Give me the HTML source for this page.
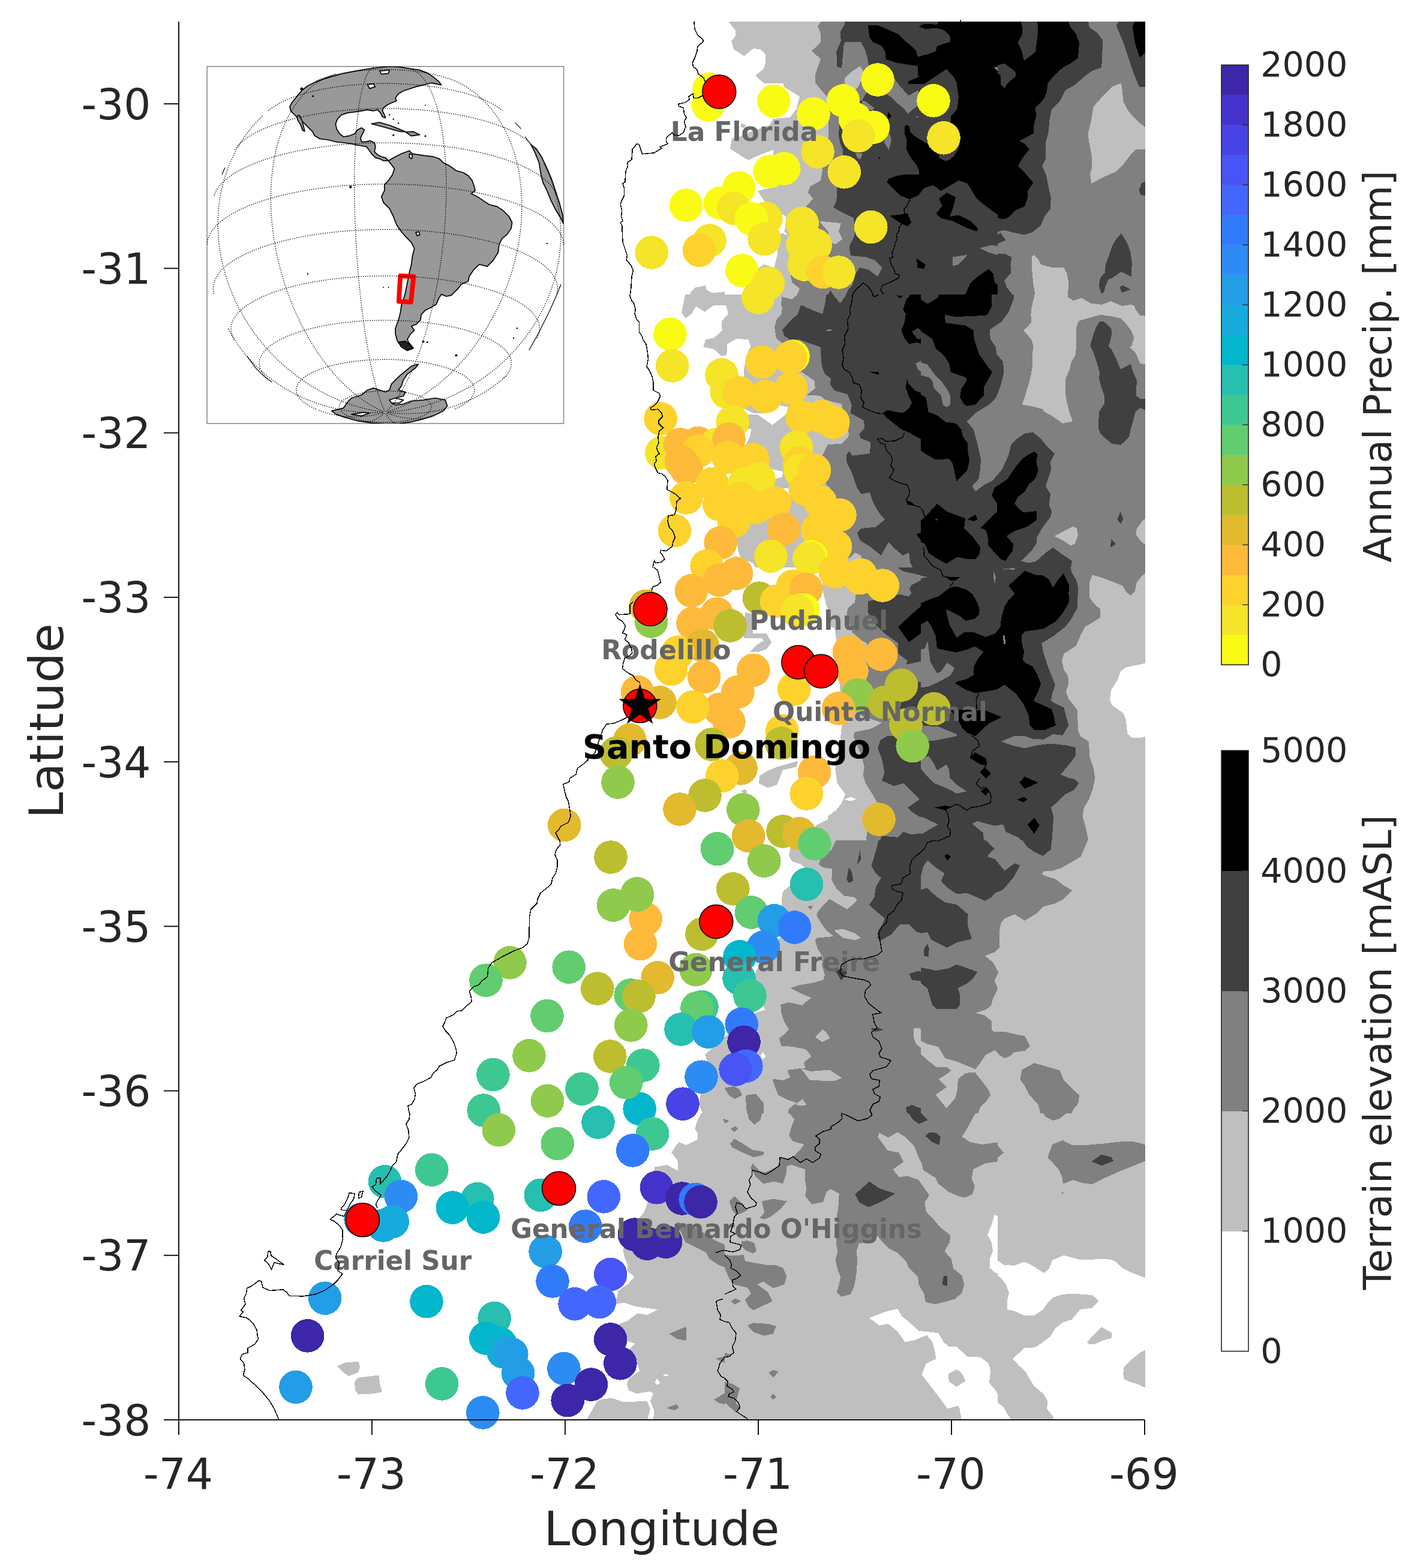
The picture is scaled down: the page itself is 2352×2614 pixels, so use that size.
<!DOCTYPE html>
<html lang="en"><head><meta charset="utf-8"><title>Precipitation stations map</title>
<style>
html,body{margin:0;padding:0;background:#fff;}
body{width:2352px;height:2614px;overflow:hidden;}
svg{display:block;}
text{font-family:"DejaVu Sans","Liberation Sans",sans-serif;fill:#262626;}
.tk{font-size:71px;}
.cb{font-size:57px;}
.lab{font-size:64px;}
.st{font-size:41px;font-weight:bold;fill:#666;}
</style></head><body>
<svg xmlns="http://www.w3.org/2000/svg" width="2352" height="2614" viewBox="0 0 2352 2614">
<rect width="2352" height="2614" fill="#fff"/>
<clipPath id="plot"><rect x="298" y="36" width="1611" height="2331"/></clipPath><g clip-path="url(#plot)" shape-rendering="crispEdges"><clipPath id="cB1"><rect x="753" y="36" width="455" height="455"/></clipPath><g clip-path="url(#cB1)"><polygon points="1150.5,488.5 1158.0,479.8 1175.5,476.0 1178.0,483.5 1188.0,488.5 1210.5,486.0 1210.5,493.5 1150.5,493.5" fill="#bfbfbf"/></g><clipPath id="cC1"><rect x="1208" y="36" width="455" height="455"/></clipPath><g clip-path="url(#cC1)"><rect x="1208" y="36" width="455" height="455" fill="#404040"/><polygon points="1532.8,288.5 1508.0,291.0 1493.0,293.5 1480.5,298.5 1478.0,303.5 1488.0,313.5 1500.5,326.0 1515.5,332.2 1530.5,326.0 1540.5,313.5 1555.5,308.5 1568.0,318.5 1598.0,301.0 1613.0,306.0 1620.5,318.5 1628.0,331.0 1643.0,343.5 1665.5,359.8 1665.5,286.0" fill="#000000"/><polygon points="1565.5,331.0 1578.0,321.0 1593.0,328.5 1588.0,348.5 1583.0,361.0 1598.0,358.5 1618.0,368.5 1630.5,381.0 1628.0,386.0 1608.0,378.5 1588.0,368.5 1568.0,363.5 1560.5,356.0 1570.5,343.5" fill="#000000"/><polygon points="1483.0,359.8 1513.0,356.0 1519.2,371.0 1513.0,377.2 1503.0,373.5" fill="#000000"/><polygon points="1528.0,431.0 1543.0,441.0 1540.5,448.5 1529.2,446.0" fill="#000000"/><polygon points="1608.0,493.5 1618.0,471.0 1633.0,458.5 1648.0,448.5 1655.5,456.0 1658.0,471.0 1663.0,476.0 1665.5,493.5" fill="#000000"/><polygon points="1633.0,413.5 1653.0,408.5 1665.5,411.0 1665.5,426.0 1648.0,421.0" fill="#808080"/><polygon points="1588.0,428.5 1613.0,424.8 1598.0,441.0 1588.0,443.5" fill="#808080"/><polygon points="1411.8,33.5 1400.5,53.5 1401.8,68.5 1394.2,86.0 1395.5,111.0 1403.0,113.5 1405.5,86.0 1406.8,73.5 1410.5,68.5 1434.2,69.8 1445.5,96.0 1448.0,108.5 1458.0,136.0 1443.0,156.5 1437.5,167.8 1408.0,170.5 1400.5,186.0 1398.0,226.0 1400.5,238.5 1405.5,251.0 1403.0,286.0 1395.5,313.5 1394.2,336.0 1389.2,346.0 1400.5,352.2 1423.0,363.5 1425.5,386.0 1423.0,396.0 1415.5,411.0 1418.0,426.0 1443.0,428.5 1458.0,433.5 1470.5,446.0 1463.0,461.0 1448.0,449.8 1433.0,446.0 1425.5,458.5 1420.5,476.0 1414.0,482.5 1409.0,493.5 1205.5,493.5 1205.5,33.5" fill="#808080"/><polygon points="1384.5,484.0 1379.0,493.5 1389.8,493.5" fill="#404040"/><polygon points="1428.0,252.2 1436.8,256.0 1434.2,264.8 1429.2,261.0" fill="#808080"/><polygon points="1370.5,33.5 1363.0,43.5 1368.0,56.0 1368.0,71.0 1353.0,84.8 1368.0,98.5 1359.2,123.5 1359.2,138.5 1378.0,161.0 1383.0,176.0 1380.5,196.0 1380.5,231.0 1373.0,253.5 1370.5,286.0 1368.0,301.0 1350.5,311.0 1346.8,321.0 1355.5,331.0 1344.2,343.5 1338.0,361.0 1333.0,411.0 1320.5,448.5 1318.0,461.0 1320.5,471.0 1333.0,481.0 1328.0,493.5 1205.5,493.5 1205.5,33.5" fill="#bfbfbf"/><polygon points="1365.5,368.5 1401.8,372.2 1398.0,386.0 1404.2,398.5 1393.0,407.2 1383.0,403.5 1380.5,386.0" fill="#bfbfbf"/><polygon points="1205.5,33.5 1214.2,36.0 1225.5,49.8 1225.5,61.0 1219.2,68.5 1223.0,82.2 1240.5,93.5 1255.5,81.0 1268.0,82.2 1275.5,89.8 1275.5,107.2 1273.0,114.8 1259.2,126.0 1273.0,138.5 1305.5,138.5 1306.8,144.8 1333.0,161.0 1328.0,181.0 1317.0,195.8 1288.5,198.0 1283.0,208.5 1250.2,220.2 1233.0,227.8 1220.5,230.2 1217.0,247.5 1235.5,260.0 1247.8,267.2 1265.0,258.8 1288.5,250.0 1288.5,256.2 1290.5,261.0 1283.0,313.5 1263.0,318.5 1273.0,333.5 1290.5,348.5 1310.5,361.0 1308.0,386.0 1313.0,392.2 1303.0,388.5 1295.5,396.0 1295.5,426.0 1290.5,446.0 1273.0,441.0 1263.0,448.5 1253.0,461.0 1245.5,481.0 1238.0,493.5 1205.5,493.5" fill="#ffffff"/><polygon points="1235.5,206.0 1243.0,208.5 1240.5,213.5 1234.2,211.0" fill="#bfbfbf"/></g><clipPath id="cC1a"><rect x="1408" y="36" width="255" height="255"/></clipPath><g clip-path="url(#cC1a)"><rect x="1408" y="36" width="255" height="255" fill="#404040"/><polygon points="1566.3,34.6 1562.1,40.9 1541.1,39.5 1531.3,44.4 1542.5,48.6 1560.7,46.5 1573.3,50.0 1583.1,59.1 1584.5,69.6 1562.1,76.6 1559.3,85.7 1548.1,89.9 1529.9,94.8 1527.1,85.0 1518.7,76.6 1506.1,66.1 1497.7,57.0 1473.9,46.5 1464.0,42.3 1446.5,41.6 1447.2,45.8 1449.3,61.2 1454.2,69.6 1469.7,76.6 1475.3,85.0 1476.7,99.1 1494.9,104.7 1529.9,110.3 1530.6,128.5 1514.5,135.5 1513.8,140.4 1539.7,140.4 1553.7,131.3 1577.5,115.2 1588.7,127.1 1594.4,136.9 1597.9,162.1 1595.8,180.3 1590.1,188.7 1584.5,194.3 1585.2,204.1 1600.0,232.2 1597.2,249.0 1590.1,260.2 1581.7,267.2 1576.1,268.6 1564.9,263.0 1565.6,258.8 1546.7,240.6 1524.3,226.6 1517.3,219.6 1515.9,211.1 1511.7,208.3 1508.2,210.4 1507.5,222.4 1511.7,235.0 1510.3,247.6 1514.5,256.0 1520.1,265.8 1527.1,274.2 1531.3,282.6 1532.7,292.4 1664.4,292.4 1664.4,34.6" fill="#000000"/><polygon points="1480.9,186.6 1485.8,193.6 1481.6,199.2 1479.2,192.9" fill="#000000"/><polygon points="1464.7,261.9 1469.7,263.0 1465.4,264.7" fill="#000000"/><polygon points="1657.4,112.4 1664.4,111.0 1664.4,120.1" fill="#808080"/><polygon points="1406.6,69.6 1434.6,69.6 1441.6,82.2 1445.8,96.2 1447.9,107.5 1462.6,132.7 1443.0,156.5 1437.4,167.7 1406.6,170.5" fill="#808080"/><polygon points="1433.9,110.3 1438.1,117.3 1436.0,132.7 1429.0,146.7 1426.2,149.5 1406.6,141.1 1406.6,131.3 1420.6,118.7" fill="#bfbfbf"/><polygon points="1486.5,127.1 1492.1,132.7 1500.5,143.9 1514.5,159.3 1531.3,150.2 1531.3,176.1 1520.1,183.1 1513.8,190.1 1506.1,180.3 1493.5,170.5 1483.7,160.7 1475.3,155.1" fill="#808080"/><polygon points="1437.4,167.7 1443.0,169.1 1457.7,180.3 1452.8,184.5 1436.0,174.7" fill="#808080"/><polygon points="1475.3,222.4 1483.7,223.8 1485.8,235.0 1481.6,249.7 1473.9,237.8" fill="#808080"/><polygon points="1426.2,254.6 1438.1,256.0 1433.9,265.8 1429.0,263.0" fill="#808080"/><polygon points="1525.7,194.0 1532.0,194.3 1529.2,196.0" fill="#808080"/></g><clipPath id="cD1"><rect x="1663" y="36" width="246" height="455"/></clipPath><g clip-path="url(#cD1)"><rect x="1663" y="36" width="246" height="455" fill="#808080"/><polygon points="1813.7,33.8 1815.9,46.1 1829.4,55.1 1838.4,67.5 1836.2,112.5 1820.4,118.1 1806.9,128.2 1791.2,141.7 1775.5,150.7 1766.5,168.7 1753.0,182.2 1749.6,197.9 1747.3,222.7 1742.8,238.4 1742.8,265.4 1737.2,276.7 1744.0,292.4 1748.5,314.9 1751.8,330.6 1750.7,348.6 1741.7,359.9 1735.0,375.6 1721.5,386.9 1708.0,391.4 1690.0,388.0 1674.2,383.5 1660.8,386.9 1660.8,33.8" fill="#404040"/><polygon points="1780.0,33.8 1784.5,45.0 1793.5,56.2 1799.1,72.0 1796.8,96.7 1784.5,105.7 1773.2,111.3 1762.0,121.5 1753.0,130.5 1746.2,139.5 1745.1,153.0 1740.6,164.2 1726.0,179.9 1727.1,193.4 1722.6,211.4 1722.6,222.7 1699.0,235.1 1708.0,239.6 1715.9,248.6 1704.6,263.2 1696.7,276.7 1708.0,287.9 1722.6,304.8 1713.6,317.2 1712.5,330.6 1708.0,344.1 1692.2,350.9 1681.0,362.1 1674.2,365.5 1660.8,363.3 1660.8,33.8" fill="#000000"/><polygon points="1701.2,33.8 1704.6,47.2 1703.5,58.5 1696.3,70.9 1703.5,85.5 1706.9,101.2 1726.0,86.6 1729.4,60.7 1730.5,45.0 1728.2,33.8" fill="#404040"/><polygon points="1660.8,109.1 1674.2,105.7 1692.2,119.2 1693.4,127.1 1679.9,138.3 1674.2,147.3 1667.5,139.5 1667.5,126.0 1660.8,120.3" fill="#404040"/><polygon points="1860.9,42.7 1865.4,33.8 1912.7,33.8 1912.7,145.1 1899.2,145.1 1890.2,123.7 1878.9,90.0 1872.2,69.7 1865.4,54.0" fill="#404040"/><polygon points="1887.9,45.0 1892.4,33.8 1912.7,33.8 1912.7,83.2 1900.3,96.7 1892.4,74.2" fill="#000000"/><polygon points="1868.8,139.0 1854.2,144.0 1840.7,157.5 1822.7,177.7 1818.2,204.7 1813.7,222.7 1814.8,233.9 1820.4,263.2 1820.4,278.9 1817.1,290.2 1819.3,305.9 1840.7,294.7 1860.9,285.7 1872.2,274.4 1885.7,256.4 1894.7,248.6 1912.7,248.6 1912.7,214.8 1899.2,204.7 1885.7,191.2 1878.9,182.2 1872.2,168.7 1871.1,153.0" fill="#bfbfbf"/><polygon points="1912.7,301.4 1903.7,304.8 1898.7,316.0 1901.4,325.0 1912.7,327.3" fill="#404040"/><polygon points="1660.8,393.6 1667.5,388.0 1676.5,400.4 1660.8,407.1" fill="#404040"/><polygon points="1660.8,422.9 1674.2,422.9 1686.6,428.5 1684.4,440.9 1685.5,454.4 1674.2,467.8 1678.7,480.2 1685.5,488.1 1687.7,494.8 1660.8,494.8" fill="#404040"/><polygon points="1720.4,427.4 1723.7,425.1 1730.5,431.9 1735.0,440.9 1755.2,446.5 1773.2,445.8 1778.8,456.6 1781.1,470.1 1780.0,494.8 1726.0,494.8 1722.6,474.6 1720.4,452.1" fill="#bfbfbf"/><polygon points="1868.8,389.1 1878.9,404.9 1884.5,420.6 1886.8,438.6 1885.7,461.1 1868.8,453.2 1854.2,463.4 1847.4,465.6 1842.9,476.8 1840.7,485.8 1836.2,490.3 1831.7,476.8 1833.9,463.4 1841.8,454.4 1842.9,440.9 1849.7,422.9 1854.2,409.4 1860.9,398.1" fill="#404040"/><polygon points="1866.6,478.0 1871.1,475.7 1884.5,482.5 1869.9,488.1" fill="#404040"/></g><clipPath id="cM2"><rect x="1080" y="491" width="455" height="455"/></clipPath><g clip-path="url(#cM2)"><rect x="1080" y="491" width="455" height="455" fill="#404040"/><polygon points="1511.2,498.5 1520.0,488.5 1537.5,488.5 1537.5,573.5 1527.5,571.0 1515.0,573.5 1507.5,563.5 1502.5,551.0 1507.5,538.5 1510.0,523.5 1505.0,516.0" fill="#000000"/><polygon points="1520.0,553.5 1528.8,547.2 1537.5,551.0 1537.5,563.5 1530.0,566.0" fill="#404040"/><polygon points="1495.0,492.2 1505.0,493.5 1500.0,497.2" fill="#000000"/><polygon points="1447.5,619.8 1465.0,619.8 1465.0,624.8" fill="#000000"/><polygon points="1511.2,631.0 1515.0,641.0 1525.0,651.0 1537.5,656.0 1537.5,733.5 1515.0,721.0 1502.5,716.0 1490.0,706.0 1477.5,696.0 1471.2,688.5 1480.0,683.5 1490.0,686.0 1505.0,688.5 1515.0,681.0 1520.0,671.0 1515.0,661.0 1510.0,646.0" fill="#000000"/><polygon points="1526.2,606.0 1537.5,599.8 1537.5,621.0 1530.0,616.0" fill="#808080"/><polygon points="1510.0,833.5 1520.0,837.2 1525.0,843.5 1512.5,841.0" fill="#000000"/><polygon points="1527.5,891.0 1537.5,886.0 1537.5,903.5" fill="#000000"/><polygon points="1377.5,488.5 1375.0,508.5 1371.2,523.5 1357.5,518.5 1335.0,508.5 1330.0,523.5 1318.8,533.5 1303.8,549.8 1307.5,559.8 1316.2,566.0 1332.5,566.0 1348.8,572.2 1367.5,578.5 1370.0,611.0 1375.0,623.5 1385.0,631.0 1383.8,641.0 1391.2,651.0 1412.5,657.2 1416.2,666.0 1420.0,676.0 1417.5,688.5 1440.0,701.0 1441.2,713.5 1432.5,723.5 1435.0,731.0 1451.2,737.2 1450.0,756.0 1421.2,759.8 1415.0,752.2 1411.2,758.5 1411.2,769.8 1421.2,791.0 1428.8,813.5 1435.0,823.5 1450.0,821.0 1455.0,836.0 1460.0,846.0 1468.8,859.8 1475.0,866.0 1460.0,878.5 1435.0,881.0 1428.8,888.5 1433.8,901.0 1450.0,911.0 1468.8,926.0 1481.2,903.5 1490.0,913.5 1505.0,926.0 1515.0,921.0 1517.5,938.5 1522.5,948.5 1077.5,948.5 1077.5,488.5" fill="#808080"/><polygon points="1376.2,549.8 1386.2,549.0 1385.0,552.2 1377.5,551.8" fill="#808080"/><polygon points="1386.2,488.5 1400.8,505.5 1412.5,488.5" fill="#808080"/><polygon points="1328.8,488.5 1328.2,492.2 1320.0,499.0 1303.5,494.8 1302.0,507.2 1303.8,513.5 1302.5,523.5 1293.8,533.5 1291.2,546.0 1293.8,563.5 1305.0,573.5 1330.0,616.0 1345.0,626.0 1357.5,634.8 1358.8,647.2 1345.0,658.5 1367.5,659.8 1375.0,666.0 1392.5,671.0 1402.5,673.5 1405.0,683.5 1415.0,723.5 1413.8,728.5 1402.5,739.8 1380.0,741.0 1367.5,766.0 1377.5,808.5 1383.8,813.5 1392.5,841.0 1405.0,891.0 1415.0,931.0 1425.0,921.0 1435.0,926.0 1440.0,938.5 1430.0,948.5 1077.5,948.5 1077.5,488.5" fill="#bfbfbf"/><polygon points="1142.5,488.5 1136.2,521.0 1142.5,531.0 1152.5,523.5 1160.0,511.0 1175.0,519.8 1190.0,508.5 1210.0,508.5 1213.8,523.5 1202.5,536.0 1203.8,551.0 1190.0,563.5 1176.2,566.0 1172.5,578.5 1190.0,582.2 1202.5,593.5 1211.2,592.2 1212.5,573.5 1227.5,564.8 1247.5,566.0 1251.2,577.2 1245.0,591.0 1240.0,616.0 1240.0,681.0 1255.0,688.5 1277.5,688.5 1300.0,676.0 1313.8,678.5 1310.0,691.0 1300.0,698.5 1287.5,708.5 1277.5,701.0 1262.5,691.0 1245.0,691.0 1242.5,716.0 1252.5,714.8 1250.0,728.5 1230.0,766.0 1292.5,783.5 1305.0,786.0 1303.8,794.8 1292.5,798.5 1280.0,816.0 1315.0,813.5 1317.5,823.5 1305.0,841.0 1255.0,861.0 1230.0,871.0 1227.5,891.0 1230.0,916.0 1235.0,931.0 1255.0,938.5 1260.0,948.5 1077.5,948.5 1077.5,488.5" fill="#ffffff"/></g><clipPath id="cR2"><rect x="1535" y="491" width="374" height="455"/></clipPath><g clip-path="url(#cR2)"><rect x="1535" y="491" width="374" height="455" fill="#808080"/><polygon points="1690.2,488.8 1690.2,497.7 1681.2,520.2 1670.0,536.0 1649.7,549.5 1650.8,565.2 1659.8,578.7 1661.0,590.0 1672.2,603.5 1673.3,621.5 1667.7,643.9 1659.8,664.2 1647.5,675.4 1627.2,687.8 1611.5,702.4 1622.7,715.9 1628.3,736.2 1635.1,765.4 1634.0,781.1 1631.7,798.0 1620.5,810.4 1626.1,819.4 1640.7,808.1 1654.2,801.4 1670.0,783.4 1681.2,758.7 1685.7,740.7 1694.7,731.7 1708.2,722.7 1721.7,720.4 1735.2,731.7 1745.3,744.0 1757.7,756.4 1750.9,769.9 1752.0,783.4 1743.1,810.4 1750.9,823.9 1748.7,841.9 1753.2,853.1 1750.9,862.1 1737.4,880.1 1728.4,895.9 1728.4,904.9 1719.4,918.4 1705.9,931.8 1701.4,935.2 1714.9,938.6 1726.2,936.3 1744.2,920.6 1755.4,912.7 1768.9,922.8 1786.9,935.2 1784.7,949.8 1532.8,949.8 1532.8,488.8" fill="#404040"/><polygon points="1532.8,603.5 1546.2,608.0 1557.5,623.7 1568.7,634.9 1580.0,650.7 1584.5,661.9 1583.4,675.4 1577.7,678.8 1572.1,675.4 1568.7,659.7 1556.4,646.2 1554.1,634.9 1548.5,629.3 1532.8,624.8" fill="#808080"/><polygon points="1564.2,488.8 1653.1,488.8 1653.1,511.2 1647.5,522.5 1643.0,525.9 1592.4,528.1 1574.4,524.7 1576.6,538.2 1609.2,542.7 1622.7,550.6 1623.8,565.2 1631.7,590.0 1647.5,612.5 1654.2,620.3 1639.6,646.2 1639.6,659.7 1626.1,674.3 1611.5,677.2 1605.9,673.2 1600.2,661.9 1602.5,648.4 1611.5,634.9 1610.3,629.3 1584.5,620.3 1582.2,605.7 1573.2,592.2 1559.7,581.0 1554.1,565.2 1532.8,550.6 1532.8,497.7 1546.2,506.7 1564.2,495.5" fill="#000000"/><polygon points="1532.8,656.3 1544.0,663.1 1547.4,686.7 1562.0,692.3 1576.6,703.6 1593.5,705.8 1602.5,715.9 1604.7,727.2 1612.6,738.4 1613.7,756.4 1616.0,767.7 1612.6,783.4 1594.6,802.5 1587.9,772.2 1582.2,765.4 1575.5,765.4 1559.7,766.5 1546.2,758.7 1532.8,749.7" fill="#000000"/><polygon points="1723.9,753.0 1729.6,757.5 1727.3,769.9 1730.7,783.4 1726.2,796.9 1714.9,808.1 1708.2,819.4 1696.9,828.4 1691.3,839.6 1696.9,846.4 1705.9,854.2 1728.4,852.0 1728.4,866.6 1712.7,877.9 1692.4,884.6 1677.8,893.6 1689.1,907.1 1687.9,918.4 1675.6,935.2 1667.7,931.8 1655.3,918.4 1647.5,909.4 1646.3,893.6 1643.0,883.5 1634.0,880.1 1647.5,866.6 1662.1,853.1 1662.1,839.6 1653.1,826.1 1657.6,812.6 1665.5,808.1 1678.9,799.1 1692.4,778.9 1705.9,763.2 1714.9,757.5" fill="#000000"/><polygon points="1562.0,839.6 1578.9,853.1 1594.6,858.7 1609.2,864.4 1607.0,880.1 1620.5,893.6 1627.2,902.6 1634.0,911.6 1632.8,924.0 1626.1,931.8 1611.5,931.8 1595.7,928.5 1577.7,939.7 1568.7,935.2 1548.5,922.8 1541.7,907.1 1532.8,902.6 1532.8,868.9 1544.0,859.9" fill="#000000"/><polygon points="1612.6,866.2 1626.1,857.6 1629.5,865.5 1623.8,868.9" fill="#000000"/><polygon points="1558.6,865.5 1563.1,864.4 1562.0,868.9" fill="#404040"/><polygon points="1725.1,488.8 1719.4,513.5 1718.3,524.7 1719.4,537.1 1712.7,545.0 1705.9,550.6 1719.4,566.3 1722.8,577.6 1720.6,590.0 1720.6,612.5 1718.3,626.0 1714.9,639.4 1708.2,661.9 1703.7,674.3 1721.7,677.7 1738.6,682.2 1739.7,685.6 1755.4,694.6 1771.2,705.8 1788.0,702.4 1782.4,686.7 1777.9,668.7 1775.7,652.9 1775.7,632.7 1782.4,617.0 1785.8,603.5 1792.5,592.2 1793.7,581.0 1793.7,547.2 1798.2,534.9 1834.1,524.7 1849.9,527.0 1867.9,530.4 1876.9,539.4 1885.9,551.7 1890.4,563.0 1885.9,577.6 1882.5,578.7 1892.6,587.7 1900.5,605.7 1911.7,608.0 1911.7,527.0 1900.5,525.9 1892.6,515.7 1890.4,509.0 1884.8,507.9 1870.1,510.1 1852.1,502.2 1836.4,507.9 1818.4,505.6 1802.7,496.6 1789.2,501.1 1780.2,495.5 1780.2,488.8" fill="#bfbfbf"/><polygon points="1757.7,893.6 1788.0,877.9 1794.8,880.1 1797.0,892.5 1791.4,907.1 1784.7,909.4 1771.2,900.4" fill="#bfbfbf"/><polygon points="1911.7,862.1 1903.9,868.9 1894.9,881.2 1893.7,891.4 1901.6,902.6 1911.7,909.4" fill="#bfbfbf"/><polygon points="1833.0,536.0 1839.8,536.0 1852.1,547.2 1853.3,556.2 1851.0,567.5 1847.6,577.6 1852.1,581.0 1858.9,594.5 1867.9,615.8 1884.8,606.8 1889.3,621.5 1894.9,633.8 1893.7,659.7 1901.6,665.3 1911.7,664.2 1911.7,684.4 1900.5,679.9 1892.6,686.7 1889.3,700.2 1884.8,715.9 1882.5,727.2 1876.9,733.9 1867.9,741.8 1853.3,739.5 1842.0,730.5 1834.1,722.7 1830.8,713.7 1831.9,686.7 1840.9,673.2 1840.9,659.7 1835.3,643.9 1831.9,630.5 1833.0,621.5 1827.4,601.2 1822.9,587.7 1817.3,576.5 1822.9,556.2 1827.4,545.0" fill="#404040"/><polygon points="1867.9,853.1 1872.4,865.5 1867.9,873.4 1862.3,865.5" fill="#404040"/><polygon points="1852.1,898.1 1860.0,907.1 1851.0,912.7" fill="#404040"/></g><clipPath id="cM3"><rect x="1080" y="946" width="455" height="455"/></clipPath><g clip-path="url(#cM3)"><polygon points="1371.2,943.5 1371.2,983.5 1377.5,1008.5 1385.0,1033.5 1390.0,1058.5 1392.5,1096.0 1400.0,1146.0 1405.0,1208.5 1402.5,1221.0 1405.0,1246.0 1402.5,1271.0 1395.0,1296.0 1393.8,1316.0 1400.0,1336.0 1402.5,1356.0 1380.0,1366.0 1360.0,1376.0 1355.0,1386.0 1367.5,1396.0 1375.0,1403.5 1537.5,1403.5 1537.5,943.5" fill="#bfbfbf"/><polygon points="1430.0,943.5 1427.5,996.0 1425.0,1021.0 1422.5,1046.0 1435.0,1058.5 1447.5,1108.5 1450.0,1133.5 1442.5,1196.0 1425.0,1221.0 1435.0,1216.0 1450.0,1221.0 1440.0,1246.0 1435.0,1258.5 1442.5,1271.0 1440.0,1296.0 1445.0,1316.0 1462.5,1331.0 1455.0,1346.0 1430.0,1371.0 1417.5,1386.0 1405.0,1403.5 1537.5,1403.5 1537.5,943.5" fill="#808080"/><polygon points="1522.5,943.5 1516.2,973.5 1520.0,988.5 1505.0,996.0 1450.0,1006.0 1447.5,1021.0 1470.0,1051.0 1495.0,1063.5 1510.0,1096.0 1525.0,1116.0 1505.0,1196.0 1465.0,1241.0 1480.0,1226.0 1492.5,1233.5 1470.0,1258.5 1467.5,1271.0 1475.0,1283.5 1472.5,1301.0 1480.0,1308.5 1505.0,1318.5 1515.0,1321.0 1520.0,1333.5 1537.5,1336.0 1537.5,943.5" fill="#404040"/><polygon points="1537.5,1336.0 1520.0,1346.0 1512.5,1356.0 1525.0,1371.0 1520.0,1383.5 1530.0,1403.5 1537.5,1403.5" fill="#404040"/><polygon points="1497.5,1043.5 1537.5,1007.2 1537.5,1048.5 1515.0,1071.0 1505.0,1058.5" fill="#000000"/><polygon points="1242.5,1021.0 1255.0,1023.5 1255.0,1056.0 1277.5,1056.0 1286.2,1071.0 1277.5,1082.2 1265.0,1086.5 1250.0,1086.5 1260.0,1076.0 1272.5,1068.5 1270.0,1063.5 1240.0,1063.5 1237.5,1056.0" fill="#bfbfbf"/><polygon points="1266.2,1293.5 1277.5,1286.0 1295.0,1278.5 1330.0,1268.5 1327.5,1278.5 1305.0,1283.5 1300.0,1296.0 1295.0,1308.5 1280.0,1313.5 1265.0,1306.0" fill="#bfbfbf"/><polygon points="1235.0,1318.5 1242.5,1316.0 1246.2,1321.0 1240.0,1322.2" fill="#bfbfbf"/><polygon points="1407.5,1332.2 1417.5,1328.5 1427.5,1332.2 1417.5,1335.2" fill="#ffffff"/></g><clipPath id="cM3r"><rect x="1380" y="946" width="155" height="455"/></clipPath><g clip-path="url(#cM3r)"><rect x="1380" y="946" width="155" height="455" fill="#404040"/><polygon points="1497.0,1045.0 1523.9,1020.2 1541.9,1004.5 1559.9,997.7 1582.4,979.7 1604.9,966.2 1636.4,966.2 1636.4,1072.0 1604.9,1072.0 1582.4,1063.0 1559.9,1051.7 1545.3,1036.0 1537.4,1054.0 1515.0,1070.8" fill="#000000"/><polygon points="1377.8,943.8 1492.5,943.8 1506.0,952.7 1537.4,959.5 1547.6,962.9 1535.2,967.4 1519.5,975.2 1516.1,982.0 1519.5,988.7 1515.0,994.4 1499.2,991.0 1447.5,1002.2 1446.4,1020.2 1458.7,1040.5 1474.5,1056.2 1497.0,1072.0 1497.0,1089.9 1512.7,1101.2 1510.5,1107.9 1541.9,1101.2 1545.3,1068.6 1547.6,1089.9 1552.1,1110.2 1561.1,1122.6 1576.8,1104.6 1590.3,1113.6 1582.4,1127.1 1564.4,1133.8 1530.7,1137.2 1515.0,1148.4 1497.0,1170.9 1488.0,1193.4 1537.4,1206.9 1550.9,1213.7 1593.7,1224.9 1559.9,1229.4 1550.9,1233.9 1537.4,1245.1 1506.0,1227.2 1479.0,1227.2 1467.7,1233.9 1463.2,1247.4 1470.0,1265.4 1474.5,1287.9 1470.0,1301.4 1490.2,1310.4 1506.0,1305.9 1519.5,1319.4 1532.9,1332.9 1512.7,1346.4 1519.5,1353.1 1537.4,1364.4 1559.9,1375.6 1550.9,1386.8 1519.5,1391.3 1506.0,1386.8 1497.0,1395.8 1470.0,1393.6 1465.5,1404.8 1377.8,1404.8" fill="#808080"/><polygon points="1377.8,943.8 1427.2,943.8 1427.2,986.5 1425.0,1004.5 1413.7,1013.5 1411.5,1022.5 1420.5,1054.0 1436.2,1067.5 1445.2,1072.0 1443.0,1112.4 1425.0,1148.4 1436.2,1193.4 1470.0,1204.7 1454.2,1213.7 1447.5,1215.9 1425.0,1220.4 1422.7,1227.2 1436.2,1260.9 1440.7,1278.9 1438.5,1292.4 1443.0,1305.9 1454.2,1323.9 1463.2,1339.6 1456.5,1350.9 1447.5,1373.4 1443.0,1404.8 1377.8,1404.8" fill="#bfbfbf"/><polygon points="1377.8,1042.7 1391.2,1047.2 1393.5,1063.0 1398.0,1125.9 1404.7,1193.4 1402.5,1215.9 1400.2,1238.4 1393.5,1260.9 1392.4,1283.4 1395.7,1305.9 1409.2,1323.9 1402.5,1339.6 1393.5,1350.9 1377.8,1362.1" fill="#ffffff"/><polygon points="1408.1,1332.4 1418.2,1328.4 1427.2,1332.4 1417.1,1335.6" fill="#ffffff"/></g><clipPath id="cR3"><rect x="1535" y="946" width="374" height="455"/></clipPath><g clip-path="url(#cR3)"><rect x="1535" y="946" width="374" height="455" fill="#404040"/><polygon points="1783.5,943.8 1786.9,955.0 1793.7,966.2 1797.0,977.5 1795.9,1013.5 1784.7,1033.7 1775.7,1045.0 1755.4,1060.7 1736.3,1072.0 1739.7,1089.9 1746.4,1110.2 1754.3,1130.4 1758.8,1141.7 1753.2,1159.7 1752.0,1168.7 1773.4,1179.9 1776.8,1193.4 1781.3,1209.2 1771.2,1226.0 1755.4,1223.8 1739.7,1232.8 1721.7,1231.7 1708.2,1227.2 1690.2,1227.2 1668.8,1236.1 1687.9,1242.9 1708.2,1247.4 1726.2,1242.9 1750.9,1239.5 1780.2,1242.9 1792.5,1246.3 1792.5,1260.9 1780.2,1276.6 1767.8,1291.3 1781.3,1296.9 1791.4,1299.1 1798.2,1305.9 1790.3,1317.1 1775.7,1323.9 1764.4,1335.1 1752.0,1346.4 1756.5,1362.1 1755.4,1373.4 1753.2,1404.8 1917.4,1404.8 1917.4,943.8" fill="#808080"/><polygon points="1917.4,950.5 1903.9,959.5 1894.9,970.7 1891.5,986.5 1884.8,993.2 1876.9,986.5 1871.3,976.4 1856.6,970.7 1836.4,962.9 1820.7,958.4 1816.2,970.7 1816.2,995.5 1821.8,1004.5 1834.1,1015.7 1834.1,1029.2 1820.7,1038.2 1808.3,1045.0 1801.5,1058.5 1793.7,1076.5 1773.4,1089.9 1770.0,1101.2 1773.4,1116.9 1780.2,1125.9 1781.3,1139.4 1776.8,1152.9 1781.3,1165.3 1791.4,1177.7 1795.9,1184.4 1797.0,1215.9 1800.4,1227.2 1815.0,1236.1 1816.2,1260.9 1822.9,1281.1 1825.1,1296.9 1821.8,1314.9 1815.0,1332.9 1806.0,1348.6 1804.9,1362.1 1809.4,1377.8 1815.0,1404.8 1917.4,1404.8" fill="#bfbfbf"/><polygon points="1917.4,1103.4 1899.4,1107.9 1876.9,1112.4 1867.9,1119.2 1863.4,1132.7 1852.1,1150.7 1849.9,1166.4 1853.3,1175.4 1872.4,1188.9 1876.9,1200.2 1879.1,1222.7 1885.9,1229.4 1899.4,1230.5 1917.4,1226.0" fill="#ffffff"/><polygon points="1532.8,1006.7 1553.0,997.7 1564.2,994.4 1583.4,979.7 1593.5,977.5 1611.5,983.1 1621.6,991.0 1629.5,1005.6 1632.8,1015.7 1631.7,1024.7 1625.0,1031.5 1609.2,1034.8 1600.2,1027.0 1589.0,1021.3 1576.6,1015.7 1582.2,1040.5 1594.6,1063.0 1607.0,1054.0 1622.7,1054.0 1643.0,1061.8 1658.7,1056.2 1667.7,1045.0 1668.8,1031.5 1674.5,1011.2 1681.2,1000.0 1691.3,989.9 1681.2,976.4 1708.2,951.6 1726.2,958.4 1738.6,959.5 1748.7,966.2 1755.4,979.7 1762.2,968.5 1772.3,956.1 1782.4,975.2 1781.3,988.7 1782.4,1003.4 1771.2,1022.5 1759.9,1036.0 1739.7,1048.3 1708.2,1052.8 1702.6,1058.5 1703.7,1074.2 1707.1,1086.6 1704.8,1100.1 1710.4,1105.7 1721.7,1111.3 1727.3,1121.4 1735.2,1139.4 1730.7,1152.9 1722.8,1168.7 1753.2,1182.2 1756.5,1193.4 1759.9,1209.2 1741.9,1217.0 1723.9,1217.0 1716.1,1208.0 1714.9,1193.4 1705.9,1173.2 1692.4,1155.2 1674.5,1141.7 1661.0,1149.6 1643.0,1152.9 1625.0,1155.2 1609.2,1149.6 1592.4,1139.4 1595.7,1136.1 1609.2,1132.7 1622.7,1125.9 1622.7,1112.4 1629.5,1098.9 1639.6,1086.6 1625.0,1077.6 1611.5,1083.2 1593.5,1087.7 1562.0,1081.0 1559.7,1060.7 1553.0,1045.0 1546.2,1034.8 1532.8,1042.7" fill="#000000"/><polygon points="1672.2,1058.5 1674.5,1059.6 1676.7,1073.1 1672.7,1074.2" fill="#808080"/><polygon points="1583.4,1182.2 1643.0,1184.4 1670.0,1195.7 1647.5,1206.9 1634.0,1219.3 1626.1,1227.2 1611.5,1221.5 1602.5,1211.4 1595.7,1197.9" fill="#000000"/><polygon points="1616.0,1263.1 1625.0,1254.1 1644.1,1264.3 1645.2,1276.6 1634.0,1274.4" fill="#000000"/><polygon points="1634.0,1287.9 1641.8,1278.9 1652.0,1290.1 1643.0,1298.0" fill="#000000"/><polygon points="1635.1,1319.4 1643.0,1311.5 1649.7,1318.2 1643.0,1326.1" fill="#000000"/><polygon points="1699.2,1304.7 1708.2,1294.6 1730.7,1304.7 1708.2,1314.9" fill="#000000"/><polygon points="1694.7,1332.9 1707.1,1328.4 1712.7,1332.9 1705.9,1337.4" fill="#000000"/><polygon points="1712.7,1374.5 1723.9,1363.2 1732.9,1375.6 1723.9,1390.2" fill="#000000"/><polygon points="1557.5,1346.4 1575.5,1343.0 1586.7,1345.2 1575.5,1350.9" fill="#000000"/><polygon points="1575.5,961.3 1600.2,962.2 1591.2,968.5 1583.4,967.4" fill="#000000"/><polygon points="1532.8,959.5 1546.2,961.7 1532.8,965.1" fill="#808080"/><polygon points="1656.5,952.7 1659.8,961.7 1658.7,973.0 1656.0,964.0" fill="#808080"/><polygon points="1667.7,948.2 1692.4,947.1 1690.2,950.0" fill="#808080"/><polygon points="1532.8,1083.2 1541.7,1081.0 1546.2,1068.6 1548.5,1085.5 1550.7,1103.4 1562.0,1122.6 1568.7,1119.2 1578.9,1104.6 1591.2,1113.6 1584.5,1125.9 1564.2,1137.2 1546.2,1145.1 1532.8,1146.2" fill="#808080"/><polygon points="1532.8,1209.2 1564.2,1211.4 1594.6,1223.8 1594.6,1227.2 1555.2,1235.0 1532.8,1236.1" fill="#808080"/><polygon points="1532.8,1260.9 1548.5,1260.9 1557.5,1274.4 1562.0,1284.5 1577.7,1274.4 1582.2,1283.4 1583.4,1296.9 1594.6,1308.1 1611.5,1319.4 1594.6,1322.7 1580.0,1314.9 1557.5,1305.9 1544.0,1292.4 1532.8,1278.9" fill="#808080"/><polygon points="1532.8,1359.9 1564.2,1374.5 1532.8,1392.5" fill="#808080"/><polygon points="1620.5,1373.4 1629.5,1368.9 1657.6,1376.7 1672.2,1374.5 1676.7,1386.8 1696.9,1395.8 1705.9,1404.8 1640.7,1404.8 1638.5,1388.0" fill="#808080"/></g><clipPath id="cM4"><rect x="1080" y="1401" width="455" height="455"/></clipPath><g clip-path="url(#cM4)"><polygon points="1320.0,1398.5 1315.0,1426.0 1320.0,1436.0 1335.0,1441.0 1340.0,1446.0 1317.5,1476.0 1305.0,1486.0 1302.5,1501.0 1303.8,1511.0 1300.0,1563.5 1270.0,1601.0 1260.0,1618.5 1255.0,1638.5 1275.0,1683.5 1260.0,1688.5 1230.0,1713.5 1207.5,1728.5 1175.0,1758.5 1180.0,1771.0 1167.5,1801.0 1167.5,1826.0 1165.0,1841.0 1172.5,1858.5 1537.5,1858.5 1537.5,1398.5" fill="#bfbfbf"/><polygon points="1267.5,1758.5 1272.5,1753.5 1276.2,1761.0 1271.2,1766.0" fill="#ffffff"/><polygon points="1395.0,1398.5 1386.2,1416.0 1367.5,1433.5 1365.0,1441.0 1371.2,1446.0 1387.5,1448.5 1386.2,1466.0 1393.8,1481.0 1407.5,1493.5 1425.0,1496.0 1428.8,1501.0 1412.5,1516.0 1382.5,1498.5 1372.5,1508.5 1362.5,1521.0 1361.2,1526.0 1370.0,1541.0 1377.5,1551.0 1390.0,1561.0 1362.5,1563.5 1358.8,1567.2 1362.5,1581.0 1367.5,1588.5 1372.5,1596.0 1370.0,1608.5 1375.0,1626.0 1372.5,1633.5 1355.0,1638.5 1332.5,1642.2 1317.5,1647.2 1330.0,1653.5 1340.0,1658.5 1352.5,1663.5 1342.5,1671.0 1337.5,1676.0 1315.0,1671.0 1301.2,1674.8 1302.5,1688.5 1307.5,1703.5 1315.0,1716.0 1305.0,1726.0 1298.8,1731.0 1302.5,1743.5 1320.0,1744.8 1340.0,1748.5 1345.0,1751.0 1352.5,1761.0 1340.0,1771.0 1342.5,1781.0 1335.0,1781.0 1315.0,1783.5 1312.5,1786.0 1317.5,1796.0 1305.0,1801.0 1287.5,1798.5 1292.5,1813.5 1297.5,1826.0 1312.5,1833.5 1327.5,1838.5 1315.0,1848.5 1312.5,1858.5 1537.5,1858.5 1537.5,1398.5" fill="#808080"/><polygon points="1390.0,1551.0 1405.0,1548.5 1425.0,1556.0 1435.0,1563.5 1425.0,1567.2 1405.0,1563.5" fill="#bfbfbf"/><polygon points="1358.8,1728.5 1371.2,1716.0 1377.5,1721.0 1383.8,1731.0 1370.0,1737.2" fill="#bfbfbf"/><polygon points="1335.0,1781.0 1350.0,1786.0 1382.5,1783.5 1403.8,1797.2 1390.0,1802.2 1350.0,1801.0" fill="#bfbfbf"/><polygon points="1326.2,1841.0 1337.5,1832.2 1345.0,1842.2 1332.5,1843.5" fill="#bfbfbf"/><polygon points="1522.5,1714.8 1530.0,1713.5 1537.5,1716.0 1537.5,1748.5 1527.5,1741.0 1522.5,1728.5" fill="#bfbfbf"/><polygon points="1207.5,1813.5 1222.5,1811.0 1232.5,1816.0 1237.5,1826.0 1225.0,1832.2 1215.0,1826.0" fill="#808080"/><polygon points="1242.5,1826.0 1260.0,1823.5 1272.5,1838.5 1272.5,1858.5 1245.0,1858.5 1243.8,1841.0" fill="#808080"/><polygon points="1345.0,1511.0 1355.0,1509.8 1351.2,1517.2" fill="#808080"/><polygon points="1465.0,1398.5 1460.0,1418.5 1452.5,1443.5 1460.0,1456.0 1468.8,1463.5 1460.0,1478.5 1457.5,1496.0 1448.8,1508.5 1462.5,1521.0 1475.0,1531.0 1470.0,1543.5 1463.8,1551.0 1462.5,1563.5 1466.2,1568.5 1485.0,1558.5 1500.0,1541.0 1515.0,1541.0 1527.5,1553.5 1537.5,1556.0 1537.5,1398.5" fill="#404040"/><polygon points="1515.0,1623.5 1530.0,1618.5 1537.5,1621.0 1537.5,1636.0 1520.0,1633.5" fill="#404040"/><polygon points="1392.5,1618.5 1402.5,1613.5 1412.5,1621.0 1402.5,1634.8" fill="#404040"/><polygon points="1450.0,1714.8 1465.0,1713.5 1472.5,1717.2 1460.0,1719.8" fill="#404040"/><polygon points="1415.0,1446.0 1420.0,1453.5 1422.5,1468.5 1415.0,1472.2 1411.2,1466.0" fill="#404040"/><polygon points="1428.8,1441.0 1433.8,1416.0 1435.0,1433.5" fill="#404040"/><polygon points="1510.0,1846.0 1520.0,1842.2 1537.5,1848.5 1537.5,1858.5 1512.5,1858.5" fill="#404040"/></g><clipPath id="cR4"><rect x="1535" y="1401" width="374" height="455"/></clipPath><g clip-path="url(#cR4)"><rect x="1535" y="1401" width="374" height="455" fill="#bfbfbf"/><polygon points="1813.9,1398.8 1809.4,1410.0 1801.5,1428.0 1784.7,1438.1 1768.9,1447.1 1754.3,1451.6 1739.7,1452.7 1736.3,1457.2 1746.4,1461.7 1758.8,1465.1 1773.4,1476.3 1786.9,1484.2 1771.2,1500.0 1757.7,1506.7 1739.7,1511.2 1728.4,1522.5 1708.2,1534.8 1691.3,1524.3 1674.5,1531.5 1668.8,1538.2 1665.5,1553.9 1665.5,1569.7 1666.6,1578.7 1657.6,1587.7 1641.8,1593.3 1656.5,1605.7 1664.3,1621.4 1657.6,1634.9 1663.2,1648.4 1655.3,1664.2 1652.0,1676.5 1643.0,1683.3 1626.1,1688.9 1640.7,1692.3 1653.1,1702.4 1653.1,1717.0 1657.6,1720.4 1674.5,1719.9 1690.2,1723.8 1708.2,1727.1 1717.2,1744.0 1708.2,1751.9 1690.2,1754.1 1683.4,1760.9 1674.5,1764.2 1665.5,1758.6 1658.7,1750.8 1643.0,1758.6 1634.0,1772.1 1626.1,1782.2 1609.2,1775.5 1595.7,1769.9 1575.5,1764.2 1564.2,1745.1 1546.2,1740.6 1532.8,1733.9 1532.8,1398.8" fill="#808080"/><polygon points="1532.8,1755.3 1546.2,1767.6 1560.9,1778.9 1577.7,1778.9 1585.6,1784.5 1577.7,1791.2 1564.2,1799.1 1577.7,1812.6 1559.7,1825.0 1577.7,1847.5 1592.4,1830.6 1595.7,1817.1 1596.9,1799.1 1609.2,1789.0 1625.0,1787.4 1636.2,1801.4 1648.6,1818.2 1650.8,1826.1 1643.0,1837.3 1634.0,1845.2 1629.5,1859.8 1532.8,1859.8" fill="#808080"/><polygon points="1723.9,1772.1 1766.7,1784.5 1773.4,1801.4 1789.2,1817.1 1799.3,1826.1 1797.0,1839.6 1789.2,1849.7 1784.7,1859.8 1735.2,1859.8 1730.7,1841.8 1714.9,1823.9 1708.2,1810.4 1700.3,1799.1 1703.7,1783.4" fill="#808080"/><polygon points="1532.8,1398.8 1640.7,1398.8 1657.6,1414.5 1645.2,1428.0 1658.7,1432.5 1674.5,1451.6 1691.3,1439.2 1700.3,1442.6 1690.2,1461.7 1678.9,1475.2 1670.0,1484.2 1658.7,1488.7 1652.0,1496.6 1641.8,1501.8 1625.0,1494.3 1611.5,1488.7 1594.6,1490.5 1577.7,1478.6 1568.7,1468.5 1574.4,1456.1 1559.7,1446.0 1546.2,1434.3 1539.5,1443.7 1532.8,1468.5" fill="#404040"/><polygon points="1532.8,1484.2 1545.1,1480.2 1562.0,1495.5 1575.5,1504.5 1594.6,1507.8 1613.7,1524.3 1612.6,1540.5 1616.0,1553.9 1620.5,1565.2 1595.7,1570.8 1578.9,1579.8 1551.9,1566.3 1546.2,1553.9 1532.8,1556.2" fill="#404040"/><polygon points="1540.6,1580.9 1545.8,1573.7 1548.9,1580.9 1547.4,1595.6 1539.9,1593.3" fill="#404040"/><polygon points="1532.8,1612.4 1559.7,1618.0 1580.0,1614.7 1594.6,1607.9 1629.5,1620.3 1620.5,1632.7 1610.3,1640.5 1596.9,1647.3 1600.2,1659.7 1600.2,1675.4 1594.6,1682.2 1562.0,1682.2 1554.1,1675.4 1546.2,1648.4 1532.8,1637.2" fill="#404040"/><polygon points="1702.6,1398.8 1712.7,1412.2 1723.9,1420.1 1738.6,1426.9 1752.0,1415.6 1753.2,1398.8" fill="#404040"/><polygon points="1574.4,1426.9 1578.9,1423.5 1585.6,1428.4 1578.9,1434.3" fill="#000000"/></g><clipPath id="cC5"><rect x="1208" y="1856" width="455" height="511"/></clipPath><g clip-path="url(#cC5)"><rect x="1208" y="1856" width="455" height="511" fill="#bfbfbf"/><polygon points="1314.1,1853.5 1324.2,1866.1 1319.1,1878.7 1315.4,1893.9 1321.7,1902.7 1340.6,1907.8 1334.3,1916.6 1321.7,1929.3 1306.5,1931.8 1300.2,1929.3 1298.9,1943.1 1276.2,1954.5 1266.1,1952.0 1254.7,1939.4 1250.9,1946.9 1258.5,1959.6 1272.4,1973.5 1291.4,1969.7 1305.2,1973.5 1310.3,1957.0 1311.6,1944.4 1319.1,1941.9 1341.9,1949.5 1341.9,1967.1 1344.4,1982.3 1341.9,1993.7 1353.2,2007.6 1372.2,2003.8 1377.2,1987.3 1384.8,1982.3 1398.7,1989.9 1397.4,2012.6 1394.9,2027.8 1393.7,2073.2 1396.2,2085.9 1392.4,2101.0 1396.2,2116.2 1401.2,2128.8 1398.7,2141.4 1394.9,2154.1 1402.5,2161.6 1417.6,2157.8 1424.0,2144.0 1427.8,2121.2 1429.0,2101.0 1427.8,2085.9 1431.5,2073.2 1442.9,2070.7 1463.1,2060.6 1470.7,2070.7 1480.8,2080.8 1496.0,2088.4 1511.1,2103.5 1514.9,2113.6 1530.1,2128.8 1531.3,2141.4 1540.2,2156.6 1542.7,2170.5 1559.1,2174.3 1574.3,2170.5 1591.9,2165.4 1603.3,2155.3 1607.1,2141.4 1603.3,2126.3 1589.4,2114.9 1585.6,2098.5 1574.3,2085.9 1583.1,2070.7 1584.4,2059.3 1566.7,2045.4 1554.0,2030.3 1543.9,2020.2 1541.4,2005.0 1549.0,1992.4 1531.3,1967.1 1513.6,1960.8 1498.5,1962.1 1488.4,1949.5 1506.1,1936.8 1498.5,1921.7 1479.5,1917.9 1463.1,1895.2 1465.6,1888.8 1480.8,1896.4 1496.0,1887.6 1508.6,1895.2 1523.7,1910.3 1531.3,1929.3 1536.4,1939.4 1538.9,1950.7 1559.1,1963.4 1564.2,1973.5 1581.8,1987.3 1599.5,1994.9 1609.6,1996.2 1621.0,1991.1 1624.8,1977.2 1619.7,1964.6 1622.2,1949.5 1642.5,1939.4 1660.1,1936.8 1665.4,1934.3 1665.4,1904.0 1637.4,1907.8 1617.2,1904.0 1603.3,1895.2 1612.1,1881.3 1627.3,1853.5" fill="#808080"/><polygon points="1245.9,1853.5 1271.1,1853.5 1267.4,1867.4 1257.3,1874.9 1248.4,1866.1" fill="#808080"/><polygon points="1205.5,1864.8 1215.6,1868.6 1205.5,1874.9" fill="#808080"/><polygon points="1218.1,1881.3 1225.7,1877.5 1230.7,1881.3 1224.4,1887.6" fill="#808080"/><polygon points="1216.8,1906.5 1224.4,1898.4 1238.3,1906.5 1253.5,1916.6 1273.7,1920.4 1272.4,1925.5 1256.0,1929.3 1235.8,1920.4 1220.6,1912.8" fill="#808080"/><polygon points="1215.6,2002.5 1224.4,1993.7 1238.3,2007.6 1245.9,2017.7 1235.8,2022.7 1226.9,2025.2 1220.6,2017.7" fill="#808080"/><polygon points="1269.9,2002.5 1288.8,1998.7 1311.6,2002.5 1301.5,2015.1 1283.8,2029.0 1273.7,2032.8 1266.6,2030.3 1274.2,2021.4" fill="#808080"/><polygon points="1235.8,2069.4 1245.9,2068.2 1257.3,2072.0 1261.0,2085.9 1254.7,2089.6 1243.4,2084.6 1237.0,2078.3" fill="#808080"/><polygon points="1205.5,2090.9 1218.1,2093.4 1239.6,2092.2 1242.1,2102.3 1276.2,2108.6 1291.4,2108.6 1305.2,2113.6 1311.1,2127.5 1307.8,2141.4 1288.8,2147.7 1272.4,2136.4 1262.3,2141.4 1280.0,2154.1 1287.6,2169.2 1256.0,2184.4 1248.4,2179.3 1242.1,2166.7 1252.2,2156.6 1245.9,2146.5 1223.2,2141.4 1215.6,2131.3 1205.5,2108.6" fill="#808080"/><polygon points="1218.1,2169.2 1225.7,2164.7 1235.8,2169.2 1224.4,2174.8" fill="#808080"/><polygon points="1245.9,2209.6 1256.0,2205.3 1281.3,2207.1 1293.9,2210.9 1288.8,2223.5 1273.7,2226.8 1256.0,2221.0" fill="#808080"/><polygon points="1205.5,2255.1 1219.4,2257.6 1205.5,2265.2" fill="#808080"/><polygon points="1281.3,2287.9 1288.8,2284.1 1297.7,2286.7 1288.8,2296.8" fill="#808080"/><polygon points="1283.8,2328.3 1288.8,2323.3 1293.9,2328.3 1288.8,2333.4" fill="#808080"/><polygon points="1205.5,2303.1 1220.6,2306.9 1233.3,2314.4 1230.7,2323.3 1226.9,2338.4 1234.5,2348.5 1226.9,2354.9 1205.5,2335.9" fill="#808080"/><polygon points="1513.6,1853.5 1533.8,1853.5 1546.5,1867.4 1531.3,1873.7 1521.2,1866.1" fill="#404040"/><polygon points="1542.7,1893.9 1549.0,1887.6 1561.6,1888.8 1567.9,1895.2 1565.4,1909.0 1554.0,1904.0" fill="#404040"/><polygon points="1425.2,1991.1 1449.2,1969.7 1465.6,1981.0 1492.2,1989.9 1470.7,2002.5 1448.0,2012.6 1432.8,2005.0" fill="#404040"/><polygon points="1573.0,2127.5 1579.3,2126.8 1578.8,2144.0 1570.5,2141.4" fill="#404040"/><polygon points="1449.2,2197.0 1475.7,2186.9 1496.0,2181.8 1503.5,2194.5 1516.2,2204.6 1531.3,2218.5 1564.2,2222.3 1573.0,2237.4 1581.8,2245.0 1594.5,2245.0 1612.1,2261.4 1634.9,2262.7 1647.5,2272.8 1651.3,2285.4 1648.8,2305.6 1660.1,2318.2 1665.4,2328.3 1665.4,2368.8 1603.3,2368.8 1599.5,2348.5 1597.0,2343.5 1579.3,2348.5 1566.7,2330.9 1549.0,2308.1 1536.4,2291.7 1543.9,2272.8 1560.4,2265.2 1557.8,2250.0 1554.0,2237.4 1545.2,2226.0 1526.3,2233.6 1508.6,2237.4 1496.0,2219.7 1480.8,2207.1 1465.6,2209.6" fill="#ffffff"/><polygon points="1580.6,2290.5 1594.5,2282.9 1602.0,2287.9 1609.6,2301.8 1594.5,2311.9 1581.8,2303.1" fill="#bfbfbf"/><polygon points="1665.4,2027.8 1657.6,2025.2 1652.6,2042.9 1646.2,2058.1 1652.6,2070.7 1655.1,2085.9 1650.0,2098.5 1649.5,2113.6 1657.6,2121.2 1665.4,2123.7" fill="#ffffff"/></g><clipPath id="cD5"><rect x="1663" y="1856" width="247" height="511"/></clipPath><g clip-path="url(#cD5)"><rect x="1663" y="1856" width="247" height="511" fill="#bfbfbf"/><polygon points="1660.5,2099.7 1673.1,2108.6 1690.8,2109.9 1707.2,2103.5 1723.6,2111.1 1740.0,2122.5 1748.9,2114.9 1753.9,2101.0 1772.9,2092.7 1801.9,2100.5 1834.8,2099.0 1852.4,2099.7 1860.0,2103.5 1870.1,2113.6 1885.3,2121.2 1911.8,2131.3 1911.8,2248.8 1900.4,2255.1 1887.8,2265.2 1873.9,2279.1 1872.1,2290.5 1873.9,2299.3 1885.3,2304.3 1897.9,2308.1 1911.8,2314.4 1911.8,2368.8 1756.5,2368.8 1755.2,2361.2 1745.1,2348.5 1746.4,2335.9 1738.8,2323.3 1723.6,2310.7 1713.5,2294.2 1709.7,2286.7 1698.4,2276.6 1688.3,2265.2 1707.2,2247.5 1724.9,2246.3 1738.8,2237.4 1751.4,2227.3 1759.0,2214.7 1771.6,2204.6 1786.8,2199.5 1800.7,2183.1 1819.6,2180.6 1831.7,2169.2 1820.9,2159.1 1789.3,2156.6 1771.6,2157.8 1755.2,2162.9 1747.6,2170.5 1738.8,2183.1 1723.6,2193.2 1707.2,2193.2 1690.8,2185.6 1679.4,2183.1 1679.4,2166.7 1681.9,2155.3 1676.9,2141.4 1668.1,2130.1 1660.5,2126.3" fill="#ffffff"/><polygon points="1812.0,2237.4 1824.7,2223.5 1836.0,2212.2 1853.7,2222.3 1852.4,2231.1 1837.3,2234.9 1824.7,2241.2 1815.8,2241.2" fill="#bfbfbf"/><polygon points="1660.5,2335.9 1673.1,2346.0 1679.4,2357.4 1687.0,2368.8 1660.5,2368.8" fill="#ffffff"/><polygon points="1736.3,1853.5 1743.8,1862.3 1755.2,1868.1 1766.6,1864.8 1780.5,1853.5" fill="#808080"/><polygon points="1660.5,1906.5 1673.1,1921.7 1660.5,1931.8" fill="#808080"/><polygon points="1746.4,1929.3 1753.9,1907.8 1771.6,1901.0 1786.8,1909.0 1809.5,1909.0 1839.8,1906.5 1872.6,1902.7 1890.3,1903.2 1911.8,1909.0 1911.8,1934.3 1890.3,1943.1 1865.1,1953.2 1839.8,1964.6 1820.9,1974.2 1804.4,1972.2 1788.0,1967.1 1772.1,1973.5 1770.4,1962.1 1764.0,1948.2 1756.5,1940.6" fill="#808080"/><polygon points="1819.6,1936.3 1836.0,1924.7 1852.4,1929.3 1856.2,1935.6 1836.0,1943.1" fill="#404040"/><polygon points="1769.1,1989.9 1771.6,1986.8 1772.9,1990.4" fill="#808080"/></g><clipPath id="cB5"><rect x="753" y="1856" width="455" height="511"/></clipPath><g clip-path="url(#cB5)"><polygon points="1169.8,1853.5 1162.2,1868.6 1158.4,1881.3 1163.5,1891.4 1162.2,1900.2 1143.3,1909.0 1131.9,1904.0 1125.6,1911.6 1119.3,1921.7 1129.4,1934.3 1130.6,1952.0 1111.7,1941.9 1091.5,1945.7 1078.8,2007.6 1073.8,2020.2 1063.7,2032.8 1038.4,2083.3 1041.0,2096.0 1046.0,2108.6 1046.0,2118.7 1057.4,2128.8 1046.0,2141.4 1030.8,2151.5 1025.8,2174.3 1041.0,2171.7 1059.9,2178.1 1096.5,2183.1 1078.8,2191.9 1062.4,2189.4 1046.0,2202.0 1032.1,2207.1 1043.5,2234.9 1058.6,2239.9 1048.5,2250.0 1059.9,2265.2 1066.2,2285.4 1048.5,2298.0 1044.7,2308.1 1048.5,2318.2 1061.2,2323.3 1083.9,2319.5 1076.3,2328.3 1078.8,2335.9 1038.4,2337.2 1020.7,2330.9 1005.6,2332.1 995.5,2335.9 985.4,2353.6 976.5,2368.8 1210.4,2368.8 1210.4,1853.5" fill="#bfbfbf"/><polygon points="1091.5,2304.3 1095.3,2298.0 1100.3,2305.6 1095.3,2309.4" fill="#ffffff"/><polygon points="1105.4,2291.7 1112.9,2290.5 1114.2,2294.2 1106.6,2294.2" fill="#ffffff"/><polygon points="1083.9,2319.5 1076.3,2328.3 1078.8,2335.9 1083.9,2348.5 1078.8,2368.8 1088.9,2368.8 1090.2,2351.1 1083.9,2335.9 1088.9,2323.3" fill="#ffffff"/><polygon points="1126.8,2037.9 1139.5,2039.1 1162.2,2048.0 1177.3,2058.1 1192.5,2068.2 1210.4,2075.8 1210.4,2113.6 1197.6,2108.6 1182.4,2098.5 1177.3,2088.4 1157.1,2078.3 1142.0,2070.7 1136.9,2058.1" fill="#808080"/><polygon points="1115.5,2223.5 1143.3,2211.6 1144.5,2224.8 1143.3,2234.9 1129.4,2232.4" fill="#808080"/><polygon points="1192.5,2265.2 1210.4,2260.1 1210.4,2272.8" fill="#808080"/><polygon points="1190.0,2333.4 1210.4,2320.8 1210.4,2342.2 1197.6,2338.4" fill="#808080"/><polygon points="1110.4,2347.3 1128.1,2341.0 1131.9,2347.3 1124.3,2351.1" fill="#808080"/><polygon points="1205.1,1866.1 1210.4,1863.6 1210.4,1876.2" fill="#808080"/></g><clipPath id="cA5"><rect x="298" y="1856" width="455" height="511"/></clipPath><g clip-path="url(#cA5)"><polygon points="562.0,2277.3 575.8,2271.5 597.3,2269.7 600.3,2279.1 597.3,2287.9 580.9,2294.2 572.1,2287.9" fill="#bfbfbf"/><polygon points="591.0,2304.3 596.1,2296.8 631.4,2292.5 633.4,2308.1 637.0,2320.3 623.8,2323.3 597.3,2324.6 592.3,2318.2" fill="#bfbfbf"/></g></g>
<g shape-rendering="crispEdges"><circle cx="1051.2" cy="1659.0" r="27.8" fill="#62CC70"/><circle cx="1182.0" cy="148.2" r="27.8" fill="#F9FB15"/><circle cx="1180.8" cy="175.0" r="27.8" fill="#F9FB15"/><circle cx="1143.8" cy="342.2" r="27.8" fill="#F9FB15"/><circle cx="1200.5" cy="338.5" r="27.8" fill="#F9FB15"/><circle cx="1183.0" cy="401.0" r="27.8" fill="#F5E427"/><circle cx="1165.5" cy="417.2" r="27.8" fill="#FDD22D"/><circle cx="1086.2" cy="421.0" r="27.8" fill="#F5E427"/><circle cx="1290.0" cy="168.5" r="27.8" fill="#F9FB15"/><circle cx="1356.0" cy="189.8" r="27.8" fill="#F9FB15"/><circle cx="1405.5" cy="168.0" r="27.8" fill="#F9FB15"/><circle cx="1463.0" cy="133.0" r="27.8" fill="#F9FB15"/><circle cx="1556.0" cy="167.8" r="27.8" fill="#F9FB15"/><circle cx="1425.5" cy="198.5" r="27.8" fill="#F9FB15"/><circle cx="1455.5" cy="212.2" r="27.8" fill="#F9FB15"/><circle cx="1431.0" cy="226.5" r="27.8" fill="#F5E427"/><circle cx="1573.0" cy="229.8" r="27.8" fill="#F5E427"/><circle cx="1363.0" cy="253.0" r="27.8" fill="#F5E427"/><circle cx="1407.2" cy="286.8" r="27.8" fill="#F5E427"/><circle cx="1283.0" cy="286.0" r="27.8" fill="#F9FB15"/><circle cx="1306.8" cy="281.0" r="27.8" fill="#F9FB15"/><circle cx="1231.8" cy="313.0" r="27.8" fill="#F9FB15"/><circle cx="1223.0" cy="347.2" r="27.8" fill="#F5E427"/><circle cx="1276.8" cy="364.0" r="27.8" fill="#F5E427"/><circle cx="1252.2" cy="364.8" r="27.8" fill="#F9FB15"/><circle cx="1274.2" cy="398.5" r="27.8" fill="#F5E427"/><circle cx="1337.2" cy="372.2" r="27.8" fill="#F5E427"/><circle cx="1338.0" cy="408.5" r="27.8" fill="#F5E427"/><circle cx="1359.2" cy="408.5" r="27.8" fill="#F5E427"/><circle cx="1340.5" cy="441.0" r="27.8" fill="#F5E427"/><circle cx="1371.8" cy="453.5" r="27.8" fill="#FDD22D"/><circle cx="1398.0" cy="454.0" r="27.8" fill="#F5E427"/><circle cx="1451.8" cy="378.5" r="27.8" fill="#F5E427"/><circle cx="1236.8" cy="451.0" r="27.8" fill="#F9FB15"/><circle cx="1280.5" cy="472.2" r="27.8" fill="#F5E427"/><circle cx="1117.0" cy="557.2" r="27.8" fill="#F9FB15"/><circle cx="1120.8" cy="609.8" r="27.8" fill="#F5E427"/><circle cx="1263.8" cy="496.0" r="27.8" fill="#F5E427"/><circle cx="1203.0" cy="624.8" r="27.8" fill="#F5E427"/><circle cx="1211.2" cy="653.5" r="27.8" fill="#F5E427"/><circle cx="1270.0" cy="603.5" r="27.8" fill="#FDD22D"/><circle cx="1322.0" cy="594.0" r="27.8" fill="#F9FB15"/><circle cx="1317.5" cy="596.0" r="27.8" fill="#FDD22D"/><circle cx="1232.5" cy="654.8" r="27.8" fill="#FDD22D"/><circle cx="1276.2" cy="661.0" r="27.8" fill="#FDD22D"/><circle cx="1318.8" cy="647.2" r="27.8" fill="#FDD22D"/><circle cx="1337.5" cy="695.5" r="27.8" fill="#FDD22D"/><circle cx="1370.0" cy="694.2" r="27.8" fill="#FDD22D"/><circle cx="1388.8" cy="704.0" r="27.8" fill="#FDD22D"/><circle cx="1221.2" cy="703.5" r="27.8" fill="#F5E427"/><circle cx="1101.2" cy="698.0" r="27.8" fill="#FDD22D"/><circle cx="1103.0" cy="754.8" r="27.8" fill="#F5E427"/><circle cx="1133.8" cy="741.0" r="27.8" fill="#FDBA3A"/><circle cx="1163.8" cy="738.5" r="27.8" fill="#FDBA3A"/><circle cx="1193.8" cy="741.0" r="27.8" fill="#F5E427"/><circle cx="1215.0" cy="731.8" r="27.8" fill="#FDBA3A"/><circle cx="1163.8" cy="752.2" r="27.8" fill="#FDD22D"/><circle cx="1135.5" cy="769.8" r="27.8" fill="#FDBA3A"/><circle cx="1143.8" cy="781.0" r="27.8" fill="#FDBA3A"/><circle cx="1213.8" cy="762.2" r="27.8" fill="#FDD22D"/><circle cx="1255.0" cy="766.0" r="27.8" fill="#FDD22D"/><circle cx="1187.5" cy="806.5" r="27.8" fill="#FDD22D"/><circle cx="1241.2" cy="806.5" r="27.8" fill="#F5E427"/><circle cx="1265.0" cy="798.5" r="27.8" fill="#F5E427"/><circle cx="1143.8" cy="829.8" r="27.8" fill="#FDD22D"/><circle cx="1198.8" cy="841.0" r="27.8" fill="#FDD22D"/><circle cx="1235.0" cy="831.0" r="27.8" fill="#FDD22D"/><circle cx="1223.8" cy="868.5" r="27.8" fill="#FDD22D"/><circle cx="1260.0" cy="846.0" r="27.8" fill="#FDD22D"/><circle cx="1291.2" cy="838.5" r="27.8" fill="#FDD22D"/><circle cx="1327.5" cy="746.0" r="27.8" fill="#F5E427"/><circle cx="1332.5" cy="772.2" r="27.8" fill="#FDD22D"/><circle cx="1333.8" cy="784.8" r="27.8" fill="#F5E427"/><circle cx="1357.5" cy="784.0" r="27.8" fill="#FDD22D"/><circle cx="1342.5" cy="816.0" r="27.8" fill="#FDD22D"/><circle cx="1367.5" cy="837.2" r="27.8" fill="#FDD22D"/><circle cx="1400.0" cy="858.5" r="27.8" fill="#FDD22D"/><circle cx="1362.5" cy="883.5" r="27.8" fill="#FDD22D"/><circle cx="1392.5" cy="911.0" r="27.8" fill="#FDD22D"/><circle cx="1306.2" cy="882.2" r="27.8" fill="#FDBA3A"/><circle cx="1201.2" cy="904.8" r="27.8" fill="#FDBA3A"/><circle cx="1124.5" cy="884.8" r="27.8" fill="#FDD22D"/><circle cx="1285.0" cy="927.2" r="27.8" fill="#F5E427"/><circle cx="1352.5" cy="928.0" r="27.8" fill="#F9FB15"/><circle cx="1348.8" cy="931.0" r="27.8" fill="#F5E427"/><circle cx="1178.2" cy="943.5" r="27.8" fill="#FDD22D"/><circle cx="1227.5" cy="956.0" r="27.8" fill="#FDBA3A"/><circle cx="1392.5" cy="953.5" r="27.8" fill="#FDD22D"/><circle cx="1433.8" cy="963.5" r="27.8" fill="#FDD22D"/><circle cx="1198.8" cy="967.2" r="27.8" fill="#FDBA3A"/><circle cx="1152.5" cy="984.8" r="27.8" fill="#FDBA3A"/><circle cx="1195.0" cy="1023.5" r="27.8" fill="#FDBA3A"/><circle cx="1155.0" cy="1039.0" r="27.8" fill="#FDBA3A"/><circle cx="1217.0" cy="1043.0" r="27.8" fill="#BCBE30"/><circle cx="1171.2" cy="1076.0" r="27.8" fill="#E3B92E"/><circle cx="1130.0" cy="1087.2" r="27.8" fill="#FDD22D"/><circle cx="1118.8" cy="1115.5" r="27.8" fill="#FDD22D"/><circle cx="1173.8" cy="1128.5" r="27.8" fill="#FDBA3A"/><circle cx="1255.8" cy="1117.2" r="27.8" fill="#FDBA3A"/><circle cx="1230.0" cy="1153.5" r="27.8" fill="#FDBA3A"/><circle cx="1200.0" cy="1182.2" r="27.8" fill="#FDBA3A"/><circle cx="1215.0" cy="1203.5" r="27.8" fill="#FDBA3A"/><circle cx="1155.0" cy="1178.5" r="27.8" fill="#FDD22D"/><circle cx="1100.0" cy="1171.0" r="27.8" fill="#E3B92E"/><circle cx="1085.5" cy="1036.0" r="27.8" fill="#8FCA4C"/><circle cx="1265.5" cy="997.2" r="27.8" fill="#BCBE30"/><circle cx="1321.2" cy="977.2" r="27.8" fill="#FDD22D"/><circle cx="1294.5" cy="1002.2" r="27.8" fill="#FDD22D"/><circle cx="1343.8" cy="982.2" r="27.8" fill="#FDBA3A"/><circle cx="1338.8" cy="1016.5" r="27.8" fill="#F9FB15"/><circle cx="1329.2" cy="1018.5" r="27.8" fill="#F5E427"/><circle cx="1392.5" cy="952.2" r="27.8" fill="#FDD22D"/><circle cx="1435.0" cy="958.5" r="27.8" fill="#FDD22D"/><circle cx="1471.2" cy="976.0" r="27.8" fill="#FDD22D"/><circle cx="1415.5" cy="1086.5" r="27.8" fill="#FDBA3A"/><circle cx="1468.8" cy="1091.0" r="27.8" fill="#FDBA3A"/><circle cx="1420.0" cy="1118.5" r="27.8" fill="#FDBA3A"/><circle cx="1323.8" cy="1149.0" r="27.8" fill="#FDD22D"/><circle cx="1430.0" cy="1158.5" r="27.8" fill="#8FCA4C"/><circle cx="1502.5" cy="1142.2" r="27.8" fill="#BCBE30"/><circle cx="1473.8" cy="1171.0" r="27.8" fill="#BCBE30"/><circle cx="1397.5" cy="1181.0" r="27.8" fill="#FDBA3A"/><circle cx="1303.8" cy="1218.5" r="27.8" fill="#FDD22D"/><circle cx="1302.5" cy="1239.0" r="27.8" fill="#BCBE30"/><circle cx="1186.2" cy="1241.0" r="27.8" fill="#BCBE30"/><circle cx="1510.0" cy="1208.5" r="27.8" fill="#BCBE30"/><circle cx="1521.2" cy="1243.5" r="27.8" fill="#8FCA4C"/><circle cx="1235.0" cy="1281.0" r="27.8" fill="#E3B92E"/><circle cx="1203.8" cy="1293.5" r="27.8" fill="#FDD22D"/><circle cx="1357.5" cy="1287.2" r="27.8" fill="#FDBA3A"/><circle cx="1344.2" cy="1323.0" r="27.8" fill="#FDD22D"/><circle cx="1175.0" cy="1326.0" r="27.8" fill="#BCBE30"/><circle cx="1133.0" cy="1349.0" r="27.8" fill="#E3B92E"/><circle cx="1238.8" cy="1349.8" r="27.8" fill="#8FCA4C"/><circle cx="1465.0" cy="1366.0" r="27.8" fill="#E3B92E"/><circle cx="1247.5" cy="1393.5" r="27.8" fill="#E3B92E"/><circle cx="1305.0" cy="1386.0" r="27.8" fill="#BCBE30"/><circle cx="1332.5" cy="1389.8" r="27.8" fill="#E3B92E"/><circle cx="1358.0" cy="1406.5" r="27.8" fill="#62CC70"/><circle cx="1195.5" cy="1414.8" r="27.8" fill="#62CC70"/><circle cx="1556.8" cy="1181.7" r="27.8" fill="#BCBE30"/><circle cx="1076.2" cy="1010.5" r="27.8" fill="#E3B92E"/><circle cx="1062.5" cy="1153.5" r="27.8" fill="#FDBA3A"/><circle cx="1050.0" cy="1233.5" r="27.8" fill="#E3B92E"/><circle cx="1027.0" cy="1255.5" r="27.8" fill="#BCBE30"/><circle cx="1030.0" cy="1304.0" r="27.8" fill="#8FCA4C"/><circle cx="940.8" cy="1375.5" r="27.8" fill="#E3B92E"/><circle cx="1195.8" cy="1415.5" r="27.8" fill="#62CC70"/><circle cx="1273.8" cy="1435.2" r="27.8" fill="#8FCA4C"/><circle cx="1221.8" cy="1481.8" r="27.8" fill="#BCBE30"/><circle cx="1344.5" cy="1474.2" r="27.8" fill="#26BFB0"/><circle cx="1252.5" cy="1521.0" r="27.8" fill="#62CC70"/><circle cx="1290.5" cy="1534.8" r="27.8" fill="#239DE6"/><circle cx="1324.5" cy="1546.0" r="27.8" fill="#317BFB"/><circle cx="1170.0" cy="1557.2" r="27.8" fill="#BCBE30"/><circle cx="1062.0" cy="1489.8" r="27.8" fill="#8FCA4C"/><circle cx="1076.2" cy="1532.2" r="27.8" fill="#FDBA3A"/><circle cx="1067.5" cy="1573.5" r="27.8" fill="#FDBA3A"/><circle cx="1272.5" cy="1579.0" r="27.8" fill="#2D8CF3"/><circle cx="1233.0" cy="1594.8" r="27.8" fill="#02B7CB"/><circle cx="1232.0" cy="1631.0" r="27.8" fill="#26BFB0"/><circle cx="1250.0" cy="1659.8" r="27.8" fill="#3EC891"/><circle cx="1160.0" cy="1616.5" r="27.8" fill="#8FCA4C"/><circle cx="1096.2" cy="1629.8" r="27.8" fill="#E3B92E"/><circle cx="1065.0" cy="1661.0" r="27.8" fill="#BCBE30"/><circle cx="1170.0" cy="1678.5" r="27.8" fill="#3EC891"/><circle cx="1162.0" cy="1680.5" r="27.8" fill="#62CC70"/><circle cx="1135.0" cy="1716.0" r="27.8" fill="#26BFB0"/><circle cx="1180.8" cy="1720.2" r="27.8" fill="#239DE6"/><circle cx="1236.2" cy="1707.2" r="27.8" fill="#317BFB"/><circle cx="1240.0" cy="1737.2" r="27.8" fill="#3D26A8"/><circle cx="1243.8" cy="1777.2" r="27.8" fill="#4367FD"/><circle cx="1226.2" cy="1783.0" r="27.8" fill="#4854F5"/><circle cx="1169.0" cy="1795.2" r="27.8" fill="#2D8CF3"/><circle cx="1071.8" cy="1776.0" r="27.8" fill="#3EC891"/><circle cx="1138.0" cy="1840.2" r="27.8" fill="#4743E4"/><circle cx="1066.2" cy="1848.5" r="27.8" fill="#02B7CB"/><circle cx="1018.0" cy="1429.0" r="27.8" fill="#BCBE30"/><circle cx="1022.5" cy="1509.0" r="27.8" fill="#8FCA4C"/><circle cx="1062.5" cy="1492.2" r="27.8" fill="#8FCA4C"/><circle cx="850.0" cy="1604.8" r="27.8" fill="#8FCA4C"/><circle cx="810.0" cy="1634.2" r="27.8" fill="#62CC70"/><circle cx="948.2" cy="1612.2" r="27.8" fill="#62CC70"/><circle cx="995.8" cy="1648.0" r="27.8" fill="#BCBE30"/><circle cx="912.0" cy="1693.5" r="27.8" fill="#62CC70"/><circle cx="1051.8" cy="1709.0" r="27.8" fill="#8FCA4C"/><circle cx="882.0" cy="1759.8" r="27.8" fill="#8FCA4C"/><circle cx="1016.8" cy="1761.0" r="27.8" fill="#BCBE30"/><circle cx="822.0" cy="1791.5" r="27.8" fill="#3EC891"/><circle cx="1043.8" cy="1804.8" r="27.8" fill="#62CC70"/><circle cx="970.0" cy="1815.2" r="27.8" fill="#3EC891"/><circle cx="912.5" cy="1835.2" r="27.8" fill="#8FCA4C"/><circle cx="806.2" cy="1851.0" r="27.8" fill="#3EC891"/><circle cx="997.0" cy="1871.0" r="27.8" fill="#26BFB0"/><circle cx="831.3" cy="1883.8" r="27.8" fill="#8FCA4C"/><circle cx="929.3" cy="1906.5" r="27.8" fill="#62CC70"/><circle cx="1087.7" cy="1890.1" r="27.8" fill="#3EC891"/><circle cx="1054.8" cy="1917.9" r="27.8" fill="#317BFB"/><circle cx="901.3" cy="1992.4" r="27.8" fill="#26BFB0"/><circle cx="795.9" cy="1998.7" r="27.8" fill="#26BFB0"/><circle cx="754.3" cy="2013.1" r="27.8" fill="#02B7CB"/><circle cx="805.5" cy="2029.0" r="27.8" fill="#02B7CB"/><circle cx="1006.3" cy="1994.9" r="27.8" fill="#4367FD"/><circle cx="975.8" cy="2044.2" r="27.8" fill="#317BFB"/><circle cx="1094.5" cy="1979.8" r="27.8" fill="#4433CB"/><circle cx="1136.9" cy="1998.0" r="27.8" fill="#3D26A8"/><circle cx="1159.2" cy="1999.5" r="27.8" fill="#317BFB"/><circle cx="1168.0" cy="2003.8" r="27.8" fill="#3D26A8"/><circle cx="1057.4" cy="2058.1" r="27.8" fill="#3D26A8"/><circle cx="1078.8" cy="2073.2" r="27.8" fill="#3D26A8"/><circle cx="1109.7" cy="2070.2" r="27.8" fill="#3D26A8"/><circle cx="909.1" cy="2086.4" r="27.8" fill="#239DE6"/><circle cx="921.0" cy="2135.9" r="27.8" fill="#317BFB"/><circle cx="1017.7" cy="2124.5" r="27.8" fill="#4854F5"/><circle cx="958.1" cy="2173.8" r="27.8" fill="#4367FD"/><circle cx="999.3" cy="2170.5" r="27.8" fill="#4367FD"/><circle cx="824.2" cy="2197.5" r="27.8" fill="#26BFB0"/><circle cx="809.8" cy="2231.1" r="27.8" fill="#02B7CB"/><circle cx="833.8" cy="2239.9" r="27.8" fill="#02B7CB"/><circle cx="838.9" cy="2253.8" r="27.8" fill="#17ABDB"/><circle cx="852.8" cy="2257.6" r="27.8" fill="#239DE6"/><circle cx="863.6" cy="2289.2" r="27.8" fill="#239DE6"/><circle cx="871.0" cy="2322.0" r="27.8" fill="#4367FD"/><circle cx="939.9" cy="2281.6" r="27.8" fill="#2D8CF3"/><circle cx="1017.7" cy="2232.9" r="27.8" fill="#3D26A8"/><circle cx="1033.9" cy="2272.8" r="27.8" fill="#3D26A8"/><circle cx="985.4" cy="2308.1" r="27.8" fill="#3D26A8"/><circle cx="946.2" cy="2334.7" r="27.8" fill="#3D26A8"/><circle cx="804.8" cy="2354.9" r="27.8" fill="#2D8CF3"/><circle cx="736.6" cy="2306.9" r="27.8" fill="#3EC891"/><circle cx="719.8" cy="1950.2" r="27.8" fill="#3EC891"/><circle cx="641.5" cy="1969.7" r="27.8" fill="#26BFB0"/><circle cx="668.5" cy="1994.4" r="27.8" fill="#2D8CF3"/><circle cx="601.1" cy="2033.3" r="27.8" fill="#239DE6"/><circle cx="639.0" cy="2042.9" r="27.8" fill="#17ABDB"/><circle cx="654.2" cy="2036.6" r="27.8" fill="#17ABDB"/><circle cx="541.7" cy="2164.2" r="27.8" fill="#239DE6"/><circle cx="711.0" cy="2169.7" r="27.8" fill="#02B7CB"/><circle cx="512.7" cy="2226.8" r="27.8" fill="#3D26A8"/><circle cx="493.0" cy="2312.4" r="27.8" fill="#239DE6"/></g>
<g font-weight="bold" style="font-family:'DejaVu Sans','Liberation Sans',sans-serif">
<text x="1117.7" y="234.7" font-size="43.89" style="fill:#666">La Florida</text>
<text x="1249.2" y="1049.8" font-size="43.79" style="fill:#666">Pudahuel</text>
<text x="1002.2" y="1099" font-size="44.05" style="fill:#666">Rodelillo</text>
<text x="1288.0" y="1202.3" font-size="43.68" style="fill:#666">Quinta Normal</text>
<text x="1114.2" y="1618.5" font-size="43.79" style="fill:#666">General Freire</text>
<text x="851.3" y="2064" font-size="43.58" style="fill:#666">General Bernardo O'Higgins</text>
<text x="523.3" y="2117" font-size="43.59" style="fill:#666">Carriel Sur</text>
<text x="971.0" y="1263.5" font-size="55.6" style="fill:#000">Santo Domingo</text>
</g>
<g clip-path="url(#plot)" fill="none" stroke="#000" stroke-width="1.5" shape-rendering="crispEdges"><polyline points="1156.8,36.0 1158.0,48.5 1163.0,58.5 1171.8,66.0 1171.8,69.8 1163.0,77.2 1161.8,86.0 1158.0,97.2 1154.2,104.8 1155.5,111.0 1161.8,116.0 1164.2,123.5 1173.0,129.8 1175.5,136.0 1173.0,158.5 1163.0,163.5 1156.0,163.5 1155.5,156.0 1148.0,161.0 1149.2,166.0 1141.8,171.0 1130.5,173.5 1131.8,177.2 1139.2,179.8 1140.5,189.8 1144.2,196.0 1140.5,202.2 1143.0,211.0 1139.2,221.0 1131.8,226.0 1123.0,224.8 1120.5,221.0 1110.5,229.8 1110.5,236.0 1113.0,239.8 1100.5,244.8 1103.0,247.2 1090.5,254.8 1070.5,256.8 1065.5,241.0 1061.8,239.8 1054.2,248.5 1053.0,266.0 1045.5,271.0 1046.8,276.0 1043.0,286.0 1041.8,303.5 1038.0,306.0 1040.5,313.5 1040.5,326.0 1035.5,336.0 1034.2,341.0 1036.8,351.0 1035.5,361.0 1038.0,368.5 1034.2,371.0 1036.8,376.0 1038.0,403.5 1040.5,411.0 1045.5,426.0 1044.2,433.5 1051.8,442.2 1055.5,451.0 1053.0,461.0 1051.8,481.0 1050.5,491.0"/><polyline points="1516.8,332.2 1511.8,343.5 1506.8,348.5 1508.0,356.0 1503.0,361.0 1506.8,368.5 1499.2,378.5 1498.0,386.0 1494.2,391.0 1495.5,398.5 1491.8,406.0 1490.5,413.5 1486.8,421.0 1488.0,428.5 1483.0,431.0 1485.5,441.0 1490.5,448.5 1491.8,456.0 1499.2,458.5 1498.0,463.5 1483.0,471.0 1470.5,476.0 1468.0,483.5 1473.0,491.0"/><polyline points="1420.5,493.5 1422.2,489.0 1427.2,482.5 1438.8,471.8 1447.0,477.5 1453.5,487.2 1457.0,494.8"/><polyline points="1049.2,491.0 1053.0,501.0 1056.8,506.0 1059.2,516.0 1058.0,523.5 1061.8,533.5 1065.5,537.2 1065.5,553.5 1070.5,561.0 1071.8,566.0 1076.8,573.5 1079.2,586.0 1080.5,598.5 1078.0,611.0 1083.0,618.5 1086.8,627.2 1089.2,638.5 1089.2,651.0 1099.2,656.0 1100.5,661.0 1095.5,671.0 1089.2,677.2 1084.2,679.8 1085.5,683.5 1096.8,682.2 1103.0,688.5 1104.2,694.8 1098.0,701.0 1098.0,706.0 1105.5,713.5 1099.2,718.5 1096.8,728.5 1098.0,738.5 1094.2,746.0 1096.8,753.5 1099.2,756.0 1093.0,761.0 1094.2,768.5 1090.5,773.5 1091.8,778.5 1096.8,788.5 1103.0,789.8 1109.2,794.8 1113.0,801.0 1111.8,816.0 1116.8,818.5 1125.5,823.5 1134.2,831.0 1128.0,836.0 1126.8,851.0 1124.2,858.5 1114.2,859.8 1113.0,868.5 1115.5,878.5 1121.8,886.0 1125.5,896.0 1121.8,903.5 1120.5,911.0 1110.5,918.5 1101.8,917.2 1100.5,921.0 1104.2,924.8 1108.0,932.2 1101.8,937.2 1093.0,938.5 1090.5,934.8 1088.0,946.0"/><polyline points="1421.2,491.0 1420.0,503.5 1416.2,516.0 1417.5,523.5 1412.5,533.5 1413.8,548.5 1407.5,561.0 1408.8,573.5 1403.8,583.5 1406.2,596.0 1403.8,608.5 1407.5,616.0 1416.2,621.0 1421.2,631.0 1422.5,638.5 1432.5,641.0 1436.2,651.0 1435.0,663.5 1440.0,671.0 1437.5,678.5 1447.5,683.5 1460.0,688.5 1471.2,689.8"/><polyline points="1507.5,721.0 1505.0,728.5 1492.5,734.8 1477.5,736.0 1470.0,731.0 1462.5,732.2 1467.5,738.5 1475.0,741.0 1477.5,751.0 1485.0,758.5 1487.5,766.0 1485.0,776.0 1490.0,783.5 1486.2,791.0 1482.5,796.0 1490.0,801.0 1502.5,806.0 1512.5,808.5 1516.2,818.5 1515.0,826.0 1510.0,833.5 1520.0,841.0 1535.0,846.0"/><polyline points="1453.8,491.0 1457.5,494.8 1465.0,491.0"/><polyline points="1535.0,848.6 1538.4,850.9 1540.6,859.9 1541.7,862.1"/><polyline points="1538.4,911.6 1540.6,918.4 1539.5,925.1 1545.1,931.8 1550.7,938.6 1554.1,943.1 1558.6,946.0"/><polyline points="1090.0,946.0 1096.2,951.0 1098.8,961.0 1101.2,971.0 1095.0,976.0 1087.5,978.5 1086.2,986.0"/><polyline points="1558.6,946.0 1568.7,950.5 1571.0,959.5 1575.5,961.7"/><polyline points="1589.0,970.7 1583.4,977.5"/><polyline points="1631.7,1155.2 1627.2,1166.4 1628.3,1182.2"/><polyline points="1619.3,1226.0 1629.5,1233.9 1632.8,1242.9 1621.6,1251.9 1617.1,1263.1"/><polyline points="1644.1,1276.6 1634.0,1287.9"/><polyline points="1634.0,1296.9 1627.2,1305.9 1635.1,1314.9 1640.7,1311.5"/><polyline points="1649.7,1319.4 1652.0,1328.4 1650.8,1338.5 1634.0,1344.1 1618.2,1346.4 1611.5,1350.9 1600.2,1343.0 1593.5,1340.7 1585.6,1345.2 1575.5,1348.6 1580.0,1357.6 1582.2,1368.9 1578.9,1377.8 1584.5,1384.6 1583.4,1393.6 1562.0,1402.6"/><polyline points="1055.0,1003.5 1050.0,1008.5 1050.0,1023.5 1032.5,1024.8 1028.8,1021.0 1026.2,1024.8 1030.0,1031.0 1037.5,1036.0 1042.5,1043.5 1040.0,1051.0 1037.5,1054.8 1045.0,1058.5 1041.2,1066.0 1047.5,1071.0 1052.5,1081.0 1053.8,1088.5 1048.8,1093.5 1041.2,1097.2 1038.8,1106.0 1037.5,1114.8 1047.5,1122.2 1055.0,1126.0 1060.0,1133.5 1067.5,1138.5"/><polyline points="1045.0,1196.0 1035.0,1201.0 1022.5,1206.0 1011.2,1207.2 1005.0,1216.0 1002.5,1223.5 998.8,1233.5 995.0,1246.0 991.2,1256.0 980.0,1263.5 980.0,1267.2 972.5,1273.5 962.5,1281.0 960.0,1291.0 950.0,1297.2 948.8,1303.5 938.8,1307.2 941.2,1318.5 943.8,1328.5 947.5,1336.0 950.0,1351.0 951.2,1361.0 947.5,1371.0 935.0,1377.2 931.2,1383.5 926.2,1388.5 930.0,1396.0 933.0,1402.2"/><polyline points="1535.0,1421.0 1527.5,1426.0 1520.0,1433.5 1516.2,1446.0 1517.5,1456.0 1505.0,1463.5 1502.5,1473.5 1487.5,1476.0 1486.2,1481.0 1495.0,1486.0 1505.0,1488.5 1502.5,1501.0 1495.0,1508.5 1490.0,1518.5 1480.0,1526.0 1477.5,1538.5 1470.0,1544.8 1465.0,1556.0 1467.5,1571.0 1470.0,1586.0 1462.5,1592.2 1440.0,1598.5 1425.0,1598.5 1415.0,1601.0 1402.5,1608.5 1400.0,1621.0 1405.0,1627.2 1425.0,1631.0 1440.0,1633.5 1448.8,1637.2 1451.2,1642.2 1442.5,1651.0 1441.2,1661.0 1447.5,1672.2 1455.0,1678.5 1465.0,1686.0 1468.8,1688.5 1455.0,1691.0 1457.5,1706.0 1462.5,1713.5 1452.5,1721.0 1455.0,1728.5 1465.0,1736.0 1470.0,1748.5 1465.0,1756.0 1467.5,1762.2 1480.0,1766.0 1485.0,1768.5 1477.5,1778.5 1455.0,1784.8 1450.0,1791.0 1452.5,1798.5 1466.2,1801.0 1465.0,1811.0 1455.0,1816.0 1457.5,1823.5 1467.5,1828.5 1465.0,1836.0 1455.0,1841.0 1450.0,1851.0 1452.5,1856.0"/><polyline points="1535.0,1420.1 1541.7,1413.4 1545.1,1405.5 1553.0,1402.1 1560.9,1401.0"/><polyline points="933.0,1399.8 933.8,1408.5 927.5,1416.0 925.0,1424.8 928.8,1433.5 928.8,1446.0 926.2,1456.0 921.2,1463.5 918.8,1473.5 913.8,1478.5 901.2,1488.5 896.2,1498.5 895.0,1506.0 885.0,1516.0 882.5,1528.5 882.0,1563.5 878.8,1573.5 871.2,1579.8 857.5,1584.8 837.5,1594.8 820.0,1604.8 813.8,1613.5 812.5,1628.5 803.8,1634.8 797.5,1642.2 790.0,1644.8 782.5,1652.2 785.0,1661.0 786.2,1669.8 778.8,1676.0 770.0,1684.8 761.2,1686.0 755.0,1692.2 743.8,1697.2 741.2,1704.8 738.0,1711.0 742.5,1718.5 748.8,1724.8 756.2,1737.2 760.0,1748.5 761.2,1756.0 757.5,1767.2 745.0,1771.0 732.5,1777.2 728.8,1783.5 721.2,1789.8 718.8,1796.0 707.5,1802.2 695.0,1807.2 690.0,1813.5 692.5,1823.5 691.2,1832.2 686.2,1841.0 680.0,1843.5 681.2,1851.0 682.5,1856.0"/><polyline points="1453.0,1856.0 1453.0,1859.8 1445.4,1864.8 1430.3,1868.6 1425.2,1866.1 1410.1,1858.5 1402.5,1856.0 1403.8,1864.8 1398.7,1869.9 1384.8,1878.7 1384.8,1882.5 1372.2,1886.3 1359.6,1893.9 1365.9,1898.9 1365.9,1906.5 1358.3,1912.8 1359.6,1919.1 1368.4,1924.2 1365.9,1930.5 1354.5,1938.1 1344.4,1931.8 1334.3,1938.1 1321.7,1928.0 1314.1,1933.0 1300.2,1929.3 1298.9,1943.1 1288.8,1950.7 1276.2,1958.3 1263.6,1953.2 1253.5,1950.7 1253.5,1959.6 1248.4,1967.1 1250.9,1974.7 1245.9,1987.3 1252.2,1997.4 1261.0,2005.0 1259.8,2010.1 1243.4,2015.1 1237.0,2007.6 1228.2,2005.0 1225.7,2012.6 1229.5,2022.7 1224.4,2027.8 1221.9,2040.4 1218.1,2053.0 1225.7,2056.8 1218.1,2060.6 1216.8,2070.7 1226.9,2073.2 1235.8,2075.8 1233.3,2083.3 1221.9,2087.1 1208.0,2084.6"/><polyline points="1208.0,2092.2 1216.8,2101.0 1219.4,2108.6 1218.1,2113.6 1226.9,2118.7 1234.5,2126.3 1228.2,2131.3 1220.6,2133.8 1221.9,2144.0 1226.9,2149.0 1215.6,2154.1 1208.0,2157.8"/><polyline points="1208.0,2203.3 1215.6,2204.6 1220.6,2214.7 1226.9,2222.3 1225.7,2234.9 1220.6,2245.0 1223.2,2255.1 1215.6,2261.4 1208.0,2262.7"/><polyline points="1208.0,2298.0 1213.1,2303.1 1211.8,2310.7 1220.6,2315.7 1223.2,2320.8 1215.6,2323.3 1214.3,2328.3 1223.2,2330.9 1230.7,2338.4 1233.3,2346.0 1228.2,2353.6 1235.8,2358.7 1245.9,2365.0"/><polyline points="1192.5,2088.4 1205.1,2084.6 1207.9,2083.3"/><polyline points="1205.1,2165.4 1193.8,2169.2 1196.3,2184.4 1201.3,2191.9 1200.1,2199.5 1207.9,2203.3"/><polyline points="1207.9,2262.7 1200.1,2272.8 1196.3,2285.4 1202.6,2295.5 1207.9,2296.8"/><polyline points="683.2,1856.0 681.9,1866.1 676.9,1873.7 680.7,1883.8 681.9,1896.4 676.9,1906.5 669.3,1916.6 663.0,1924.2 660.5,1936.8 654.2,1943.1 649.1,1954.5 644.0,1962.1 637.7,1969.7 633.9,1973.5 633.9,1963.4 627.6,1964.6 626.4,1974.7 620.1,1978.5 625.1,1984.8 635.2,1992.4 628.9,2002.5 626.4,2007.6 628.9,2013.9"/><polyline points="578.4,2017.7 569.5,2017.7 568.3,2013.9 574.6,2007.6 579.6,1997.4 582.2,1988.6 591.0,1989.9 589.7,1998.7 583.4,2007.6 578.4,2017.7 573.3,2027.8 560.7,2024.0 550.6,2032.8 558.2,2036.6 565.7,2042.9 570.8,2050.5 571.3,2065.6 568.3,2078.3 562.0,2088.4 559.4,2096.0 565.7,2106.1 563.2,2118.7 570.8,2123.7 563.2,2133.8 555.6,2141.4 540.5,2151.5 525.3,2157.8 505.1,2160.9 482.4,2160.4 478.6,2155.3 472.3,2149.8 449.6,2151.5 438.2,2146.5 435.7,2136.4 431.9,2134.6 419.2,2144.0 411.7,2147.7 410.4,2156.6 406.6,2164.2 409.1,2174.3 401.6,2184.4 405.4,2186.9 399.0,2194.5 411.7,2197.0 421.8,2205.8 428.1,2217.2 429.3,2227.3 430.6,2232.4 424.3,2241.2 412.9,2247.5 412.9,2255.1 404.1,2257.6 400.3,2265.2 406.6,2272.8 407.9,2282.9 405.4,2293.0 411.7,2296.8 424.3,2308.1 439.4,2323.3 449.6,2335.9 457.1,2348.5 464.7,2366.2"/><polyline points="447.0,2085.9 450.8,2085.9 452.1,2093.4 459.7,2098.5 473.5,2108.6 457.1,2104.8 452.6,2116.2 447.0,2106.1 440.7,2101.0 445.8,2096.0 447.0,2085.9"/><polyline points="598.6,1987.3 604.9,1986.1 602.4,1996.2 597.3,1997.4 598.6,1987.3"/></g>
<g><circle cx="1198.8" cy="153.0" r="28" fill="#ff0000" stroke="#000" stroke-width="1.5"/><circle cx="1084.0" cy="1015.5" r="28" fill="#ff0000" stroke="#000" stroke-width="1.5"/><circle cx="1330.8" cy="1104.0" r="28" fill="#ff0000" stroke="#000" stroke-width="1.5"/><circle cx="1368.8" cy="1119.0" r="28" fill="#ff0000" stroke="#000" stroke-width="1.5"/><circle cx="1066.8" cy="1176.8" r="28" fill="#ff0000" stroke="#000" stroke-width="1.5"/><polygon points="1066.8,1139.8 1075.1,1165.3 1101.9,1165.3 1080.3,1181.1 1088.5,1206.7 1066.8,1191.0 1045.0,1206.7 1053.2,1181.1 1031.6,1165.3 1058.4,1165.3" fill="#000"/><circle cx="1193.8" cy="1536.5" r="28" fill="#ff0000" stroke="#000" stroke-width="1.5"/><circle cx="931.6" cy="1981.3" r="28" fill="#ff0000" stroke="#000" stroke-width="1.5"/><circle cx="604.4" cy="2033.8" r="28" fill="#ff0000" stroke="#000" stroke-width="1.5"/></g>
<rect x="345.1" y="110.8" width="594.5" height="595.2" fill="#fff" stroke="#8c8c8c" stroke-width="1.6"/><clipPath id="insetc"><rect x="345.1" y="110.8" width="594.5" height="595.2"/></clipPath><g clip-path="url(#insetc)"><polygon points="647.5,267.9 639.2,267.9 632.6,264.6 625.9,262.9 619.3,256.3 615.9,251.3 610.9,244.6 602.6,243.0 592.7,241.3 586.0,239.6 572.7,238.0 559.4,236.3 546.1,233.0 532.8,231.3 524.5,226.3 521.2,219.7 512.9,211.4 506.2,204.7 499.6,199.7 494.6,194.8 489.6,189.8 484.6,184.8 483.0,178.1 486.3,171.5 492.9,163.2 499.6,154.9 506.2,148.2 512.9,143.2 526.2,136.6 539.5,131.6 556.1,126.6 572.7,122.3 592.7,118.3 612.6,115.0 632.6,112.3 649.2,111.0 665.8,111.6 682.4,114.3 699.0,116.6 712.3,121.6 722.3,128.3 732.3,136.6 735.6,141.6 719.0,138.2 705.7,141.6 692.4,144.9 682.4,148.2 672.4,151.5 664.1,156.5 659.1,163.2 660.8,168.2 652.5,171.5 645.9,174.8 639.2,179.8 637.5,184.8 640.9,191.4 642.5,196.4 637.5,194.8 634.2,188.1 629.2,183.1 622.6,184.8 612.6,183.1 602.6,184.8 592.7,186.4 579.4,188.1 569.4,191.4 562.7,198.1 559.4,206.4 561.1,214.7 566.1,223.0 572.7,228.0 582.7,226.3 591.0,223.0 596.0,216.4 602.6,213.0 607.6,216.4 604.3,223.0 601.0,229.7 602.6,236.3 609.3,236.3 617.6,234.7 624.2,238.0 625.9,244.6 624.2,252.9 629.2,257.9 635.9,261.2 642.5,262.9" fill="#999" stroke="#000" stroke-width="1.7" stroke-linejoin="round"/><polygon points="494.6,194.1 498.9,192.1 503.6,201.4 506.2,211.4 507.9,218.7 504.6,217.4 501.2,208.1 496.9,201.4" fill="#999" stroke="#000" stroke-width="1.7" stroke-linejoin="round"/><polygon points="647.5,267.9 659.1,261.2 669.1,256.3 682.4,251.3 687.4,256.3 697.4,257.9 709.0,259.6 722.3,261.2 732.3,264.6 738.9,271.2 748.9,276.2 760.5,284.5 772.2,287.8 780.5,292.8 787.1,301.1 790.5,311.1 792.1,317.8 785.5,322.8 795.5,327.7 805.4,334.4 815.4,341.0 828.7,344.4 838.7,351.0 848.6,361.0 853.6,371.0 852.0,380.9 845.3,390.9 837.0,397.6 832.0,407.5 830.4,420.8 822.0,434.1 812.1,444.1 798.8,440.8 788.8,450.7 782.2,460.7 780.5,469.0 768.9,474.0 763.9,480.7 752.2,492.3 743.9,494.0 735.6,490.6 730.6,498.9 727.3,507.3 719.0,512.2 709.0,517.2 702.4,523.9 700.7,533.9 694.1,540.5 685.7,543.8 690.7,550.5 684.1,557.1 679.1,565.4 680.8,570.4 689.1,580.4 679.1,583.7 669.1,577.1 662.5,568.8 659.1,557.1 659.1,547.2 664.1,533.9 667.5,520.6 669.1,508.9 672.4,500.6 675.8,487.3 679.1,470.7 682.4,454.1 685.7,440.8 687.4,427.5 690.7,414.2 685.7,404.2 675.8,394.2 667.5,384.3 660.8,374.3 655.8,361.0 649.2,347.7 639.2,337.7 635.9,327.7 640.9,317.8 640.9,307.8 647.5,301.1 654.2,291.2 657.5,281.2 652.5,274.5" fill="#999" stroke="#000" stroke-width="1.7" stroke-linejoin="round"/><polygon points="552.8,685.1 572.7,680.1 579.4,670.2 586.0,663.5 602.6,658.5 612.6,650.2 622.6,646.9 632.6,650.2 642.5,653.5 649.2,650.2 652.5,640.2 659.1,633.6 667.5,625.3 675.8,618.6 685.7,610.3 697.4,607.0 692.4,613.6 679.1,623.6 672.4,633.6 669.1,643.6 664.1,650.2 675.8,653.5 672.4,660.2 659.1,663.5 652.5,670.2 659.1,675.1 672.4,673.5 685.7,668.5 705.7,666.8 725.6,663.5 742.3,666.8 745.6,676.8 738.9,685.1 725.6,691.8 705.7,698.4 685.7,703.4 665.8,706.1 642.5,706.7 619.3,705.1 596.0,701.7 572.7,695.1 559.4,690.1" fill="#999" stroke="#000" stroke-width="1.7" stroke-linejoin="round"/><polygon points="885.2,241.3 891.9,254.6 898.5,271.2 901.8,291.2 905.2,304.5 911.8,317.8 918.5,334.4 925.1,347.7 935.1,364.3 939.1,372.6 937.7,357.7 932.4,337.7 925.8,317.8 919.1,297.8 910.5,277.9 902.5,261.2 893.9,248.0" fill="#999" stroke="#000" stroke-width="1.7" stroke-linejoin="round"/><polygon points="619.3,206.4 632.6,204.1 649.2,208.7 665.8,215.4 676.4,219.7 667.5,219.4 652.5,215.4 635.9,210.7" fill="#999" stroke="#000" stroke-width="1.7" stroke-linejoin="round"/><polygon points="676.4,220.0 689.1,219.4 699.7,224.7 685.7,226.7" fill="#999" stroke="#000" stroke-width="1.7" stroke-linejoin="round"/><polygon points="664.1,570.4 675.8,568.8 689.1,580.4 679.1,584.4 669.1,578.7" fill="#222" stroke="#000" stroke-width="1.7" stroke-linejoin="round"/><polygon points="612.6,140.9 622.6,139.6 625.2,144.9 615.9,147.6" fill="#fff" stroke="#000" stroke-width="1.7" stroke-linejoin="round"/><polygon points="632.6,118.3 649.2,117.0 647.5,122.3 635.9,123.6" fill="#fff" stroke="#000" stroke-width="1.7" stroke-linejoin="round"/><polygon points="682.4,256.3 687.7,258.6 686.4,264.6 682.4,262.6" fill="#fff" stroke="#000" stroke-width="1.7" stroke-linejoin="round"/><polygon points="693.1,387.6 698.4,386.2 699.7,391.6 695.1,392.9" fill="#fff" stroke="#000" stroke-width="1.7" stroke-linejoin="round"/><polygon points="649.2,666.8 659.1,663.5 672.4,666.8 665.8,671.8 652.5,671.8" fill="#fff" stroke="#000" stroke-width="1.7" stroke-linejoin="round"/><polygon points="586.0,690.8 606.0,687.4 615.9,688.8 602.6,693.4" fill="#fff" stroke="#000" stroke-width="1.7" stroke-linejoin="round"/><polygon points="667.3,459.9 689.6,461.0 685.0,503.6 664.8,502.6" fill="none" stroke="#ff0000" stroke-width="7.8" stroke-linejoin="round"/><path d="M637.2 687.8L634.6 687.9L632.1 687.9L629.5 688.0L627.0 688.0L624.4 688.0L621.9 688.0L619.4 688.0L616.8 688.0L614.3 687.9L611.7 687.8L609.2 687.7L606.7 687.6L604.1 687.4L601.6 687.2L599.1 687.0L596.5 686.8L594.0 686.6L591.5 686.3L589.0 686.0L586.5 685.7L584.0 685.4L581.5 685.1L579.0 684.7L576.5 684.3L574.0 683.9L571.5 683.5L569.1 683.0L566.6 682.5L564.1 682.1L561.7 681.5L559.2 681.0L556.8 680.5L554.3 679.9L551.9 679.3L549.5 678.7L547.1 678.0L544.7 677.4L542.3 676.7L539.9 676.0L537.5 675.3L535.1 674.5L532.7 673.8L530.4 673.0L528.0 672.2L525.7 671.4L523.3 670.5L521.0 669.7L518.7 668.8L516.4 667.9L514.1 667.0L511.8 666.0L509.5 665.1L507.2 664.1L505.0 663.1L502.7 662.1L500.5 661.0L498.3 660.0L496.1 658.9L493.9 657.8L491.7 656.7L489.5 655.6L487.3 654.4L485.1 653.3L483.0 652.1L480.9 650.9L478.7 649.6L476.6 648.4L474.5 647.1L472.5 645.9L470.4 644.6L468.3 643.2L466.3 641.9L464.2 640.6L462.2 639.2L460.2 637.8L458.2 636.4L456.3 635.0L454.3 633.5L452.3 632.1L450.4 630.6L448.5 629.1L446.6 627.6L444.7 626.1L442.8 624.5L441.0 623.0L439.1 621.4L437.3 619.8L435.5 618.2L433.7 616.6L431.9 615.0L430.1 613.3L428.4 611.6L426.7 610.0L424.9 608.3L423.2 606.5L421.6 604.8L419.9 603.1L418.2 601.3L416.6 599.5L415.0 597.7L413.4 595.9L411.8 594.1L410.3 592.3L408.7 590.4L407.2 588.6L405.7 586.7L404.2 584.8L402.7 582.9L401.3 581.0L399.8 579.1L398.4 577.1L397.0 575.2L395.6 573.2L394.3 571.3L392.9 569.3L391.6 567.3L390.3 565.2L389.0 563.2L387.7 561.2L386.5 559.1L385.3 557.1L384.0 555.0L382.9 552.9L381.7 550.8L380.5 548.7L379.4 546.6M637.4 686.8L635.0 686.5L632.6 686.1L630.1 685.7L627.7 685.3L625.3 684.8L622.8 684.4L620.4 683.9L618.0 683.4L615.6 682.9L613.1 682.3L610.7 681.8L608.3 681.2L605.9 680.6L603.5 679.9L601.0 679.3L598.6 678.6L596.2 677.9L593.8 677.2L591.4 676.5L589.0 675.7L586.7 675.0L584.3 674.2L581.9 673.4L579.5 672.5L577.1 671.7L574.8 670.8L572.4 669.9L570.1 669.0L567.7 668.1L565.4 667.1L563.0 666.1L560.7 665.1L558.4 664.1L556.1 663.1L553.7 662.0L551.4 661.0L549.1 659.9L546.8 658.8L544.6 657.6L542.3 656.5L540.0 655.3L537.8 654.2L535.5 652.9L533.3 651.7L531.0 650.5L528.8 649.2L526.6 648.0L524.4 646.7L522.1 645.3L520.0 644.0L517.8 642.7L515.6 641.3L513.4 639.9L511.3 638.5L509.1 637.1L507.0 635.7L504.9 634.2L502.8 632.7L500.7 631.2L498.6 629.7L496.5 628.2L494.4 626.7L492.3 625.1L490.3 623.5L488.3 622.0L486.2 620.3L484.2 618.7L482.2 617.1L480.2 615.4L478.3 613.8L476.3 612.1L474.3 610.4L472.4 608.7L470.5 606.9L468.6 605.2L466.7 603.4L464.8 601.7L462.9 599.9L461.0 598.1L459.2 596.2L457.4 594.4L455.6 592.6L453.8 590.7L452.0 588.8L450.2 586.9L448.4 585.0L446.7 583.1L445.0 581.2L443.2 579.2L441.5 577.3L439.9 575.3L438.2 573.3L436.5 571.3L434.9 569.3L433.3 567.3L431.7 565.3L430.1 563.2L428.5 561.2L426.9 559.1L425.4 557.0L423.9 554.9L422.4 552.8L420.9 550.7L419.4 548.6L418.0 546.5L416.5 544.3L415.1 542.2L413.7 540.0L412.3 537.8L410.9 535.7L409.6 533.5L408.2 531.3L406.9 529.1L405.6 526.8L404.3 524.6L403.1 522.4L401.8 520.1L400.6 517.9L399.4 515.6L398.2 513.3L397.0 511.0L395.9 508.7L394.7 506.5L393.6 504.1L392.5 501.8L391.5 499.5L390.4 497.2L389.4 494.9L388.3 492.5L387.3 490.2L386.4 487.8L385.4 485.5L384.5 483.1L383.5 480.7L382.6 478.4L381.7 476.0L380.9 473.6L380.0 471.2L379.2 468.8L378.4 466.4L377.6 464.0L376.9 461.6L376.1 459.2L375.4 456.8L374.7 454.4L374.0 451.9L373.4 449.5L372.7 447.1L372.1 444.6L371.5 442.2L370.9 439.8L370.4 437.3L369.8 434.9L369.3 432.4L368.8 430.0L368.3 427.5L367.9 425.1L367.5 422.6L367.0 420.2L366.6 417.7L366.3 415.3L365.9 412.8L365.6 410.4L365.3 407.9L365.0 405.5L364.7 403.0L364.5 400.6L364.3 398.1L364.1 395.7L363.9 393.2L363.7 390.8L363.6 388.3L363.5 385.9L363.4 383.4L363.3 381.0L363.3 378.5L363.2 376.1L363.2 373.7L363.2 371.2L363.3 368.8L363.3 366.4L363.4 363.9L363.5 361.5L363.6 359.1L363.7 356.7L363.9 354.3L364.1 351.9L364.3 349.5L364.5 347.1L364.7 344.7L365.0 342.3L365.3 339.9L365.6 337.5L365.9 335.2L366.3 332.8L366.6 330.4L367.0 328.1L367.5 325.7L367.9 323.4L368.3 321.0L368.8 318.7L369.3 316.4L369.8 314.1L370.4 311.8L370.9 309.5L371.5 307.2L372.1 304.9L372.7 302.6L373.4 300.3L374.0 298.1L374.7 295.8L375.4 293.6L376.1 291.3L376.9 289.1L377.6 286.9L378.4 284.7L379.2 282.5L380.0 280.3L380.9 278.1L381.7 275.9L382.6 273.8L383.5 271.6L384.5 269.5L385.4 267.4L386.4 265.3L387.3 263.1L388.3 261.0L389.4 259.0L390.4 256.9L391.5 254.8L392.5 252.8L393.6 250.7L394.7 248.7L395.9 246.7L397.0 244.7L398.2 242.7L399.4 240.7L400.6 238.8L401.8 236.8L403.1 234.9L404.3 233.0L405.6 231.0L406.9 229.1L408.2 227.3L409.6 225.4L410.9 223.5L412.3 221.7L413.7 219.9L415.1 218.0L416.5 216.2L418.0 214.5L419.4 212.7L420.9 210.9L422.4 209.2L423.9 207.5L425.4 205.8L426.9 204.1L428.5 202.4L430.1 200.7L431.7 199.1L433.3 197.4L434.9 195.8L436.5 194.2L438.2 192.7M639.0 686.1L637.3 685.4L635.6 684.6L634.0 683.8L632.3 683.0L630.6 682.2L629.0 681.4L627.3 680.5L625.7 679.6L624.0 678.7L622.3 677.8L620.7 676.9L619.0 675.9L617.4 674.9L615.7 673.9L614.1 672.9L612.4 671.9L610.8 670.8L609.1 669.7L607.5 668.6L605.9 667.5L604.2 666.4L602.6 665.2L601.0 664.0L599.4 662.8L597.7 661.6L596.1 660.4L594.5 659.1L592.9 657.8L591.3 656.5L589.7 655.2L588.1 653.9L586.5 652.5L584.9 651.2L583.3 649.8L581.7 648.4L580.1 646.9L578.6 645.5L577.0 644.0L575.4 642.6L573.9 641.1L572.3 639.5L570.8 638.0L569.2 636.5L567.7 634.9L566.2 633.3L564.7 631.7L563.1 630.1L561.6 628.5L560.1 626.8L558.6 625.1L557.1 623.4L555.6 621.7L554.1 620.0L552.7 618.3L551.2 616.5L549.7 614.8L548.3 613.0L546.8 611.2L545.4 609.4L544.0 607.5L542.6 605.7L541.1 603.8L539.7 602.0L538.3 600.1L536.9 598.2L535.5 596.3L534.2 594.3L532.8 592.4L531.4 590.4L530.1 588.4L528.7 586.5L527.4 584.5L526.1 582.4L524.8 580.4L523.5 578.4L522.2 576.3L520.9 574.3L519.6 572.2L518.3 570.1L517.1 568.0L515.8 565.9L514.6 563.7L513.3 561.6L512.1 559.4L510.9 557.3L509.7 555.1L508.5 552.9L507.3 550.7L506.1 548.5L505.0 546.3L503.8 544.1L502.7 541.8L501.5 539.6L500.4 537.3L499.3 535.0L498.2 532.8L497.1 530.5L496.1 528.2L495.0 525.9L493.9 523.6L492.9 521.2L491.9 518.9L490.8 516.6L489.8 514.2L488.8 511.9L487.9 509.5L486.9 507.1L485.9 504.7L485.0 502.3L484.0 500.0L483.1 497.6L482.2 495.1L481.3 492.7L480.4 490.3L479.5 487.9L478.7 485.4L477.8 483.0L477.0 480.6L476.1 478.1L475.3 475.6L474.5 473.2L473.7 470.7L473.0 468.2L472.2 465.8L471.4 463.3L470.7 460.8L470.0 458.3L469.3 455.8L468.6 453.3L467.9 450.8L467.2 448.3L466.6 445.8L465.9 443.3L465.3 440.8L464.7 438.3L464.1 435.8L463.5 433.3L462.9 430.7L462.3 428.2L461.8 425.7L461.3 423.2L460.7 420.6L460.2 418.1L459.7 415.6L459.3 413.1L458.8 410.5L458.3 408.0L457.9 405.5L457.5 402.9L457.1 400.4L456.7 397.9L456.3 395.4L455.9 392.8L455.6 390.3L455.2 387.8L454.9 385.3L454.6 382.7L454.3 380.2L454.0 377.7L453.7 375.2L453.5 372.7L453.2 370.2L453.0 367.7L452.8 365.2L452.6 362.7L452.4 360.2L452.3 357.7L452.1 355.2L452.0 352.7L451.9 350.2L451.7 347.8L451.7 345.3L451.6 342.8L451.5 340.4L451.5 337.9L451.4 335.5L451.4 333.0L451.4 330.6L451.4 328.2L451.4 325.7L451.5 323.3L451.5 320.9L451.6 318.5L451.7 316.1L451.7 313.7L451.9 311.3L452.0 308.9L452.1 306.6L452.3 304.2L452.4 301.8L452.6 299.5L452.8 297.2L453.0 294.8L453.2 292.5L453.5 290.2L453.7 287.9L454.0 285.6L454.3 283.3L454.6 281.0L454.9 278.8L455.2 276.5L455.6 274.3L455.9 272.0L456.3 269.8L456.7 267.6L457.1 265.4L457.5 263.2L457.9 261.0L458.3 258.8L458.8 256.7L459.3 254.5L459.7 252.4L460.2 250.3L460.7 248.2L461.3 246.1L461.8 244.0L462.3 241.9L462.9 239.8L463.5 237.8L464.1 235.7L464.7 233.7L465.3 231.7L465.9 229.7L466.6 227.7L467.2 225.8L467.9 223.8L468.6 221.9L469.3 219.9L470.0 218.0L470.7 216.1L471.4 214.2L472.2 212.4L473.0 210.5L473.7 208.7L474.5 206.8L475.3 205.0L476.1 203.2L477.0 201.5L477.8 199.7L478.7 198.0L479.5 196.2L480.4 194.5L481.3 192.8L482.2 191.1L483.1 189.5L484.0 187.8L485.0 186.2L485.9 184.6L486.9 183.0L487.9 181.4L488.8 179.8L489.8 178.3L490.8 176.8L491.9 175.3L492.9 173.8L493.9 172.3L495.0 170.8L496.1 169.4L497.1 168.0L498.2 166.6L499.3 165.2L500.4 163.8L501.5 162.5L502.7 161.2L503.8 159.8L505.0 158.6L506.1 157.3L507.3 156.0L508.5 154.8L509.7 153.6L510.9 152.4L512.1 151.2L513.3 150.1L514.6 148.9L515.8 147.8L517.1 146.7L518.3 145.6L519.6 144.6L520.9 143.6L522.2 142.5L523.5 141.5L524.8 140.6L526.1 139.6L527.4 138.7L528.7 137.8L530.1 136.9L531.4 136.0L532.8 135.2L534.2 134.3L535.5 133.5L536.9 132.7L538.3 132.0L539.7 131.2L541.1 130.5L542.6 129.8L544.0 129.1L545.4 128.4L546.8 127.8L548.3 127.2L549.7 126.6L551.2 126.0L552.7 125.4L554.1 124.9L555.6 124.4L557.1 123.9L558.6 123.4L560.1 123.0M641.4 685.7L640.9 684.8L640.5 683.8L640.1 682.9L639.6 681.9L639.2 680.9L638.7 679.8L638.3 678.8L637.8 677.7L637.4 676.6L636.9 675.5L636.5 674.4L636.0 673.2L635.6 672.0L635.1 670.9L634.7 669.6L634.2 668.4L633.8 667.2L633.3 665.9L632.9 664.6L632.5 663.3L632.0 661.9L631.6 660.6L631.1 659.2L630.7 657.8L630.3 656.4L629.8 655.0L629.4 653.6L629.0 652.1L628.5 650.6L628.1 649.1L627.7 647.6L627.2 646.0L626.8 644.5L626.4 642.9L625.9 641.3L625.5 639.7L625.1 638.1L624.7 636.4L624.2 634.8L623.8 633.1L623.4 631.4L623.0 629.7L622.6 628.0L622.1 626.2L621.7 624.5L621.3 622.7L620.9 620.9L620.5 619.1L620.1 617.2L619.7 615.4L619.3 613.5L618.9 611.7L618.5 609.8L618.1 607.9L617.7 605.9L617.3 604.0L616.9 602.0L616.5 600.1L616.1 598.1L615.7 596.1L615.4 594.1L615.0 592.1L614.6 590.0L614.2 588.0L613.8 585.9L613.5 583.8L613.1 581.7L612.7 579.6L612.4 577.5L612.0 575.4L611.6 573.2L611.3 571.1L610.9 568.9L610.5 566.7L610.2 564.5L609.8 562.3L609.5 560.1L609.1 557.9L608.8 555.7L608.5 553.4L608.1 551.1L607.8 548.9L607.5 546.6L607.1 544.3L606.8 542.0L606.5 539.7L606.2 537.3L605.8 535.0L605.5 532.7L605.2 530.3L604.9 527.9L604.6 525.6L604.3 523.2L604.0 520.8L603.7 518.4L603.4 516.0L603.1 513.6L602.8 511.2L602.5 508.7L602.2 506.3L601.9 503.8L601.7 501.4L601.4 498.9L601.1 496.5L600.8 494.0L600.6 491.5L600.3 489.0L600.1 486.5L599.8 484.0L599.5 481.5L599.3 479.0L599.0 476.5L598.8 474.0L598.6 471.5L598.3 468.9L598.1 466.4L597.9 463.9L597.6 461.3L597.4 458.8L597.2 456.2L597.0 453.7L596.8 451.1L596.6 448.5L596.3 446.0L596.1 443.4L595.9 440.8L595.8 438.3L595.6 435.7L595.4 433.1L595.2 430.5L595.0 427.9L594.8 425.4L594.7 422.8L594.5 420.2L594.3 417.6L594.2 415.0L594.0 412.4L593.8 409.9L593.7 407.3L593.5 404.7L593.4 402.1L593.3 399.5L593.1 396.9L593.0 394.3L592.9 391.7L592.7 389.2L592.6 386.6L592.5 384.0L592.4 381.4L592.3 378.9L592.2 376.3L592.0 373.7L591.9 371.1L591.9 368.6L591.8 366.0L591.7 363.5L591.6 360.9L591.5 358.3L591.4 355.8L591.4 353.3L591.3 350.7L591.2 348.2L591.2 345.6L591.1 343.1L591.1 340.6L591.0 338.1L591.0 335.6L590.9 333.1L590.9 330.6L590.9 328.1L590.8 325.6L590.8 323.1L590.8 320.6L590.8 318.2L590.7 315.7L590.7 313.2L590.7 310.8L590.7 308.4L590.7 305.9L590.7 303.5L590.7 301.1L590.8 298.7L590.8 296.3L590.8 293.9L590.8 291.5L590.9 289.1L590.9 286.8L590.9 284.4L591.0 282.1L591.0 279.7L591.1 277.4L591.1 275.1L591.2 272.8L591.2 270.5L591.3 268.2L591.4 265.9L591.4 263.7L591.5 261.4L591.6 259.2L591.7 256.9L591.8 254.7L591.9 252.5L591.9 250.3L592.0 248.1L592.2 246.0L592.3 243.8L592.4 241.7L592.5 239.5L592.6 237.4L592.7 235.3L592.9 233.2L593.0 231.1L593.1 229.1L593.3 227.0L593.4 225.0L593.5 223.0L593.7 220.9L593.8 218.9L594.0 217.0L594.2 215.0L594.3 213.0L594.5 211.1L594.7 209.2L594.8 207.3L595.0 205.4L595.2 203.5L595.4 201.6L595.6 199.8L595.8 198.0L595.9 196.1L596.1 194.3L596.3 192.6L596.6 190.8L596.8 189.0L597.0 187.3L597.2 185.6L597.4 183.9L597.6 182.2L597.9 180.6L598.1 178.9L598.3 177.3L598.6 175.7L598.8 174.1L599.0 172.5L599.3 170.9L599.5 169.4L599.8 167.9L600.1 166.4L600.3 164.9L600.6 163.4L600.8 162.0L601.1 160.5L601.4 159.1L601.7 157.7L601.9 156.4L602.2 155.0L602.5 153.7L602.8 152.4L603.1 151.1L603.4 149.8L603.7 148.5L604.0 147.3L604.3 146.1L604.6 144.9L604.9 143.7L605.2 142.6L605.5 141.4L605.8 140.3L606.2 139.2L606.5 138.1L606.8 137.1L607.1 136.1L607.5 135.1L607.8 134.1L608.1 133.1L608.5 132.1L608.8 131.2L609.1 130.3L609.5 129.4L609.8 128.6L610.2 127.7L610.5 126.9L610.9 126.1L611.3 125.3L611.6 124.5L612.0 123.8L612.4 123.1L612.7 122.4L613.1 121.7L613.5 121.1L613.8 120.5L614.2 119.9L614.6 119.3L615.0 118.7L615.4 118.2L615.7 117.7L616.1 117.2L616.5 116.7L616.9 116.2L617.3 115.8L617.7 115.4L618.1 115.0L618.5 114.7L618.9 114.3L619.3 114.0L619.7 113.7L620.1 113.4L620.5 113.2L620.9 113.0L621.3 112.8L621.7 112.6L622.1 112.4L622.6 112.3L623.0 112.2L623.4 112.1L623.8 112.0L624.2 112.0M644.1 685.8L645.0 684.9L645.8 684.0L646.7 683.1L647.6 682.1L648.5 681.1L649.4 680.2L650.3 679.1L651.2 678.1L652.0 677.1L652.9 676.0L653.8 674.9L654.7 673.8L655.6 672.6L656.4 671.5L657.3 670.3L658.2 669.1L659.1 667.9L659.9 666.7L660.8 665.4L661.7 664.1L662.6 662.9L663.4 661.5L664.3 660.2L665.2 658.9L666.0 657.5L666.9 656.1L667.7 654.7L668.6 653.3L669.4 651.8L670.3 650.4L671.2 648.9L672.0 647.4L672.8 645.9L673.7 644.3L674.5 642.8L675.4 641.2L676.2 639.6L677.0 638.0L677.9 636.4L678.7 634.7L679.5 633.1L680.4 631.4L681.2 629.7L682.0 628.0L682.8 626.3L683.6 624.5L684.4 622.8L685.2 621.0L686.0 619.2L686.8 617.4L687.6 615.6L688.4 613.7L689.2 611.9L690.0 610.0L690.8 608.1L691.5 606.2L692.3 604.3L693.1 602.4L693.9 600.4L694.6 598.5L695.4 596.5L696.1 594.5L696.9 592.5L697.6 590.5L698.4 588.4L699.1 586.4L699.8 584.3L700.6 582.3L701.3 580.2L702.0 578.1L702.7 576.0L703.4 573.8L704.1 571.7L704.8 569.6L705.5 567.4L706.2 565.2L706.9 563.0L707.6 560.8L708.3 558.6L708.9 556.4L709.6 554.2L710.3 551.9L710.9 549.7L711.6 547.4L712.2 545.1L712.9 542.9L713.5 540.6L714.1 538.2L714.8 535.9L715.4 533.6L716.0 531.3L716.6 528.9L717.2 526.6L717.8 524.2L718.4 521.8L719.0 519.5L719.5 517.1L720.1 514.7L720.7 512.3L721.2 509.9L721.8 507.4L722.3 505.0L722.9 502.6L723.4 500.1L724.0 497.7L724.5 495.2L725.0 492.8L725.5 490.3L726.0 487.8L726.5 485.3L727.0 482.8L727.5 480.3L728.0 477.8L728.4 475.3L728.9 472.8L729.4 470.3L729.8 467.8L730.3 465.3L730.7 462.8L731.1 460.2L731.6 457.7L732.0 455.1L732.4 452.6L732.8 450.1L733.2 447.5L733.6 445.0L734.0 442.4L734.4 439.8L734.7 437.3L735.1 434.7L735.5 432.1L735.8 429.6L736.1 427.0L736.5 424.4L736.8 421.9L737.1 419.3L737.4 416.7L737.8 414.2L738.1 411.6L738.3 409.0L738.6 406.4L738.9 403.9L739.2 401.3L739.4 398.7L739.7 396.1L739.9 393.6L740.2 391.0L740.4 388.4L740.6 385.9L740.9 383.3L741.1 380.7L741.3 378.2L741.5 375.6L741.7 373.1L741.8 370.5L742.0 368.0L742.2 365.4L742.3 362.9L742.5 360.3L742.6 357.8L742.8 355.2L742.9 352.7L743.0 350.2L743.1 347.7L743.2 345.2L743.3 342.6L743.4 340.1L743.5 337.6L743.6 335.1L743.6 332.6L743.7 330.2L743.7 327.7L743.8 325.2L743.8 322.7L743.8 320.3L743.9 317.8L743.9 315.4L743.9 312.9L743.9 310.5L743.9 308.1L743.8 305.7L743.8 303.3L743.8 300.9L743.7 298.5L743.7 296.1L743.6 293.7L743.6 291.3L743.5 289.0L743.4 286.6L743.3 284.3L743.2 282.0L743.1 279.6L743.0 277.3L742.9 275.0L742.8 272.7L742.6 270.5L742.5 268.2L742.3 265.9L742.2 263.7L742.0 261.4L741.8 259.2L741.7 257.0L741.5 254.8L741.3 252.6L741.1 250.4L740.9 248.3L740.6 246.1L740.4 244.0L740.2 241.8L739.9 239.7L739.7 237.6L739.4 235.5L739.2 233.4L738.9 231.4L738.6 229.3L738.3 227.3L738.1 225.3L737.8 223.2L737.4 221.3L737.1 219.3L736.8 217.3L736.5 215.3L736.1 213.4L735.8 211.5L735.5 209.6L735.1 207.7L734.7 205.8L734.4 203.9L734.0 202.1L733.6 200.3L733.2 198.4L732.8 196.6L732.4 194.9L732.0 193.1L731.6 191.3L731.1 189.6L730.7 187.9L730.3 186.2L729.8 184.5L729.4 182.8L728.9 181.2L728.4 179.6L728.0 177.9L727.5 176.3L727.0 174.8L726.5 173.2L726.0 171.7L725.5 170.1L725.0 168.6L724.5 167.1L724.0 165.7L723.4 164.2L722.9 162.8L722.3 161.4L721.8 160.0L721.2 158.6L720.7 157.2L720.1 155.9L719.5 154.6L719.0 153.3L718.4 152.0L717.8 150.7L717.2 149.5L716.6 148.3L716.0 147.0L715.4 145.9L714.8 144.7L714.1 143.6L713.5 142.4L712.9 141.3L712.2 140.3L711.6 139.2L710.9 138.1L710.3 137.1L709.6 136.1L708.9 135.1L708.3 134.2L707.6 133.2L706.9 132.3L706.2 131.4L705.5 130.6L704.8 129.7L704.1 128.9L703.4 128.1L702.7 127.3L702.0 126.5L701.3 125.8L700.6 125.0L699.8 124.3L699.1 123.6L698.4 123.0L697.6 122.3L696.9 121.7L696.1 121.1L695.4 120.6L694.6 120.0L693.9 119.5L693.1 119.0L692.3 118.5L691.5 118.0L690.8 117.6L690.0 117.2L689.2 116.8L688.4 116.4L687.6 116.0L686.8 115.7L686.0 115.4L685.2 115.1L684.4 114.9L683.6 114.6L682.8 114.4L682.0 114.2L681.2 114.0L680.4 113.9L679.5 113.7M646.3 686.3L648.3 685.7L650.2 685.0L652.2 684.4L654.2 683.7L656.2 683.0L658.2 682.3L660.2 681.5L662.1 680.7L664.1 679.9L666.1 679.1L668.1 678.3L670.0 677.5L672.0 676.6L674.0 675.7L675.9 674.8L677.9 673.8L679.9 672.9L681.8 671.9L683.8 670.9L685.7 669.9L687.7 668.9L689.6 667.8L691.5 666.7L693.5 665.6L695.4 664.5L697.3 663.4L699.3 662.3L701.2 661.1L703.1 659.9L705.0 658.7L706.9 657.5L708.8 656.2L710.7 654.9L712.6 653.7L714.5 652.3L716.4 651.0L718.2 649.7L720.1 648.3L722.0 646.9L723.8 645.6L725.7 644.1L727.5 642.7L729.4 641.3L731.2 639.8L733.0 638.3L734.8 636.8L736.6 635.3L738.5 633.7L740.2 632.2L742.0 630.6L743.8 629.0L745.6 627.4L747.4 625.8L749.1 624.2L750.9 622.5L752.6 620.8L754.3 619.2L756.1 617.5L757.8 615.7L759.5 614.0L761.2 612.2L762.9 610.5L764.5 608.7L766.2 606.9L767.9 605.1L769.5 603.3L771.2 601.4L772.8 599.6L774.4 597.7L776.0 595.8L777.6 593.9L779.2 592.0L780.8 590.1L782.4 588.1L783.9 586.2L785.5 584.2L787.0 582.2L788.5 580.2L790.1 578.2L791.6 576.2L793.1 574.2L794.5 572.1L796.0 570.1L797.5 568.0L798.9 565.9L800.3 563.8L801.8 561.7L803.2 559.6L804.6 557.4L806.0 555.3L807.3 553.1L808.7 551.0L810.0 548.8L811.4 546.6L812.7 544.4L814.0 542.2L815.3 540.0L816.6 537.8L817.9 535.5L819.1 533.3L820.4 531.0L821.6 528.8L822.8 526.5L824.0 524.2L825.2 521.9L826.4 519.6L827.5 517.3L828.7 515.0L829.8 512.7L830.9 510.3L832.0 508.0L833.1 505.6L834.2 503.3L835.2 500.9L836.3 498.6L837.3 496.2L838.3 493.8L839.3 491.4L840.3 489.0L841.3 486.6L842.2 484.2L843.2 481.8L844.1 479.4L845.0 476.9L845.9 474.5L846.8 472.1L847.7 469.6L848.5 467.2L849.3 464.7L850.1 462.3L850.9 459.8L851.7 457.3L852.5 454.9L853.2 452.4L854.0 449.9L854.7 447.5L855.4 445.0L856.1 442.5L856.8 440.0L857.4 437.5L858.1 435.0L858.7 432.5L859.3 430.1L859.9 427.6L860.4 425.1L861.0 422.6L861.5 420.1L862.1 417.6L862.6 415.1L863.1 412.6L863.5 410.1L864.0 407.6L864.4 405.1L864.8 402.6L865.2 400.1L865.6 397.6L866.0 395.1L866.4 392.6L866.7 390.1L867.0 387.6L867.3 385.1L867.6 382.6L867.9 380.1L868.1 377.6L868.4 375.1L868.6 372.6L868.8 370.2L868.9 367.7L869.1 365.2L869.3 362.7L869.4 360.3L869.5 357.8L869.6 355.3L869.7 352.9L869.7 350.4L869.8 348.0L869.8 345.5L869.8 343.1L869.8 340.7L869.8 338.2L869.7 335.8L869.7 333.4L869.6 331.0L869.5 328.6L869.4 326.2L869.3 323.8L869.1 321.4L868.9 319.0L868.8 316.7L868.6 314.3L868.4 311.9L868.1 309.6L867.9 307.2L867.6 304.9L867.3 302.6L867.0 300.3L866.7 297.9L866.4 295.6L866.0 293.3L865.6 291.1L865.2 288.8L864.8 286.5L864.4 284.2L864.0 282.0L863.5 279.8L863.1 277.5L862.6 275.3L862.1 273.1L861.5 270.9L861.0 268.7L860.4 266.5L859.9 264.4L859.3 262.2L858.7 260.1L858.1 257.9L857.4 255.8L856.8 253.7L856.1 251.6L855.4 249.5L854.7 247.4L854.0 245.4L853.2 243.3L852.5 241.3L851.7 239.2L850.9 237.2L850.1 235.2L849.3 233.2L848.5 231.3L847.7 229.3L846.8 227.4L845.9 225.4L845.0 223.5L844.1 221.6L843.2 219.7L842.2 217.8L841.3 216.0L840.3 214.1L839.3 212.3L838.3 210.5L837.3 208.7L836.3 206.9L835.2 205.1L834.2 203.4L833.1 201.6L832.0 199.9L830.9 198.2L829.8 196.5L828.7 194.8L827.5 193.2L826.4 191.5L825.2 189.9L824.0 188.3L822.8 186.7L821.6 185.1L820.4 183.6L819.1 182.0L817.9 180.5L816.6 179.0L815.3 177.5L814.0 176.0L812.7 174.6L811.4 173.1L810.0 171.7L808.7 170.3L807.3 168.9L806.0 167.6L804.6 166.2L803.2 164.9L801.8 163.6L800.3 162.3L798.9 161.0L797.5 159.8L796.0 158.5L794.5 157.3L793.1 156.1L791.6 154.9L790.1 153.8L788.5 152.6L787.0 151.5L785.5 150.4L783.9 149.3L782.4 148.3L780.8 147.2L779.2 146.2L777.6 145.2L776.0 144.2L774.4 143.3L772.8 142.3L771.2 141.4L769.5 140.5L767.9 139.6L766.2 138.8L764.5 137.9L762.9 137.1L761.2 136.3L759.5 135.5L757.8 134.8L756.1 134.1M647.4 687.1L650.0 686.9L652.5 686.7L655.1 686.5L657.6 686.2L660.2 685.9L662.7 685.6L665.2 685.2L667.8 684.9L670.3 684.5L672.9 684.1L675.4 683.7L677.9 683.3L680.5 682.8L683.0 682.3L685.5 681.8L688.1 681.3L690.6 680.7L693.1 680.2L695.6 679.6L698.1 679.0L700.6 678.4L703.1 677.7L705.6 677.1L708.1 676.4L710.6 675.7L713.1 674.9L715.5 674.2L718.0 673.4L720.5 672.6L722.9 671.8L725.4 671.0L727.8 670.1L730.3 669.3L732.7 668.4L735.1 667.5L737.5 666.5L739.9 665.6L742.3 664.6L744.7 663.6L747.1 662.6L749.5 661.6L751.9 660.6L754.2 659.5L756.6 658.4L758.9 657.3L761.3 656.2L763.6 655.0L765.9 653.9L768.2 652.7L770.5 651.5L772.8 650.3L775.1 649.1L777.4 647.8L779.6 646.5L781.9 645.3L784.1 643.9L786.3 642.6L788.5 641.3L790.7 639.9L792.9 638.5L795.1 637.1L797.3 635.7L799.5 634.3L801.6 632.9L803.7 631.4L805.9 629.9L808.0 628.4L810.1 626.9L812.1 625.4L814.2 623.8L816.3 622.3L818.3 620.7L820.4 619.1L822.4 617.5L824.4 615.8L826.4 614.2L828.3 612.5L830.3 610.9L832.3 609.2L834.2 607.5L836.1 605.7L838.0 604.0L839.9 602.2L841.8 600.5L843.6 598.7L845.5 596.9L847.3 595.1L849.1 593.3L850.9 591.4L852.7 589.6L854.5 587.7L856.2 585.8L857.9 583.9L859.7 582.0L861.4 580.1L863.0 578.2L864.7 576.2L866.4 574.3L868.0 572.3L869.6 570.3L871.2 568.3L872.8 566.3L874.3 564.3L875.9 562.3L877.4 560.2L878.9 558.2L880.4 556.1L881.9 554.0L883.3 551.9L884.8 549.8L886.2 547.7L887.6 545.6L889.0 543.5L890.3 541.3L891.7 539.2L893.0 537.0L894.3 534.8L895.6 532.7L896.9 530.5L898.1 528.3L899.3 526.1L900.6 523.8L901.7 521.6L902.9 519.4L904.1 517.1L905.2 514.9L906.3 512.6L907.4 510.4L908.5 508.1L909.5 505.8L910.5 503.5L911.5 501.2L912.5 498.9L913.5 496.6L914.4 494.3L915.4 491.9L916.3 489.6L917.1 487.3L918.0 484.9L918.9 482.6L919.7 480.2L920.5 477.9L921.3 475.5L922.0 473.1L922.7 470.8L923.5 468.4L924.2 466.0L924.8 463.6L925.5 461.2L926.1 458.8L926.7 456.4L927.3 454.0L927.9 451.6L928.4 449.2L928.9 446.8L929.4 444.3L929.9 441.9L930.3 439.5L930.8 437.1L931.2 434.6L931.6 432.2L931.9 429.8L932.3 427.3L932.6 424.9L932.9 422.5L933.2 420.0L933.4 417.6L933.7 415.2L933.9 412.7L934.1 410.3L934.2 407.8L934.4 405.4L934.5 403.0L934.6 400.5L934.7 398.1L934.7 395.6L934.8 393.2L934.8 390.8L934.8 388.3L934.7 385.9L934.7 383.5L934.6 381.0L934.5 378.6L934.4 376.2L934.2 373.8L934.1 371.3L933.9 368.9L933.7 366.5L933.4 364.1L933.2 361.7L932.9 359.3L932.6 356.9L932.3 354.5L931.9 352.1L931.6 349.7L931.2 347.3L930.8 344.9L930.3 342.6L929.9 340.2L929.4 337.8L928.9 335.5L928.4 333.1L927.9 330.8L927.3 328.4L926.7 326.1L926.1 323.8L925.5 321.4L924.8 319.1L924.2 316.8L923.5 314.5L922.7 312.2L922.0 309.9L921.3 307.7L920.5 305.4L919.7 303.1L918.9 300.9L918.0 298.6L917.1 296.4L916.3 294.1L915.4 291.9L914.4 289.7L913.5 287.5L912.5 285.3L911.5 283.1L910.5 280.9L909.5 278.8L908.5 276.6L907.4 274.5L906.3 272.3M647.2 688.1L649.6 688.3L652.0 688.5L654.5 688.7L656.9 688.9L659.3 689.1L661.8 689.2L664.2 689.4L666.6 689.5L669.0 689.5L671.5 689.6L673.9 689.6L676.3 689.6L678.7 689.6L681.1 689.6L683.6 689.6L686.0 689.5L688.4 689.4L690.8 689.3L693.2 689.1L695.6 689.0L697.9 688.8L700.3 688.6L702.7 688.4L705.1 688.2L707.5 687.9L709.8 687.6L712.2 687.3L714.5 687.0L716.9 686.6L719.2 686.3L721.6 685.9L723.9 685.5L726.2 685.0L728.5 684.6L730.9 684.1L733.2 683.6L735.5 683.1L737.8 682.5L740.0 682.0L742.3 681.4L744.6 680.8L746.8 680.2L749.1 679.5L751.3 678.9L753.6 678.2L755.8 677.5L758.0 676.8L760.2 676.0L762.5 675.3L764.6 674.5L766.8 673.7L769.0 672.8L771.2 672.0L773.3 671.1L775.5 670.2L777.6 669.3L779.7 668.4L781.8 667.5L783.9 666.5L786.0 665.5L788.1 664.5L790.2 663.5L792.3 662.4L794.3 661.4L796.3 660.3L798.4 659.2L800.4 658.1L802.4 656.9L804.4 655.8L806.3 654.6L808.3 653.4L810.3 652.2L812.2 651.0L814.1 649.7L816.0 648.4L817.9 647.2L819.8 645.9L821.7 644.5L823.6 643.2L825.4 641.8L827.2 640.4L829.0 639.1L830.8 637.6L832.6 636.2L834.4 634.8L836.2 633.3L837.9 631.8L839.6 630.3L841.4 628.8L843.1 627.3L844.7 625.7M645.6 688.8L647.3 689.4L649.0 690.0L650.6 690.6L652.3 691.2L654.0 691.7L655.6 692.2L657.3 692.7L658.9 693.2L660.6 693.7L662.3 694.1L663.9 694.5L665.6 694.9L667.2 695.3L668.9 695.6L670.5 695.9L672.2 696.2L673.8 696.5L675.5 696.8L677.1 697.0L678.7 697.2L680.4 697.4L682.0 697.6L683.6 697.7L685.2 697.8L686.9 697.9L688.5 698.0L690.1 698.1L691.7 698.1L693.3 698.1L694.9 698.1L696.5 698.1L698.1 698.0L699.7 698.0L701.3 697.9L702.9 697.8L704.5 697.6L706.0 697.5L707.6 697.3L709.2 697.1L710.7 696.8L712.3 696.6L713.8 696.3L715.4 696.0L716.9 695.7L718.4 695.4L719.9 695.0L721.5 694.6L723.0 694.2M643.2 689.2L643.7 690.0L644.1 690.8L644.5 691.6L645.0 692.3L645.4 693.1L645.9 693.8L646.3 694.5L646.8 695.1L647.2 695.8L647.7 696.4L648.1 697.0L648.6 697.6L649.0 698.2L649.5 698.7L649.9 699.2L650.4 699.7L650.8 700.2L651.3 700.6L651.7 701.0L652.1 701.4L652.6 701.8L653.0 702.2L653.5 702.5L653.9 702.8L654.3 703.1L654.8 703.4L655.2 703.6L655.6 703.9L656.1 704.1L656.5 704.3L656.9 704.4L657.4 704.5L657.8 704.7L658.2 704.7L658.7 704.8L659.1 704.9L659.5 704.9L659.9 704.9M640.5 689.1L639.6 689.9L638.8 690.6L637.9 691.4L637.0 692.1L636.1 692.8L635.2 693.5L634.3 694.1L633.4 694.7L632.6 695.4L631.7 695.9L630.8 696.5L629.9 697.0L629.0 697.6L628.2 698.1L627.3 698.5L626.4 699.0L625.5 699.4L624.7 699.8L623.8 700.2L622.9 700.6L622.0 700.9L621.2 701.2L620.3 701.5L619.4 701.8L618.6 702.1L617.7 702.3L616.9 702.5L616.0 702.7L615.2 702.8L614.3 703.0L613.4 703.1L612.6 703.2L611.8 703.3L610.9 703.3L610.1 703.4L609.2 703.4L608.4 703.3L607.6 703.3L606.7 703.2L605.9 703.2M638.3 688.6L636.3 689.1L634.4 689.6L632.4 690.1L630.4 690.5L628.4 691.0L626.4 691.4L624.4 691.8L622.5 692.1L620.5 692.5L618.5 692.8L616.5 693.1L614.6 693.4L612.6 693.6L610.6 693.9L608.7 694.1L606.7 694.3L604.7 694.4L602.8 694.6L600.8 694.7L598.9 694.8L596.9 694.9L595.0 695.0L593.1 695.0L591.1 695.0L589.2 695.0L587.3 695.0L585.3 694.9L583.4 694.9L581.5 694.8L579.6 694.7L577.7 694.5L575.8 694.4L573.9 694.2L572.0 694.0L570.1 693.8L568.2 693.5L566.4 693.3L564.5 693.0L562.6 692.7L560.8 692.4L558.9 692.0L557.1 691.6L555.2 691.2L553.4 690.8L551.6 690.4L549.8 689.9L548.0 689.4L546.1 688.9L544.4 688.4L542.6 687.9L540.8 687.3L539.0 686.7L537.2 686.1L535.5 685.5L533.7 684.8L532.0 684.2L530.3 683.5M566.6 682.5L566.5 682.3L566.4 682.1L566.3 681.9L566.2 681.6L566.1 681.4L566.0 681.2L565.9 681.0L565.9 680.7L565.8 680.5L565.7 680.3L565.7 680.0L565.6 679.8L565.6 679.6L565.5 679.4L565.5 679.1L565.5 678.9L565.5 678.7L565.4 678.4L565.4 678.2L565.4 678.0L565.4 677.7L565.4 677.5L565.5 677.3L565.5 677.1L565.5 676.8L565.5 676.6L565.6 676.4L565.6 676.1L565.7 675.9L565.7 675.7L565.8 675.5L565.9 675.2L565.9 675.0L566.0 674.8L566.1 674.5L566.2 674.3L566.3 674.1L566.4 673.9L566.5 673.6L566.6 673.4L566.7 673.2L566.8 673.0L567.0 672.7L567.1 672.5L567.3 672.3L567.4 672.1L567.6 671.8L567.7 671.6L567.9 671.4L568.0 671.2L568.2 671.0L568.4 670.7L568.6 670.5L568.8 670.3L569.0 670.1L569.2 669.9L569.4 669.6L569.6 669.4L569.8 669.2L570.1 669.0L570.3 668.8L570.5 668.6L570.8 668.3L571.0 668.1L571.3 667.9L571.5 667.7L571.8 667.5L572.1 667.3L572.4 667.1L572.6 666.9L572.9 666.7L573.2 666.5L573.5 666.2L573.8 666.0L574.1 665.8L574.4 665.6L574.7 665.4L575.1 665.2L575.4 665.0L575.7 664.8L576.1 664.6L576.4 664.4L576.8 664.2L577.1 664.0L577.5 663.9L577.8 663.7L578.2 663.5L578.6 663.3L579.0 663.1L579.3 662.9L579.7 662.7L580.1 662.5L580.5 662.3L580.9 662.2L581.3 662.0L581.7 661.8L582.1 661.6L582.6 661.4L583.0 661.3L583.4 661.1L583.8 660.9L584.3 660.7L584.7 660.6L585.2 660.4L585.6 660.2L586.1 660.0L586.5 659.9L587.0 659.7L587.5 659.6L587.9 659.4L588.4 659.2L588.9 659.1L589.4 658.9L589.9 658.8L590.4 658.6L590.9 658.4L591.4 658.3L591.9 658.1L592.4 658.0L592.9 657.8L593.4 657.7L593.9 657.5L594.4 657.4L595.0 657.3L595.5 657.1L596.0 657.0L596.6 656.8L597.1 656.7L597.7 656.6L598.2 656.4L598.8 656.3L599.3 656.2L599.9 656.1L600.4 655.9L601.0 655.8L601.6 655.7L602.1 655.6L602.7 655.4L603.3 655.3L603.9 655.2L604.4 655.1L605.0 655.0L605.6 654.9L606.2 654.8L606.8 654.7L607.4 654.6L608.0 654.5L608.6 654.3L609.2 654.2L609.8 654.2L610.4 654.1L611.0 654.0L611.6 653.9L612.3 653.8L612.9 653.7L613.5 653.6L614.1 653.5L614.8 653.4L615.4 653.4L616.0 653.3L616.6 653.2L617.3 653.1L617.9 653.0L618.5 653.0L619.2 652.9L619.8 652.8L620.5 652.8L621.1 652.7L621.8 652.6L622.4 652.6L623.1 652.5L623.7 652.5L624.4 652.4L625.0 652.4L625.7 652.3L626.3 652.3L627.0 652.2L627.6 652.2L628.3 652.1L629.0 652.1L629.6 652.0L630.3 652.0L630.9 652.0L631.6 651.9L632.3 651.9L632.9 651.9L633.6 651.9L634.3 651.8L634.9 651.8L635.6 651.8L636.3 651.8L636.9 651.8L637.6 651.7L638.3 651.7L638.9 651.7L639.6 651.7L640.3 651.7L641.0 651.7L641.6 651.7L642.3 651.7L643.0 651.7L643.6 651.7L644.3 651.7L645.0 651.7L645.7 651.7L646.3 651.7L647.0 651.7L647.7 651.8L648.3 651.8L649.0 651.8L649.7 651.8L650.3 651.8L651.0 651.9L651.7 651.9L652.3 651.9L653.0 651.9L653.7 652.0L654.3 652.0L655.0 652.0L655.6 652.1L656.3 652.1L657.0 652.2L657.6 652.2L658.3 652.3L658.9 652.3L659.6 652.4L660.2 652.4L660.9 652.5L661.5 652.5L662.2 652.6L662.8 652.6L663.5 652.7L664.1 652.8L664.8 652.8L665.4 652.9L666.1 653.0L666.7 653.0L667.3 653.1L668.0 653.2L668.6 653.3L669.2 653.4L669.8 653.4L670.5 653.5L671.1 653.6L671.7 653.7L672.3 653.8L673.0 653.9L673.6 654.0L674.2 654.1L674.8 654.2L675.4 654.2L676.0 654.3L676.6 654.5L677.2 654.6L677.8 654.7L678.4 654.8L679.0 654.9L679.6 655.0L680.2 655.1L680.7 655.2L681.3 655.3L681.9 655.4L682.5 655.6L683.0 655.7L683.6 655.8L684.2 655.9L684.7 656.1L685.3 656.2L685.8 656.3L686.4 656.4L686.9 656.6L687.5 656.7L688.0 656.8L688.6 657.0L689.1 657.1L689.6 657.3L690.2 657.4L690.7 657.5L691.2 657.7L691.7 657.8L692.2 658.0L692.7 658.1L693.2 658.3L693.7 658.4L694.2 658.6L694.7 658.8L695.2 658.9L695.7 659.1L696.2 659.2L696.7 659.4L697.1 659.6L697.6 659.7L698.1 659.9L698.5 660.0L699.0 660.2L699.4 660.4L699.9 660.6L700.3 660.7L700.8 660.9L701.2 661.1L701.6 661.3L702.0 661.4L702.5 661.6L702.9 661.8L703.3 662.0L703.7 662.2L704.1 662.3L704.5 662.5L704.9 662.7L705.3 662.9L705.6 663.1L706.0 663.3L706.4 663.5L706.8 663.7L707.1 663.9L707.5 664.0L707.8 664.2L708.2 664.4L708.5 664.6L708.9 664.8L709.2 665.0L709.5 665.2L709.9 665.4L710.2 665.6L710.5 665.8L710.8 666.0L711.1 666.2L711.4 666.5L711.7 666.7L712.0 666.9L712.2 667.1L712.5 667.3L712.8 667.5L713.1 667.7L713.3 667.9L713.6 668.1L713.8 668.3L714.1 668.6L714.3 668.8L714.5 669.0L714.8 669.2L715.0 669.4L715.2 669.6L715.4 669.9L715.6 670.1L715.8 670.3L716.0 670.5L716.2 670.7L716.4 671.0L716.5 671.2L716.7 671.4L716.9 671.6L717.0 671.8L717.2 672.1L717.3 672.3L717.5 672.5L717.6 672.7L717.8 673.0L717.9 673.2L718.0 673.4L718.1 673.6L718.2 673.9L718.3 674.1L718.4 674.3L718.5 674.5L718.6 674.8L718.7 675.0L718.7 675.2L718.8 675.5L718.9 675.7L718.9 675.9L719.0 676.1L719.0 676.4L719.1 676.6L719.1 676.8L719.1 677.1L719.1 677.3L719.2 677.5L719.2 677.7L719.2 678.0L719.2 678.2L719.2 678.4L719.1 678.7L719.1 678.9L719.1 679.1L719.1 679.4L719.0 679.6L719.0 679.8L718.9 680.0L718.9 680.3L718.8 680.5L718.7 680.7L718.7 681.0L718.6 681.2L718.5 681.4L718.4 681.6L718.3 681.9L718.2 682.1L718.1 682.3L718.0 682.5L717.9 682.8L717.8 683.0L717.6 683.2L717.5 683.4L717.3 683.7L717.2 683.9L717.0 684.1L716.9 684.3L716.7 684.6L716.5 684.8L716.4 685.0L716.2 685.2L716.0 685.4L715.8 685.7L715.6 685.9L715.4 686.1L715.2 686.3L715.0 686.5L714.8 686.8L714.5 687.0L714.3 687.2L714.1 687.4L713.8 687.6L713.6 687.8L713.3 688.0L713.1 688.3L712.8 688.5L712.5 688.7L712.2 688.9L712.0 689.1L711.7 689.3L711.4 689.5L711.1 689.7L710.8 689.9L710.5 690.1L710.2 690.3L709.9 690.5L709.5 690.7L709.2 690.9L708.9 691.1L708.5 691.3L708.2 691.5L707.8 691.7L707.5 691.9L707.1 692.1L706.8 692.3L706.4 692.5L706.0 692.7L705.6 692.9L705.3 693.1L704.9 693.2L704.5 693.4L704.1 693.6L703.7 693.8L703.3 694.0L702.9 694.2L702.5 694.3L702.0 694.5L701.6 694.7L701.2 694.9L700.8 695.1L700.3 695.2L699.9 695.4L699.4 695.6L699.0 695.7L698.5 695.9L698.1 696.1L697.6 696.2L697.1 696.4L696.7 696.6L696.2 696.7L695.7 696.9L695.2 697.0L694.7 697.2L694.2 697.4L693.7 697.5L693.2 697.7L692.7 697.8L692.2 698.0L691.7 698.1L691.2 698.3L690.7 698.4L690.2 698.6L689.6 698.7L689.1 698.8L688.6 699.0L688.0 699.1L687.5 699.2L686.9 699.4L686.4 699.5L685.8 699.6L685.3 699.8L684.7 699.9L684.2 700.0L683.6 700.2L683.0 700.3L682.5 700.4L681.9 700.5L681.3 700.6L680.7 700.7L680.2 700.9L679.6 701.0L679.0 701.1L678.4 701.2L677.8 701.3L677.2 701.4L676.6 701.5L676.0 701.6L675.4 701.7L674.8 701.8L674.2 701.9L673.6 702.0L673.0 702.1L672.3 702.2L671.7 702.3L671.1 702.4L670.5 702.4L669.8 702.5L669.2 702.6L668.6 702.7L668.0 702.8L667.3 702.8L666.7 702.9L666.1 703.0L665.4 703.1L664.8 703.1L664.1 703.2L663.5 703.3L662.8 703.3L662.2 703.4L661.5 703.4L660.9 703.5L660.2 703.5L659.6 703.6L658.9 703.6L658.3 703.7L657.6 703.7L657.0 703.8L656.3 703.8L655.6 703.9L655.0 703.9L654.3 703.9L653.7 704.0L653.0 704.0L652.3 704.0L651.7 704.1L651.0 704.1L650.3 704.1L649.7 704.1L649.0 704.2L648.3 704.2L647.7 704.2L647.0 704.2L646.3 704.2L645.7 704.2L645.0 704.3L644.3 704.3L643.6 704.3L643.0 704.3L642.3 704.3L641.6 704.3L641.0 704.3L640.3 704.3L639.6 704.3L638.9 704.2L638.3 704.2L637.6 704.2L636.9 704.2L636.3 704.2L635.6 704.2L634.9 704.1L634.3 704.1L633.6 704.1L632.9 704.1L632.3 704.0L631.6 704.0L630.9 704.0L630.3 703.9L629.6 703.9L629.0 703.9L628.3 703.8L627.6 703.8L627.0 703.7L626.3 703.7L625.7 703.6L625.0 703.6L624.4 703.5L623.7 703.5L623.1 703.4L622.4 703.4L621.8 703.3L621.1 703.3L620.5 703.2L619.8 703.1L619.2 703.1L618.5 703.0L617.9 702.9L617.3 702.8L616.6 702.8L616.0 702.7L615.4 702.6L614.8 702.5L614.1 702.4L613.5 702.4L612.9 702.3L612.3 702.2L611.6 702.1L611.0 702.0L610.4 701.9L609.8 701.8L609.2 701.7L608.6 701.6L608.0 701.5L607.4 701.4L606.8 701.3L606.2 701.2L605.6 701.1L605.0 701.0L604.4 700.9L603.9 700.7L603.3 700.6L602.7 700.5L602.1 700.4L601.6 700.3L601.0 700.2L600.4 700.0L599.9 699.9L599.3 699.8L598.8 699.6L598.2 699.5L597.7 699.4L597.1 699.2L596.6 699.1L596.0 699.0L595.5 698.8L595.0 698.7L594.4 698.6L593.9 698.4L593.4 698.3L592.9 698.1L592.4 698.0L591.9 697.8L591.4 697.7L590.9 697.5L590.4 697.4L589.9 697.2L589.4 697.0L588.9 696.9L588.4 696.7L587.9 696.6L587.5 696.4L587.0 696.2L586.5 696.1L586.1 695.9L585.6 695.7L585.2 695.6L584.7 695.4L584.3 695.2L583.8 695.1L583.4 694.9L583.0 694.7L582.6 694.5L582.1 694.3L581.7 694.2L581.3 694.0L580.9 693.8L580.5 693.6L580.1 693.4L579.7 693.2L579.3 693.1L579.0 692.9L578.6 692.7L578.2 692.5L577.8 692.3L577.5 692.1L577.1 691.9L576.8 691.7L576.4 691.5L576.1 691.3L575.7 691.1L575.4 690.9L575.1 690.7L574.7 690.5L574.4 690.3L574.1 690.1L573.8 689.9L573.5 689.7L573.2 689.5L572.9 689.3L572.6 689.1L572.4 688.9L572.1 688.7L571.8 688.5L571.5 688.3L571.3 688.0L571.0 687.8L570.8 687.6L570.5 687.4L570.3 687.2L570.1 687.0L569.8 686.8L569.6 686.5L569.4 686.3L569.2 686.1L569.0 685.9L568.8 685.7L568.6 685.4L568.4 685.2L568.2 685.0L568.0 684.8L567.9 684.6L567.7 684.3L567.6 684.1L567.4 683.9L567.3 683.7L567.1 683.4L567.0 683.2L566.8 683.0L566.7 682.8L566.6 682.5M496.1 658.9L495.8 658.5L495.6 658.0L495.4 657.6L495.2 657.2L495.1 656.7L494.9 656.3L494.8 655.8L494.6 655.4L494.5 655.0L494.4 654.5L494.3 654.1L494.2 653.6L494.1 653.2L494.0 652.8L493.9 652.3L493.9 651.9L493.9 651.4L493.8 651.0L493.8 650.5L493.8 650.1L493.8 649.7L493.8 649.2L493.9 648.8L493.9 648.3L493.9 647.9L494.0 647.4L494.1 647.0L494.2 646.6L494.3 646.1L494.4 645.7L494.5 645.2L494.6 644.8L494.8 644.3L494.9 643.9L495.1 643.5L495.2 643.0L495.4 642.6L495.6 642.2L495.8 641.7L496.1 641.3L496.3 640.8L496.5 640.4L496.8 640.0L497.0 639.5L497.3 639.1L497.6 638.7L497.9 638.2L498.2 637.8L498.5 637.4L498.9 637.0L499.2 636.5L499.6 636.1L499.9 635.7L500.3 635.2L500.7 634.8L501.1 634.4L501.5 634.0L501.9 633.6L502.3 633.1L502.8 632.7L503.2 632.3L503.7 631.9L504.1 631.5L504.6 631.1L505.1 630.7L505.6 630.3L506.1 629.8L506.6 629.4L507.2 629.0L507.7 628.6L508.3 628.2L508.8 627.8L509.4 627.4L510.0 627.0L510.6 626.6L511.2 626.3L511.8 625.9L512.4 625.5L513.1 625.1L513.7 624.7L514.3 624.3L515.0 623.9L515.7 623.6L516.4 623.2L517.1 622.8L517.8 622.4L518.5 622.1L519.2 621.7L519.9 621.3L520.7 621.0L521.4 620.6L522.2 620.2L522.9 619.9L523.7 619.5L524.5 619.2L525.3 618.8L526.1 618.5L526.9 618.1L527.7 617.8L528.5 617.5L529.4 617.1L530.2 616.8L531.1 616.4L531.9 616.1L532.8 615.8L533.7 615.5L534.6 615.1L535.5 614.8L536.4 614.5L537.3 614.2L538.2 613.9L539.1 613.6L540.1 613.3L541.0 613.0L542.0 612.7L542.9 612.4L543.9 612.1L544.9 611.8L545.9 611.5L546.8 611.2L547.8 610.9L548.8 610.6L549.9 610.3L550.9 610.1L551.9 609.8L552.9 609.5L554.0 609.3L555.0 609.0L556.1 608.7L557.1 608.5L558.2 608.2L559.3 608.0L560.3 607.7L561.4 607.5L562.5 607.3L563.6 607.0L564.7 606.8L565.8 606.6L566.9 606.3L568.0 606.1L569.2 605.9L570.3 605.7L571.4 605.5L572.6 605.3L573.7 605.0L574.9 604.8L576.0 604.6L577.2 604.4L578.4 604.3L579.5 604.1L580.7 603.9L581.9 603.7L583.1 603.5L584.3 603.3L585.5 603.2L586.7 603.0L587.9 602.8L589.1 602.7L590.3 602.5L591.5 602.4L592.7 602.2L594.0 602.1L595.2 601.9L596.4 601.8L597.6 601.7L598.9 601.5L600.1 601.4L601.4 601.3L602.6 601.2L603.9 601.0L605.1 600.9L606.4 600.8L607.6 600.7L608.9 600.6L610.2 600.5L611.4 600.4L612.7 600.3L614.0 600.2L615.2 600.2L616.5 600.1L617.8 600.0L619.1 599.9L620.4 599.9L621.6 599.8L622.9 599.7L624.2 599.7L625.5 599.6L626.8 599.6L628.1 599.5L629.4 599.5L630.6 599.5L631.9 599.4L633.2 599.4L634.5 599.4L635.8 599.4L637.1 599.3L638.4 599.3L639.7 599.3L641.0 599.3L642.3 599.3L643.6 599.3L644.9 599.3L646.2 599.3L647.5 599.3L648.8 599.4L650.1 599.4L651.4 599.4L652.7 599.4L654.0 599.5L655.2 599.5L656.5 599.5L657.8 599.6L659.1 599.6L660.4 599.7L661.7 599.7L663.0 599.8L664.2 599.9L665.5 599.9L666.8 600.0L668.1 600.1L669.4 600.2L670.6 600.2L671.9 600.3L673.2 600.4L674.4 600.5L675.7 600.6L677.0 600.7L678.2 600.8L679.5 600.9L680.7 601.0L682.0 601.2L683.2 601.3L684.5 601.4L685.7 601.5L687.0 601.7L688.2 601.8L689.4 601.9L690.6 602.1L691.9 602.2L693.1 602.4L694.3 602.5L695.5 602.7L696.7 602.8L697.9 603.0L699.1 603.2L700.3 603.3L701.5 603.5L702.7 603.7L703.9 603.9L705.1 604.1L706.2 604.3L707.4 604.4L708.6 604.6L709.7 604.8L710.9 605.0L712.0 605.3L713.2 605.5L714.3 605.7L715.4 605.9L716.5 606.1L717.7 606.3L718.8 606.6L719.9 606.8L721.0 607.0L722.1 607.3L723.2 607.5L724.3 607.7L725.3 608.0L726.4 608.2L727.5 608.5L728.5 608.7L729.6 609.0L730.6 609.3L731.7 609.5L732.7 609.8L733.7 610.1L734.7 610.3L735.8 610.6L736.8 610.9L737.8 611.2L738.7 611.5L739.7 611.8L740.7 612.1L741.7 612.4L742.6 612.7L743.6 613.0L744.5 613.3L745.5 613.6L746.4 613.9L747.3 614.2L748.2 614.5L749.1 614.8L750.0 615.1L750.9 615.5L751.8 615.8L752.7 616.1L753.5 616.4L754.4 616.8L755.2 617.1L756.1 617.5L756.9 617.8L757.7 618.1L758.5 618.5L759.3 618.8L760.1 619.2L760.9 619.5L761.7 619.9L762.4 620.2L763.2 620.6L763.9 621.0L764.7 621.3L765.4 621.7L766.1 622.1L766.8 622.4L767.5 622.8L768.2 623.2L768.9 623.6L769.6 623.9L770.3 624.3L770.9 624.7L771.5 625.1L772.2 625.5L772.8 625.9L773.4 626.3L774.0 626.6L774.6 627.0L775.2 627.4L775.8 627.8L776.3 628.2L776.9 628.6L777.4 629.0L778.0 629.4L778.5 629.8L779.0 630.3L779.5 630.7L780.0 631.1L780.5 631.5L780.9 631.9L781.4 632.3L781.8 632.7L782.3 633.1L782.7 633.6L783.1 634.0L783.5 634.4L783.9 634.8L784.3 635.2L784.7 635.7L785.0 636.1L785.4 636.5L785.7 637.0L786.1 637.4L786.4 637.8L786.7 638.2L787.0 638.7L787.3 639.1L787.6 639.5L787.8 640.0L788.1 640.4L788.3 640.8L788.5 641.3L788.8 641.7L789.0 642.2L789.2 642.6L789.4 643.0L789.5 643.5L789.7 643.9L789.8 644.3L790.0 644.8L790.1 645.2L790.2 645.7L790.3 646.1L790.4 646.6L790.5 647.0L790.6 647.4L790.7 647.9L790.7 648.3L790.7 648.8L790.8 649.2L790.8 649.7L790.8 650.1L790.8 650.5L790.8 651.0L790.7 651.4L790.7 651.9L790.7 652.3L790.6 652.8L790.5 653.2L790.4 653.6L790.3 654.1L790.2 654.5L790.1 655.0L790.0 655.4L789.8 655.8L789.7 656.3L789.5 656.7L789.4 657.2L789.2 657.6L789.0 658.0L788.8 658.5L788.5 658.9L788.3 659.4L788.1 659.8L787.8 660.2L787.6 660.7L787.3 661.1L787.0 661.5L786.7 662.0L786.4 662.4L786.1 662.8L785.7 663.2L785.4 663.7L785.0 664.1L784.7 664.5L784.3 664.9L783.9 665.4L783.5 665.8L783.1 666.2L782.7 666.6L782.3 667.1L781.8 667.5L781.4 667.9L780.9 668.3L780.5 668.7L780.0 669.1L779.5 669.5L779.0 669.9L778.5 670.4L778.0 670.8L777.4 671.2L776.9 671.6L776.3 672.0L775.8 672.4L775.2 672.8L774.6 673.2L774.0 673.6L773.4 673.9L772.8 674.3L772.2 674.7L771.5 675.1L770.9 675.5L770.3 675.9L769.6 676.3L768.9 676.6L768.2 677.0L767.5 677.4L766.8 677.8L766.1 678.1L765.4 678.5L764.7 678.9L763.9 679.2L763.2 679.6L762.4 680.0L761.7 680.3L760.9 680.7L760.1 681.0L759.3 681.4L758.5 681.7L757.7 682.1M526.9 682.1L526.1 681.7L525.3 681.4L524.5 681.0L523.7 680.7L522.9 680.3L522.2 680.0L521.4 679.6L520.7 679.2L519.9 678.9L519.2 678.5L518.5 678.1L517.8 677.8L517.1 677.4L516.4 677.0L515.7 676.6L515.0 676.3L514.3 675.9L513.7 675.5L513.1 675.1L512.4 674.7L511.8 674.3L511.2 673.9L510.6 673.6L510.0 673.2L509.4 672.8L508.8 672.4L508.3 672.0L507.7 671.6L507.2 671.2L506.6 670.8L506.1 670.4L505.6 669.9L505.1 669.5L504.6 669.1L504.1 668.7L503.7 668.3L503.2 667.9L502.8 667.5L502.3 667.1L501.9 666.6L501.5 666.2L501.1 665.8L500.7 665.4L500.3 664.9L499.9 664.5L499.6 664.1L499.2 663.7L498.9 663.2L498.5 662.8L498.2 662.4L497.9 662.0L497.6 661.5L497.3 661.1L497.0 660.7L496.8 660.2L496.5 659.8L496.3 659.4L496.1 658.9M435.5 618.2L435.2 617.6L434.9 617.0L434.6 616.4L434.3 615.7L434.1 615.1L433.9 614.5L433.6 613.9L433.4 613.3L433.3 612.6L433.1 612.0L432.9 611.4L432.8 610.8L432.7 610.1L432.6 609.5L432.5 608.9L432.4 608.3L432.4 607.6L432.3 607.0L432.3 606.4L432.3 605.7L432.3 605.1L432.3 604.5L432.4 603.9L432.4 603.2L432.5 602.6L432.6 602.0L432.7 601.4L432.8 600.7L432.9 600.1L433.1 599.5L433.3 598.9L433.4 598.2L433.6 597.6L433.9 597.0L434.1 596.4L434.3 595.7L434.6 595.1L434.9 594.5L435.2 593.9L435.5 593.3L435.8 592.7L436.1 592.0L436.5 591.4L436.9 590.8L437.3 590.2L437.7 589.6L438.1 589.0L438.5 588.4L439.0 587.8L439.4 587.2L439.9 586.6L440.4 585.9L440.9 585.3L441.5 584.7L442.0 584.1L442.6 583.5L443.1 583.0L443.7 582.4L444.3 581.8L445.0 581.2L445.6 580.6L446.2 580.0L446.9 579.4L447.6 578.8L448.3 578.3L449.0 577.7L449.7 577.1L450.4 576.5L451.2 576.0L452.0 575.4L452.7 574.8L453.5 574.3L454.4 573.7L455.2 573.1L456.0 572.6L456.9 572.0L457.7 571.5L458.6 570.9L459.5 570.4L460.4 569.8L461.3 569.3L462.3 568.8L463.2 568.2L464.2 567.7L465.2 567.2L466.2 566.6L467.2 566.1L468.2 565.6L469.2 565.1L470.3 564.5L471.3 564.0L472.4 563.5L473.5 563.0L474.6 562.5L475.7 562.0L476.8 561.5L477.9 561.0L479.1 560.5L480.3 560.1L481.4 559.6L482.6 559.1L483.8 558.6L485.0 558.2L486.2 557.7L487.5 557.2L488.7 556.8L490.0 556.3L491.2 555.8L492.5 555.4L493.8 555.0L495.1 554.5L496.4 554.1L497.7 553.6L499.1 553.2L500.4 552.8L501.8 552.4L503.1 551.9L504.5 551.5L505.9 551.1L507.3 550.7L508.7 550.3L510.1 549.9L511.6 549.5L513.0 549.1L514.5 548.8L515.9 548.4L517.4 548.0L518.9 547.6L520.3 547.3L521.8 546.9L523.3 546.6L524.9 546.2L526.4 545.8L527.9 545.5L529.5 545.2L531.0 544.8L532.6 544.5L534.1 544.2L535.7 543.9L537.3 543.5L538.9 543.2L540.5 542.9L542.1 542.6L543.7 542.3L545.3 542.0L547.0 541.7L548.6 541.5L550.2 541.2L551.9 540.9L553.5 540.6L555.2 540.4L556.9 540.1L558.6 539.9L560.2 539.6L561.9 539.4L563.6 539.1L565.3 538.9L567.0 538.7L568.8 538.5L570.5 538.2L572.2 538.0L573.9 537.8L575.7 537.6L577.4 537.4L579.1 537.2L580.9 537.1L582.7 536.9L584.4 536.7L586.2 536.5L587.9 536.4L589.7 536.2L591.5 536.1L593.3 535.9L595.1 535.8L596.8 535.6L598.6 535.5L600.4 535.4L602.2 535.2L604.0 535.1L605.8 535.0L607.6 534.9L609.4 534.8L611.3 534.7L613.1 534.6L614.9 534.5L616.7 534.5L618.5 534.4L620.3 534.3L622.2 534.2L624.0 534.2L625.8 534.1L627.7 534.1L629.5 534.1L631.3 534.0L633.1 534.0L635.0 534.0L636.8 533.9L638.6 533.9L640.5 533.9L642.3 533.9L644.1 533.9L646.0 533.9L647.8 533.9L649.6 534.0L651.5 534.0L653.3 534.0L655.1 534.1L656.9 534.1L658.8 534.1L660.6 534.2L662.4 534.2L664.3 534.3L666.1 534.4L667.9 534.5L669.7 534.5L671.5 534.6L673.3 534.7L675.2 534.8L677.0 534.9L678.8 535.0L680.6 535.1L682.4 535.2L684.2 535.4L686.0 535.5L687.8 535.6L689.5 535.8L691.3 535.9L693.1 536.1L694.9 536.2L696.7 536.4L698.4 536.5L700.2 536.7L701.9 536.9L703.7 537.1L705.5 537.2L707.2 537.4L708.9 537.6L710.7 537.8L712.4 538.0L714.1 538.2L715.8 538.5L717.6 538.7L719.3 538.9L721.0 539.1L722.7 539.4L724.4 539.6L726.0 539.9L727.7 540.1L729.4 540.4L731.1 540.6L732.7 540.9L734.4 541.2L736.0 541.5L737.6 541.7L739.3 542.0L740.9 542.3L742.5 542.6L744.1 542.9L745.7 543.2L747.3 543.5L748.9 543.9L750.5 544.2L752.0 544.5L753.6 544.8L755.1 545.2L756.7 545.5L758.2 545.8L759.7 546.2L761.3 546.6L762.8 546.9L764.3 547.3L765.7 547.6L767.2 548.0L768.7 548.4L770.1 548.8L771.6 549.1L773.0 549.5L774.5 549.9L775.9 550.3L777.3 550.7L778.7 551.1L780.1 551.5L781.5 551.9L782.8 552.4L784.2 552.8L785.5 553.2L786.9 553.6L788.2 554.1L789.5 554.5L790.8 555.0L792.1 555.4L793.4 555.8L794.6 556.3L795.9 556.8L797.1 557.2L798.4 557.7L799.6 558.2L800.8 558.6L802.0 559.1L803.2 559.6L804.3 560.1L805.5 560.5L806.7 561.0L807.8 561.5L808.9 562.0L810.0 562.5L811.1 563.0L812.2 563.5L813.3 564.0L814.3 564.5L815.4 565.1L816.4 565.6L817.4 566.1L818.4 566.6L819.4 567.2L820.4 567.7L821.4 568.2L822.3 568.8L823.3 569.3L824.2 569.8L825.1 570.4L826.0 570.9L826.9 571.5L827.7 572.0L828.6 572.6L829.4 573.1L830.2 573.7L831.1 574.3L831.9 574.8L832.6 575.4L833.4 576.0L834.2 576.5L834.9 577.1L835.6 577.7L836.3 578.3L837.0 578.8L837.7 579.4L838.4 580.0L839.0 580.6L839.6 581.2L840.3 581.8L840.9 582.4L841.5 583.0L842.0 583.5L842.6 584.1L843.1 584.7L843.7 585.3L844.2 585.9L844.7 586.6L845.2 587.2L845.6 587.8L846.1 588.4L846.5 589.0L846.9 589.6L847.3 590.2L847.7 590.8L848.1 591.4L848.5 592.0L848.8 592.7L849.1 593.3L849.4 593.9L849.7 594.5L850.0 595.1L850.3 595.7L850.5 596.4L850.7 597.0L851.0 597.6L851.2 598.2L851.3 598.9L851.5 599.5L851.7 600.1L851.8 600.7L851.9 601.4L852.0 602.0L852.1 602.6L852.2 603.2L852.2 603.9L852.3 604.5L852.3 605.1L852.3 605.7L852.3 606.4L852.3 607.0L852.2 607.6L852.2 608.3L852.1 608.9L852.0 609.5L851.9 610.1L851.8 610.8L851.7 611.4L851.5 612.0L851.3 612.6L851.2 613.3L851.0 613.9L850.7 614.5L850.5 615.1L850.3 615.7L850.0 616.4L849.7 617.0L849.4 617.6L849.1 618.2L848.8 618.8L848.5 619.5L848.1 620.1L847.7 620.7L847.3 621.3L846.9 621.9L846.5 622.5L846.1 623.1L845.6 623.7L845.2 624.3L844.7 624.9L844.2 625.5L843.7 626.1L843.1 626.7L842.6 627.3L842.0 627.9L841.5 628.5L840.9 629.1L840.3 629.7L839.6 630.3L839.0 630.9L838.4 631.5M446.2 631.5L445.6 630.9L445.0 630.3L444.3 629.7L443.7 629.1L443.1 628.5L442.6 627.9L442.0 627.3L441.5 626.7L440.9 626.1L440.4 625.5L439.9 624.9L439.4 624.3L439.0 623.7L438.5 623.1L438.1 622.5L437.7 621.9L437.3 621.3L436.9 620.7L436.5 620.1L436.1 619.5L435.8 618.8L435.5 618.2M389.0 563.2L388.6 562.5L388.3 561.7L387.9 560.9L387.6 560.2L387.3 559.4L387.0 558.7L386.7 557.9L386.5 557.1L386.3 556.4L386.1 555.6L385.9 554.8L385.7 554.1L385.6 553.3L385.4 552.5L385.3 551.8L385.2 551.0L385.2 550.2L385.1 549.5L385.1 548.7L385.1 547.9L385.1 547.2L385.1 546.4L385.2 545.6L385.2 544.9L385.3 544.1L385.4 543.3L385.6 542.6L385.7 541.8L385.9 541.0L386.1 540.3L386.3 539.5L386.5 538.7L386.7 538.0L387.0 537.2L387.3 536.5L387.6 535.7L387.9 534.9L388.3 534.2L388.6 533.4L389.0 532.7L389.4 531.9L389.8 531.2L390.3 530.4L390.7 529.7L391.2 528.9L391.7 528.2L392.2 527.4L392.7 526.7L393.3 525.9L393.9 525.2L394.4 524.4L395.1 523.7L395.7 523.0L396.3 522.2L397.0 521.5L397.7 520.8L398.4 520.0L399.1 519.3L399.8 518.6L400.6 517.9L401.4 517.1L402.2 516.4L403.0 515.7L403.8 515.0L404.7 514.3L405.5 513.6L406.4 512.9L407.3 512.2L408.2 511.5L409.2 510.8L410.1 510.1L411.1 509.4L412.1 508.7L413.1 508.0L414.2 507.3L415.2 506.6L416.3 506.0L417.3 505.3L418.4 504.6L419.5 504.0L420.7 503.3L421.8 502.6L423.0 502.0L424.2 501.3L425.4 500.7L426.6 500.0L427.8 499.4L429.1 498.8L430.3 498.1L431.6 497.5L432.9 496.9L434.2 496.2L435.5 495.6L436.9 495.0L438.2 494.4L439.6 493.8L441.0 493.2L442.4 492.6L443.8 492.0L445.3 491.4L446.7 490.8L448.2 490.2L449.7 489.7L451.2 489.1L452.7 488.5L454.2 487.9L455.7 487.4L457.3 486.8L458.8 486.3L460.4 485.7L462.0 485.2L463.6 484.7L465.2 484.1L466.9 483.6L468.5 483.1L470.2 482.6L471.9 482.1L473.6 481.6L475.3 481.1L477.0 480.6L478.7 480.1L480.4 479.6L482.2 479.1L483.9 478.6L485.7 478.2L487.5 477.7L489.3 477.2L491.1 476.8L492.9 476.3L494.8 475.9L496.6 475.4L498.5 475.0L500.3 474.6L502.2 474.2L504.1 473.8L506.0 473.3L507.9 472.9L509.8 472.5L511.8 472.1L513.7 471.8L515.6 471.4L517.6 471.0L519.6 470.6L521.5 470.3L523.5 469.9L525.5 469.6L527.5 469.2L529.5 468.9L531.6 468.5L533.6 468.2L535.6 467.9L537.7 467.6L539.7 467.3L541.8 467.0L543.9 466.7L545.9 466.4L548.0 466.1L550.1 465.8L552.2 465.5L554.3 465.3L556.4 465.0L558.6 464.8L560.7 464.5L562.8 464.3L565.0 464.0L567.1 463.8L569.2 463.6L571.4 463.4L573.6 463.2L575.7 463.0L577.9 462.8L580.1 462.6L582.3 462.4L584.4 462.2L586.6 462.1L588.8 461.9L591.0 461.7L593.2 461.6L595.4 461.4L597.6 461.3L599.8 461.2L602.1 461.1L604.3 460.9L606.5 460.8L608.7 460.7L611.0 460.6L613.2 460.5L615.4 460.5L617.6 460.4L619.9 460.3L622.1 460.2L624.4 460.2L626.6 460.1L628.8 460.1L631.1 460.1L633.3 460.0L635.6 460.0L637.8 460.0L640.1 460.0L642.3 460.0L644.5 460.0L646.8 460.0L649.0 460.0L651.3 460.0L653.5 460.1L655.8 460.1L658.0 460.1L660.2 460.2L662.5 460.2L664.7 460.3L667.0 460.4L669.2 460.5L671.4 460.5L673.6 460.6L675.9 460.7L678.1 460.8L680.3 460.9L682.5 461.1L684.8 461.2L687.0 461.3L689.2 461.4L691.4 461.6L693.6 461.7L695.8 461.9L698.0 462.1L700.2 462.2L702.3 462.4L704.5 462.6L706.7 462.8L708.9 463.0L711.0 463.2L713.2 463.4L715.4 463.6L717.5 463.8L719.6 464.0L721.8 464.3L723.9 464.5L726.0 464.8L728.2 465.0L730.3 465.3L732.4 465.5L734.5 465.8L736.6 466.1L738.7 466.4L740.7 466.7L742.8 467.0L744.9 467.3L746.9 467.6L749.0 467.9L751.0 468.2L753.0 468.5L755.1 468.9L757.1 469.2L759.1 469.6L761.1 469.9L763.1 470.3L765.0 470.6L767.0 471.0L769.0 471.4L770.9 471.8L772.8 472.1L774.8 472.5L776.7 472.9L778.6 473.3L780.5 473.8L782.4 474.2L784.3 474.6L786.1 475.0L788.0 475.4L789.8 475.9L791.7 476.3L793.5 476.8L795.3 477.2L797.1 477.7L798.9 478.2L800.7 478.6L802.4 479.1L804.2 479.6L805.9 480.1L807.6 480.6L809.3 481.1L811.0 481.6L812.7 482.1L814.4 482.6L816.1 483.1L817.7 483.6L819.4 484.1L821.0 484.7L822.6 485.2L824.2 485.7L825.8 486.3L827.3 486.8L828.9 487.4L830.4 487.9L831.9 488.5L833.4 489.1L834.9 489.7L836.4 490.2L837.9 490.8L839.3 491.4L840.8 492.0L842.2 492.6L843.6 493.2L845.0 493.8L846.4 494.4L847.7 495.0L849.1 495.6L850.4 496.2L851.7 496.9L853.0 497.5L854.3 498.1L855.5 498.8L856.8 499.4L858.0 500.0L859.2 500.7L860.4 501.3L861.6 502.0L862.8 502.6L863.9 503.3L865.0 504.0L866.2 504.6L867.3 505.3L868.3 506.0L869.4 506.6L870.4 507.3L871.5 508.0L872.5 508.7L873.5 509.4L874.5 510.1L875.4 510.8L876.4 511.5L877.3 512.2L878.2 512.9L879.1 513.6L879.9 514.3L880.8 515.0L881.6 515.7L882.4 516.4L883.2 517.1L884.0 517.9L884.8 518.6L885.5 519.3L886.2 520.0L886.9 520.8L887.6 521.5L888.3 522.2L888.9 523.0L889.5 523.7L890.2 524.4L890.7 525.2L891.3 525.9L891.9 526.7L892.4 527.4L892.9 528.2L893.4 528.9L893.9 529.7L894.3 530.4L894.8 531.2L895.2 531.9L895.6 532.7L896.0 533.4L896.3 534.2L896.7 534.9L897.0 535.7L897.3 536.5L897.6 537.2L897.9 538.0L898.1 538.7L898.3 539.5L898.5 540.3L898.7 541.0L898.9 541.8L899.0 542.6L899.2 543.3L899.3 544.1L899.4 544.9L899.4 545.6L899.5 546.4L899.5 547.2L899.5 547.9L899.5 548.7L899.5 549.5L899.4 550.2L899.4 551.0L899.3 551.8L899.2 552.5L899.0 553.3L898.9 554.1L898.7 554.8L898.5 555.6L898.3 556.4L898.1 557.1L897.9 557.9L897.6 558.7L897.3 559.4L897.0 560.2L896.7 560.9L896.3 561.7L896.0 562.5L895.6 563.2L895.2 564.0L894.8 564.7L894.3 565.5L893.9 566.2M390.7 566.2L390.3 565.5L389.8 564.7L389.4 564.0L389.0 563.2M356.7 490.0L356.5 489.2L356.3 488.3L356.1 487.5L356.0 486.6L355.8 485.8L355.7 484.9L355.6 484.1L355.5 483.2L355.5 482.3L355.4 481.5L355.4 480.6L355.4 479.8L355.5 478.9L355.5 478.1L355.6 477.2L355.7 476.4L355.8 475.5L356.0 474.6L356.1 473.8L356.3 472.9L356.5 472.1L356.7 471.2L357.0 470.4L357.3 469.5L357.6 468.7L357.9 467.8L358.2 467.0L358.6 466.1L359.0 465.3L359.4 464.4L359.8 463.6L360.2 462.8L360.7 461.9L361.2 461.1L361.7 460.2L362.2 459.4L362.8 458.6L363.3 457.7L363.9 456.9L364.6 456.1L365.2 455.2L365.9 454.4L366.5 453.6L367.2 452.8L368.0 451.9L368.7 451.1L369.5 450.3L370.2 449.5L371.0 448.7L371.9 447.9L372.7 447.1L373.6 446.3L374.5 445.5L375.4 444.7L376.3 443.9L377.3 443.1L378.2 442.3L379.2 441.5L380.2 440.7L381.3 439.9L382.3 439.2L383.4 438.4L384.5 437.6L385.6 436.9L386.7 436.1L387.8 435.3L389.0 434.6L390.2 433.8L391.4 433.1L392.6 432.3L393.9 431.6L395.1 430.8L396.4 430.1L397.7 429.4L399.0 428.6L400.3 427.9L401.7 427.2L403.1 426.5L404.5 425.8L405.9 425.1L407.3 424.4L408.7 423.7L410.2 423.0L411.7 422.3L413.2 421.6L414.7 420.9L416.2 420.2L417.8 419.6L419.4 418.9L420.9 418.2L422.5 417.6L424.2 416.9L425.8 416.3L427.4 415.6L429.1 415.0L430.8 414.3L432.5 413.7L434.2 413.1L435.9 412.5L437.7 411.9L439.4 411.3L441.2 410.7L443.0 410.1L444.8 409.5L446.6 408.9L448.5 408.3L450.3 407.7L452.2 407.1L454.1 406.6L456.0 406.0L457.9 405.5L459.8 404.9L461.8 404.4L463.7 403.8L465.7 403.3L467.7 402.8L469.7 402.3L471.7 401.8L473.7 401.3L475.7 400.8L477.8 400.3L479.8 399.8L481.9 399.3L484.0 398.8L486.1 398.3L488.2 397.9L490.3 397.4L492.4 397.0L494.5 396.5L496.7 396.1L498.9 395.7L501.0 395.2L503.2 394.8L505.4 394.4L507.6 394.0L509.8 393.6L512.1 393.2L514.3 392.8L516.5 392.4L518.8 392.1L521.1 391.7L523.3 391.3L525.6 391.0L527.9 390.7L530.2 390.3L532.5 390.0L534.8 389.7L537.2 389.3L539.5 389.0L541.8 388.7L544.2 388.4L546.5 388.1L548.9 387.9L551.3 387.6L553.6 387.3L556.0 387.1L558.4 386.8L560.8 386.6L563.2 386.3L565.6 386.1L568.0 385.9L570.5 385.6L572.9 385.4L575.3 385.2L577.8 385.0L580.2 384.8L582.7 384.7L585.1 384.5L587.6 384.3L590.0 384.2L592.5 384.0L595.0 383.9L597.4 383.7L599.9 383.6L602.4 383.5L604.9 383.4L607.3 383.2L609.8 383.1L612.3 383.1L614.8 383.0L617.3 382.9L619.8 382.8L622.3 382.8L624.8 382.7L627.3 382.6L629.8 382.6L632.3 382.6L634.8 382.5L637.3 382.5L639.8 382.5L642.3 382.5L644.8 382.5L647.3 382.5L649.8 382.5L652.3 382.6L654.8 382.6L657.3 382.6L659.8 382.7L662.3 382.8L664.8 382.8L667.3 382.9L669.8 383.0L672.3 383.1L674.8 383.1L677.3 383.2L679.7 383.4L682.2 383.5L684.7 383.6L687.2 383.7L689.6 383.9L692.1 384.0L694.6 384.2L697.0 384.3L699.5 384.5L701.9 384.7L704.4 384.8L706.8 385.0L709.3 385.2L711.7 385.4L714.1 385.6L716.5 385.9L719.0 386.1L721.4 386.3L723.8 386.6L726.2 386.8L728.6 387.1L731.0 387.3L733.3 387.6L735.7 387.9L738.1 388.1L740.4 388.4L742.8 388.7L745.1 389.0L747.4 389.3L749.8 389.7L752.1 390.0L754.4 390.3L756.7 390.7L759.0 391.0L761.3 391.3L763.5 391.7L765.8 392.1L768.1 392.4L770.3 392.8L772.5 393.2L774.8 393.6L777.0 394.0L779.2 394.4L781.4 394.8L783.6 395.2L785.7 395.7L787.9 396.1L790.1 396.5L792.2 397.0L794.3 397.4L796.4 397.9L798.5 398.3L800.6 398.8L802.7 399.3L804.8 399.8L806.8 400.3L808.9 400.8L810.9 401.3L812.9 401.8L814.9 402.3L816.9 402.8L818.9 403.3L820.9 403.8L822.8 404.4L824.8 404.9L826.7 405.5L828.6 406.0L830.5 406.6L832.4 407.1L834.3 407.7L836.1 408.3L838.0 408.9L839.8 409.5L841.6 410.1L843.4 410.7L845.2 411.3L846.9 411.9L848.7 412.5L850.4 413.1L852.1 413.7L853.8 414.3L855.5 415.0L857.2 415.6L858.8 416.3L860.4 416.9L862.1 417.6L863.7 418.2L865.2 418.9L866.8 419.6L868.4 420.2L869.9 420.9L871.4 421.6L872.9 422.3L874.4 423.0L875.9 423.7L877.3 424.4L878.7 425.1L880.1 425.8L881.5 426.5L882.9 427.2L884.3 427.9L885.6 428.6L886.9 429.4L888.2 430.1L889.5 430.8L890.7 431.6L892.0 432.3L893.2 433.1L894.4 433.8L895.6 434.6L896.8 435.3L897.9 436.1L899.0 436.9L900.1 437.6L901.2 438.4L902.3 439.2L903.3 439.9L904.4 440.7L905.4 441.5L906.4 442.3L907.3 443.1L908.3 443.9L909.2 444.7L910.1 445.5L911.0 446.3L911.9 447.1L912.7 447.9L913.6 448.7L914.4 449.5L915.1 450.3L915.9 451.1L916.6 451.9L917.4 452.8L918.1 453.6L918.7 454.4L919.4 455.2L920.0 456.1L920.7 456.9L921.3 457.7L921.8 458.6L922.4 459.4L922.9 460.2L923.4 461.1L923.9 461.9L924.4 462.8L924.8 463.6L925.2 464.4L925.6 465.3L926.0 466.1L926.4 467.0L926.7 467.8L927.0 468.7L927.3 469.5L927.6 470.4L927.9 471.2L928.1 472.1L928.3 472.9L928.5 473.8L928.6 474.6L928.8 475.5L928.9 476.4L929.0 477.2L929.1 478.1L929.1 478.9L929.2 479.8L929.2 480.6L929.2 481.5L929.1 482.3L929.1 483.2L929.0 484.1L928.9 484.9L928.8 485.8L928.6 486.6L928.5 487.5L928.3 488.3L928.1 489.2L927.9 490.0M345.3 407.5L345.3 406.6L345.4 405.7L345.5 404.9L345.6 404.0L345.7 403.1L345.9 402.2L346.0 401.3L346.2 400.4L346.4 399.5L346.7 398.7L346.9 397.8L347.2 396.9L347.5 396.0L347.8 395.1L348.2 394.3L348.6 393.4L349.0 392.5L349.4 391.6L349.8 390.8L350.3 389.9L350.8 389.0L351.3 388.1L351.8 387.3L352.3 386.4L352.9 385.5L353.5 384.7L354.1 383.8L354.8 383.0L355.4 382.1L356.1 381.3L356.8 380.4L357.5 379.5L358.3 378.7L359.0 377.9L359.8 377.0L360.6 376.2L361.5 375.3L362.3 374.5L363.2 373.7L364.1 372.8L365.0 372.0L366.0 371.2L366.9 370.3L367.9 369.5L368.9 368.7L369.9 367.9L371.0 367.1L372.0 366.3L373.1 365.5L374.2 364.7L375.4 363.9L376.5 363.1L377.7 362.3L378.9 361.5L380.1 360.7L381.3 359.9L382.5 359.2L383.8 358.4L385.1 357.6L386.4 356.8L387.7 356.1L389.1 355.3L390.4 354.6L391.8 353.8L393.2 353.1L394.6 352.3L396.1 351.6L397.5 350.9L399.0 350.1L400.5 349.4L402.0 348.7L403.6 348.0L405.1 347.3L406.7 346.6L408.3 345.9L409.9 345.2L411.5 344.5L413.1 343.8L414.8 343.1L416.5 342.4L418.2 341.8L419.9 341.1L421.6 340.4L423.3 339.8L425.1 339.1L426.9 338.5L428.7 337.8L430.5 337.2L432.3 336.6L434.1 335.9L436.0 335.3L437.9 334.7L439.7 334.1L441.6 333.5L443.6 332.9L445.5 332.3L447.5 331.7L449.4 331.2L451.4 330.6L453.4 330.0L455.4 329.5L457.4 328.9L459.4 328.4L461.5 327.8L463.6 327.3L465.6 326.7L467.7 326.2L469.8 325.7L471.9 325.2L474.1 324.7L476.2 324.2L478.4 323.7L480.5 323.2L482.7 322.7L484.9 322.3L487.1 321.8L489.3 321.3L491.6 320.9L493.8 320.4L496.1 320.0L498.3 319.6L500.6 319.1L502.9 318.7L505.2 318.3L507.5 317.9L509.8 317.5L512.1 317.1L514.4 316.7L516.8 316.3L519.1 316.0L521.5 315.6L523.9 315.2L526.3 314.9L528.6 314.6L531.0 314.2L533.4 313.9L535.9 313.6L538.3 313.3L540.7 312.9L543.2 312.6L545.6 312.4L548.1 312.1L550.5 311.8L553.0 311.5L555.5 311.3L557.9 311.0L560.4 310.8L562.9 310.5L565.4 310.3L567.9 310.1L570.4 309.8L573.0 309.6L575.5 309.4L578.0 309.2L580.6 309.0L583.1 308.9L585.6 308.7L588.2 308.5L590.7 308.4L593.3 308.2L595.8 308.1L598.4 307.9L601.0 307.8L603.5 307.7L606.1 307.6L608.7 307.5L611.3 307.4L613.8 307.3L616.4 307.2L619.0 307.1L621.6 307.1L624.2 307.0L626.8 307.0L629.3 306.9L631.9 306.9L634.5 306.9L637.1 306.8L639.7 306.8L642.3 306.8L644.9 306.8L647.5 306.8L650.1 306.9L652.7 306.9L655.3 306.9L657.8 307.0L660.4 307.0L663.0 307.1L665.6 307.1L668.2 307.2L670.8 307.3L673.3 307.4L675.9 307.5L678.5 307.6L681.1 307.7L683.6 307.8L686.2 307.9L688.8 308.1L691.3 308.2L693.9 308.4L696.4 308.5L699.0 308.7L701.5 308.9L704.0 309.0L706.6 309.2L709.1 309.4L711.6 309.6L714.2 309.8L716.7 310.1L719.2 310.3L721.7 310.5L724.2 310.8L726.7 311.0L729.1 311.3L731.6 311.5L734.1 311.8L736.5 312.1L739.0 312.4L741.4 312.6L743.9 312.9L746.3 313.3L748.7 313.6L751.2 313.9L753.6 314.2L756.0 314.6L758.3 314.9L760.7 315.2L763.1 315.6L765.5 316.0L767.8 316.3L770.2 316.7L772.5 317.1L774.8 317.5L777.1 317.9L779.4 318.3L781.7 318.7L784.0 319.1L786.3 319.6L788.5 320.0L790.8 320.4L793.0 320.9L795.3 321.3L797.5 321.8L799.7 322.3L801.9 322.7L804.1 323.2L806.2 323.7L808.4 324.2L810.5 324.7L812.7 325.2L814.8 325.7L816.9 326.2L819.0 326.7L821.0 327.3L823.1 327.8L825.2 328.4L827.2 328.9L829.2 329.5L831.2 330.0L833.2 330.6L835.2 331.2L837.1 331.7L839.1 332.3L841.0 332.9L843.0 333.5L844.9 334.1L846.7 334.7L848.6 335.3L850.5 335.9L852.3 336.6L854.1 337.2L855.9 337.8L857.7 338.5L859.5 339.1L861.3 339.8L863.0 340.4L864.7 341.1L866.4 341.8L868.1 342.4L869.8 343.1L871.5 343.8L873.1 344.5L874.7 345.2L876.3 345.9L877.9 346.6L879.5 347.3L881.0 348.0L882.6 348.7L884.1 349.4L885.6 350.1L887.1 350.9L888.5 351.6L890.0 352.3L891.4 353.1L892.8 353.8L894.2 354.6L895.5 355.3L896.9 356.1L898.2 356.8L899.5 357.6L900.8 358.4L902.1 359.2L903.3 359.9L904.5 360.7L905.7 361.5L906.9 362.3L908.1 363.1L909.2 363.9L910.4 364.7L911.5 365.5L912.6 366.3L913.6 367.1L914.7 367.9L915.7 368.7L916.7 369.5L917.7 370.3L918.6 371.2L919.6 372.0L920.5 372.8L921.4 373.7L922.3 374.5L923.1 375.3L924.0 376.2L924.8 377.0L925.6 377.9L926.3 378.7L927.1 379.5L927.8 380.4L928.5 381.3L929.2 382.1L929.8 383.0L930.5 383.8L931.1 384.7L931.7 385.5L932.3 386.4L932.8 387.3L933.3 388.1L933.8 389.0L934.3 389.9L934.8 390.8L935.2 391.6L935.6 392.5L936.0 393.4L936.4 394.3L936.8 395.1L937.1 396.0L937.4 396.9L937.7 397.8L937.9 398.7L938.2 399.5L938.4 400.4L938.6 401.3L938.7 402.2L938.9 403.1L939.0 404.0L939.1 404.9L939.2 405.7L939.3 406.6L939.3 407.5L939.3 408.4M357.0 325.9L357.3 325.1L357.6 324.2L357.9 323.4L358.2 322.5L358.6 321.7L359.0 320.8L359.4 320.0L359.8 319.1L360.2 318.3L360.7 317.4L361.2 316.6L361.7 315.8L362.2 314.9L362.8 314.1L363.3 313.3L363.9 312.4L364.6 311.6L365.2 310.8L365.9 309.9L366.5 309.1L367.2 308.3L368.0 307.5L368.7 306.7L369.5 305.8L370.2 305.0L371.0 304.2L371.9 303.4L372.7 302.6L373.6 301.8L374.5 301.0L375.4 300.2L376.3 299.4L377.3 298.6L378.2 297.8L379.2 297.0L380.2 296.3L381.3 295.5L382.3 294.7L383.4 293.9L384.5 293.2L385.6 292.4L386.7 291.6L387.8 290.9L389.0 290.1L390.2 289.3L391.4 288.6L392.6 287.9L393.9 287.1L395.1 286.4L396.4 285.6L397.7 284.9L399.0 284.2L400.3 283.4L401.7 282.7L403.1 282.0L404.5 281.3L405.9 280.6L407.3 279.9L408.7 279.2L410.2 278.5L411.7 277.8L413.2 277.1L414.7 276.4L416.2 275.8L417.8 275.1L419.4 274.4L420.9 273.8L422.5 273.1L424.2 272.4L425.8 271.8L427.4 271.2L429.1 270.5L430.8 269.9L432.5 269.2L434.2 268.6L435.9 268.0L437.7 267.4L439.4 266.8L441.2 266.2L443.0 265.6L444.8 265.0L446.6 264.4L448.5 263.8L450.3 263.3L452.2 262.7L454.1 262.1L456.0 261.6L457.9 261.0L459.8 260.5L461.8 259.9L463.7 259.4L465.7 258.8L467.7 258.3L469.7 257.8L471.7 257.3L473.7 256.8L475.7 256.3L477.8 255.8L479.8 255.3L481.9 254.8L484.0 254.3L486.1 253.9L488.2 253.4L490.3 253.0L492.4 252.5L494.5 252.1L496.7 251.6L498.9 251.2L501.0 250.8L503.2 250.3L505.4 249.9L507.6 249.5L509.8 249.1L512.1 248.7L514.3 248.4L516.5 248.0L518.8 247.6L521.1 247.2L523.3 246.9L525.6 246.5L527.9 246.2L530.2 245.8L532.5 245.5L534.8 245.2L537.2 244.9L539.5 244.6L541.8 244.3L544.2 244.0L546.5 243.7L548.9 243.4L551.3 243.1L553.6 242.9L556.0 242.6L558.4 242.3L560.8 242.1L563.2 241.8L565.6 241.6L568.0 241.4L570.5 241.2L572.9 241.0L575.3 240.8L577.8 240.6L580.2 240.4L582.7 240.2L585.1 240.0L587.6 239.9L590.0 239.7L592.5 239.5L595.0 239.4L597.4 239.3L599.9 239.1L602.4 239.0L604.9 238.9L607.3 238.8L609.8 238.7L612.3 238.6L614.8 238.5L617.3 238.4L619.8 238.4L622.3 238.3L624.8 238.2L627.3 238.2L629.8 238.1L632.3 238.1L634.8 238.1L637.3 238.1L639.8 238.1L642.3 238.0L644.8 238.1L647.3 238.1L649.8 238.1L652.3 238.1L654.8 238.1L657.3 238.2L659.8 238.2L662.3 238.3L664.8 238.4L667.3 238.4L669.8 238.5L672.3 238.6L674.8 238.7L677.3 238.8L679.7 238.9L682.2 239.0L684.7 239.1L687.2 239.3L689.6 239.4L692.1 239.5L694.6 239.7L697.0 239.9L699.5 240.0L701.9 240.2L704.4 240.4L706.8 240.6L709.3 240.8L711.7 241.0L714.1 241.2L716.5 241.4L719.0 241.6L721.4 241.8L723.8 242.1L726.2 242.3L728.6 242.6L731.0 242.9L733.3 243.1L735.7 243.4L738.1 243.7L740.4 244.0L742.8 244.3L745.1 244.6L747.4 244.9L749.8 245.2L752.1 245.5L754.4 245.8L756.7 246.2L759.0 246.5L761.3 246.9L763.5 247.2L765.8 247.6L768.1 248.0L770.3 248.4L772.5 248.7L774.8 249.1L777.0 249.5L779.2 249.9L781.4 250.3L783.6 250.8L785.7 251.2L787.9 251.6L790.1 252.1L792.2 252.5L794.3 253.0L796.4 253.4L798.5 253.9L800.6 254.3L802.7 254.8L804.8 255.3L806.8 255.8L808.9 256.3L810.9 256.8L812.9 257.3L814.9 257.8L816.9 258.3L818.9 258.8L820.9 259.4L822.8 259.9L824.8 260.5L826.7 261.0L828.6 261.6L830.5 262.1L832.4 262.7L834.3 263.3L836.1 263.8L838.0 264.4L839.8 265.0L841.6 265.6L843.4 266.2L845.2 266.8L846.9 267.4L848.7 268.0L850.4 268.6L852.1 269.2L853.8 269.9L855.5 270.5L857.2 271.2L858.8 271.8L860.4 272.4L862.1 273.1L863.7 273.8L865.2 274.4L866.8 275.1L868.4 275.8L869.9 276.4L871.4 277.1L872.9 277.8L874.4 278.5L875.9 279.2L877.3 279.9L878.7 280.6L880.1 281.3L881.5 282.0L882.9 282.7L884.3 283.4L885.6 284.2L886.9 284.9L888.2 285.6L889.5 286.4L890.7 287.1L892.0 287.9L893.2 288.6L894.4 289.3L895.6 290.1L896.8 290.9L897.9 291.6L899.0 292.4L900.1 293.2L901.2 293.9L902.3 294.7L903.3 295.5L904.4 296.3L905.4 297.0L906.4 297.8L907.3 298.6L908.3 299.4L909.2 300.2L910.1 301.0L911.0 301.8L911.9 302.6L912.7 303.4L913.6 304.2L914.4 305.0L915.1 305.8L915.9 306.7L916.6 307.5L917.4 308.3L918.1 309.1L918.7 309.9L919.4 310.8L920.0 311.6L920.7 312.4L921.3 313.3L921.8 314.1L922.4 314.9L922.9 315.8L923.4 316.6L923.9 317.4L924.4 318.3L924.8 319.1L925.2 320.0L925.6 320.8L926.0 321.7L926.4 322.5L926.7 323.4L927.0 324.2L927.3 325.1L927.6 325.9M391.2 249.8L391.7 249.1L392.2 248.3L392.7 247.6L393.3 246.8L393.9 246.1L394.4 245.3L395.1 244.6L395.7 243.9L396.3 243.1L397.0 242.4L397.7 241.7L398.4 240.9L399.1 240.2L399.8 239.5L400.6 238.8L401.4 238.0L402.2 237.3L403.0 236.6L403.8 235.9L404.7 235.2L405.5 234.5L406.4 233.8L407.3 233.1L408.2 232.4L409.2 231.7L410.1 231.0L411.1 230.3L412.1 229.6L413.1 228.9L414.2 228.2L415.2 227.6L416.3 226.9L417.3 226.2L418.4 225.5L419.5 224.9L420.7 224.2L421.8 223.5L423.0 222.9L424.2 222.2L425.4 221.6L426.6 220.9L427.8 220.3L429.1 219.7L430.3 219.0L431.6 218.4L432.9 217.8L434.2 217.1L435.5 216.5L436.9 215.9L438.2 215.3L439.6 214.7L441.0 214.1L442.4 213.5L443.8 212.9L445.3 212.3L446.7 211.7L448.2 211.1L449.7 210.6L451.2 210.0L452.7 209.4L454.2 208.9L455.7 208.3L457.3 207.7L458.8 207.2L460.4 206.7L462.0 206.1L463.6 205.6L465.2 205.0L466.9 204.5L468.5 204.0L470.2 203.5L471.9 203.0L473.6 202.5L475.3 202.0L477.0 201.5L478.7 201.0L480.4 200.5L482.2 200.0L483.9 199.5L485.7 199.1L487.5 198.6L489.3 198.1L491.1 197.7L492.9 197.2L494.8 196.8L496.6 196.4L498.5 195.9L500.3 195.5L502.2 195.1L504.1 194.7L506.0 194.3L507.9 193.8L509.8 193.4L511.8 193.1L513.7 192.7L515.6 192.3L517.6 191.9L519.6 191.5L521.5 191.2L523.5 190.8L525.5 190.5L527.5 190.1L529.5 189.8L531.6 189.5L533.6 189.1L535.6 188.8L537.7 188.5L539.7 188.2L541.8 187.9L543.9 187.6L545.9 187.3L548.0 187.0L550.1 186.7L552.2 186.5L554.3 186.2L556.4 185.9L558.6 185.7L560.7 185.4L562.8 185.2L565.0 185.0L567.1 184.7L569.2 184.5L571.4 184.3L573.6 184.1L575.7 183.9L577.9 183.7L580.1 183.5L582.3 183.3L584.4 183.1L586.6 183.0L588.8 182.8L591.0 182.7L593.2 182.5L595.4 182.4L597.6 182.2L599.8 182.1L602.1 182.0L604.3 181.9L606.5 181.7L608.7 181.6L611.0 181.5L613.2 181.5L615.4 181.4L617.6 181.3L619.9 181.2L622.1 181.2L624.4 181.1L626.6 181.0L628.8 181.0L631.1 181.0L633.3 180.9L635.6 180.9L637.8 180.9L640.1 180.9L642.3 180.9L644.5 180.9L646.8 180.9L649.0 180.9L651.3 180.9L653.5 181.0L655.8 181.0L658.0 181.0L660.2 181.1L662.5 181.2L664.7 181.2L667.0 181.3L669.2 181.4L671.4 181.5L673.6 181.5L675.9 181.6L678.1 181.7L680.3 181.9L682.5 182.0L684.8 182.1L687.0 182.2L689.2 182.4L691.4 182.5L693.6 182.7L695.8 182.8L698.0 183.0L700.2 183.1L702.3 183.3L704.5 183.5L706.7 183.7L708.9 183.9L711.0 184.1L713.2 184.3L715.4 184.5L717.5 184.7L719.6 185.0L721.8 185.2L723.9 185.4L726.0 185.7L728.2 185.9L730.3 186.2L732.4 186.5L734.5 186.7L736.6 187.0L738.7 187.3L740.7 187.6L742.8 187.9L744.9 188.2L746.9 188.5L749.0 188.8L751.0 189.1L753.0 189.5L755.1 189.8L757.1 190.1L759.1 190.5L761.1 190.8L763.1 191.2L765.0 191.5L767.0 191.9L769.0 192.3L770.9 192.7L772.8 193.1L774.8 193.4L776.7 193.8L778.6 194.3L780.5 194.7L782.4 195.1L784.3 195.5L786.1 195.9L788.0 196.4L789.8 196.8L791.7 197.2L793.5 197.7L795.3 198.1L797.1 198.6L798.9 199.1L800.7 199.5L802.4 200.0L804.2 200.5L805.9 201.0L807.6 201.5L809.3 202.0L811.0 202.5L812.7 203.0L814.4 203.5L816.1 204.0L817.7 204.5L819.4 205.0L821.0 205.6L822.6 206.1L824.2 206.7L825.8 207.2L827.3 207.7L828.9 208.3L830.4 208.9L831.9 209.4L833.4 210.0L834.9 210.6L836.4 211.1L837.9 211.7L839.3 212.3L840.8 212.9L842.2 213.5L843.6 214.1L845.0 214.7L846.4 215.3L847.7 215.9L849.1 216.5L850.4 217.1L851.7 217.8L853.0 218.4L854.3 219.0L855.5 219.7L856.8 220.3L858.0 220.9L859.2 221.6L860.4 222.2L861.6 222.9L862.8 223.5L863.9 224.2L865.0 224.9L866.2 225.5L867.3 226.2L868.3 226.9L869.4 227.6L870.4 228.2L871.5 228.9L872.5 229.6L873.5 230.3L874.5 231.0L875.4 231.7L876.4 232.4L877.3 233.1L878.2 233.8L879.1 234.5L879.9 235.2L880.8 235.9L881.6 236.6L882.4 237.3L883.2 238.0L884.0 238.8L884.8 239.5L885.5 240.2L886.2 240.9L886.9 241.7L887.6 242.4L888.3 243.1L888.9 243.9L889.5 244.6L890.2 245.3L890.7 246.1L891.3 246.8L891.9 247.6L892.4 248.3L892.9 249.1L893.4 249.8M446.9 184.7L447.6 184.1L448.3 183.6L449.0 183.0L449.7 182.4L450.4 181.8L451.2 181.3L452.0 180.7L452.7 180.1L453.5 179.6L454.4 179.0L455.2 178.4L456.0 177.9L456.9 177.3L457.7 176.8L458.6 176.2L459.5 175.7L460.4 175.1L461.3 174.6L462.3 174.1L463.2 173.5L464.2 173.0L465.2 172.5L466.2 171.9L467.2 171.4L468.2 170.9L469.2 170.4L470.3 169.9L471.3 169.3L472.4 168.8L473.5 168.3L474.6 167.8L475.7 167.3L476.8 166.8L477.9 166.3L479.1 165.9L480.3 165.4L481.4 164.9L482.6 164.4L483.8 163.9L485.0 163.5L486.2 163.0L487.5 162.5L488.7 162.1L490.0 161.6L491.2 161.2L492.5 160.7L493.8 160.3L495.1 159.8L496.4 159.4L497.7 159.0L499.1 158.5L500.4 158.1L501.8 157.7L503.1 157.3L504.5 156.8L505.9 156.4L507.3 156.0L508.7 155.6L510.1 155.2L511.6 154.8L513.0 154.5L514.5 154.1L515.9 153.7L517.4 153.3L518.9 152.9L520.3 152.6L521.8 152.2L523.3 151.9L524.9 151.5L526.4 151.2L527.9 150.8L529.5 150.5L531.0 150.1L532.6 149.8L534.1 149.5L535.7 149.2L537.3 148.8L538.9 148.5L540.5 148.2L542.1 147.9L543.7 147.6L545.3 147.3L547.0 147.1L548.6 146.8L550.2 146.5L551.9 146.2L553.5 146.0L555.2 145.7L556.9 145.4L558.6 145.2L560.2 144.9L561.9 144.7L563.6 144.5L565.3 144.2L567.0 144.0L568.8 143.8L570.5 143.6L572.2 143.3L573.9 143.1L575.7 142.9L577.4 142.7L579.1 142.6L580.9 142.4L582.7 142.2L584.4 142.0L586.2 141.8L587.9 141.7L589.7 141.5L591.5 141.4L593.3 141.2L595.1 141.1L596.8 140.9L598.6 140.8L600.4 140.7L602.2 140.5L604.0 140.4L605.8 140.3L607.6 140.2L609.4 140.1L611.3 140.0L613.1 139.9L614.9 139.8L616.7 139.8L618.5 139.7L620.3 139.6L622.2 139.6L624.0 139.5L625.8 139.4L627.7 139.4L629.5 139.4L631.3 139.3L633.1 139.3L635.0 139.3L636.8 139.3L638.6 139.2L640.5 139.2L642.3 139.2L644.1 139.2L646.0 139.2L647.8 139.3L649.6 139.3L651.5 139.3L653.3 139.3L655.1 139.4L656.9 139.4L658.8 139.4L660.6 139.5L662.4 139.6L664.3 139.6L666.1 139.7L667.9 139.8L669.7 139.8L671.5 139.9L673.3 140.0L675.2 140.1L677.0 140.2L678.8 140.3L680.6 140.4L682.4 140.5L684.2 140.7L686.0 140.8L687.8 140.9L689.5 141.1L691.3 141.2L693.1 141.4L694.9 141.5L696.7 141.7L698.4 141.8L700.2 142.0L701.9 142.2L703.7 142.4L705.5 142.6L707.2 142.7L708.9 142.9L710.7 143.1L712.4 143.3L714.1 143.6L715.8 143.8L717.6 144.0L719.3 144.2L721.0 144.5L722.7 144.7L724.4 144.9L726.0 145.2L727.7 145.4L729.4 145.7L731.1 146.0L732.7 146.2L734.4 146.5L736.0 146.8L737.6 147.1L739.3 147.3L740.9 147.6L742.5 147.9L744.1 148.2L745.7 148.5L747.3 148.8L748.9 149.2L750.5 149.5L752.0 149.8L753.6 150.1L755.1 150.5L756.7 150.8L758.2 151.2L759.7 151.5L761.3 151.9L762.8 152.2L764.3 152.6L765.7 152.9L767.2 153.3L768.7 153.7L770.1 154.1L771.6 154.5L773.0 154.8L774.5 155.2L775.9 155.6L777.3 156.0L778.7 156.4L780.1 156.8L781.5 157.3L782.8 157.7L784.2 158.1L785.5 158.5L786.9 159.0L788.2 159.4L789.5 159.8L790.8 160.3L792.1 160.7L793.4 161.2L794.6 161.6L795.9 162.1L797.1 162.5L798.4 163.0L799.6 163.5L800.8 163.9L802.0 164.4L803.2 164.9L804.3 165.4L805.5 165.9L806.7 166.3L807.8 166.8L808.9 167.3L810.0 167.8L811.1 168.3L812.2 168.8L813.3 169.3L814.3 169.9L815.4 170.4L816.4 170.9L817.4 171.4L818.4 171.9L819.4 172.5L820.4 173.0L821.4 173.5L822.3 174.1L823.3 174.6L824.2 175.1L825.1 175.7L826.0 176.2L826.9 176.8L827.7 177.3L828.6 177.9L829.4 178.4L830.2 179.0L831.1 179.6L831.9 180.1L832.6 180.7L833.4 181.3L834.2 181.8L834.9 182.4L835.6 183.0L836.3 183.6L837.0 184.1L837.7 184.7M527.7 134.4L528.5 134.1L529.4 133.7L530.2 133.4L531.1 133.0L531.9 132.7L532.8 132.4L533.7 132.1L534.6 131.7L535.5 131.4L536.4 131.1L537.3 130.8L538.2 130.5L539.1 130.2L540.1 129.9L541.0 129.6L542.0 129.3L542.9 129.0L543.9 128.7L544.9 128.4L545.9 128.1L546.8 127.8L547.8 127.5L548.8 127.2L549.9 127.0L550.9 126.7L551.9 126.4L552.9 126.1L554.0 125.9L555.0 125.6L556.1 125.4L557.1 125.1L558.2 124.8L559.3 124.6L560.3 124.3L561.4 124.1L562.5 123.9L563.6 123.6L564.7 123.4L565.8 123.2L566.9 122.9L568.0 122.7L569.2 122.5L570.3 122.3L571.4 122.1L572.6 121.9L573.7 121.7L574.9 121.4L576.0 121.2L577.2 121.1L578.4 120.9L579.5 120.7L580.7 120.5L581.9 120.3L583.1 120.1L584.3 119.9L585.5 119.8L586.7 119.6L587.9 119.4L589.1 119.3L590.3 119.1L591.5 119.0L592.7 118.8L594.0 118.7L595.2 118.5L596.4 118.4L597.6 118.3L598.9 118.1L600.1 118.0L601.4 117.9L602.6 117.8L603.9 117.6L605.1 117.5L606.4 117.4L607.6 117.3L608.9 117.2L610.2 117.1L611.4 117.0L612.7 116.9L614.0 116.8L615.2 116.8L616.5 116.7L617.8 116.6L619.1 116.5L620.4 116.5L621.6 116.4L622.9 116.3L624.2 116.3L625.5 116.2L626.8 116.2L628.1 116.1L629.4 116.1L630.6 116.1L631.9 116.0L633.2 116.0L634.5 116.0L635.8 116.0L637.1 115.9L638.4 115.9L639.7 115.9L641.0 115.9L642.3 115.9L643.6 115.9L644.9 115.9L646.2 115.9L647.5 115.9L648.8 116.0L650.1 116.0L651.4 116.0L652.7 116.0L654.0 116.1L655.2 116.1L656.5 116.1L657.8 116.2L659.1 116.2L660.4 116.3L661.7 116.3L663.0 116.4L664.2 116.5L665.5 116.5L666.8 116.6L668.1 116.7L669.4 116.8L670.6 116.8L671.9 116.9L673.2 117.0L674.4 117.1L675.7 117.2L677.0 117.3L678.2 117.4L679.5 117.5L680.7 117.6L682.0 117.8L683.2 117.9L684.5 118.0L685.7 118.1L687.0 118.3L688.2 118.4L689.4 118.5L690.6 118.7L691.9 118.8L693.1 119.0L694.3 119.1L695.5 119.3L696.7 119.4L697.9 119.6L699.1 119.8L700.3 119.9L701.5 120.1L702.7 120.3L703.9 120.5L705.1 120.7L706.2 120.9L707.4 121.1L708.6 121.2L709.7 121.4L710.9 121.7L712.0 121.9L713.2 122.1L714.3 122.3L715.4 122.5L716.5 122.7L717.7 122.9L718.8 123.2L719.9 123.4L721.0 123.6L722.1 123.9L723.2 124.1L724.3 124.3L725.3 124.6L726.4 124.8L727.5 125.1L728.5 125.4L729.6 125.6L730.6 125.9L731.7 126.1L732.7 126.4L733.7 126.7L734.7 127.0L735.8 127.2L736.8 127.5L737.8 127.8L738.7 128.1L739.7 128.4L740.7 128.7L741.7 129.0L742.6 129.3L743.6 129.6L744.5 129.9L745.5 130.2L746.4 130.5L747.3 130.8L748.2 131.1L749.1 131.4L750.0 131.7L750.9 132.1L751.8 132.4L752.7 132.7L753.5 133.0L754.4 133.4L755.2 133.7L756.1 134.1L756.9 134.4" fill="none" stroke="#000" stroke-width="1.4" stroke-dasharray="1.4 2.3"/><polyline points="881.9,583.7 898.5,553.8 915.1,520.6 928.4,490.6 935.1,474.0" fill="none" stroke="#000" stroke-width="1.2"/><polyline points="411.5,593.7 426.4,613.6 439.7,626.9 453.0,636.9" fill="none" stroke="#000" stroke-width="1.2"/><polyline points="858.6,204.7 868.6,214.7" fill="none" stroke="#000" stroke-width="1.2"/><polyline points="369.9,291.2 374.9,279.5" fill="none" stroke="#000" stroke-width="1.2"/><polyline points="875.2,228.0 885.2,241.3" fill="none" stroke="#000" stroke-width="1.2"/><circle cx="584.3" cy="311.8" r="2.2" fill="#000"/><circle cx="512.9" cy="456.7" r="1.2" fill="#000"/><circle cx="639.2" cy="479.0" r="1" fill="#000"/><circle cx="647.5" cy="479.0" r="1" fill="#000"/><circle cx="911.8" cy="405.9" r="1.2" fill="#000"/><circle cx="861.9" cy="547.2" r="1.2" fill="#000"/><circle cx="856.0" cy="563.8" r="1.2" fill="#000"/><circle cx="709.0" cy="175.5" r="1" fill="#000"/><circle cx="760.5" cy="592.4" r="2" fill="#000"/><circle cx="705.7" cy="569.4" r="1.8" fill="#000"/><circle cx="712.3" cy="570.4" r="1.5" fill="#000"/><circle cx="655.8" cy="225.3" r="1.6" fill="#000"/><circle cx="709.0" cy="226.7" r="1.5" fill="#000"/><circle cx="649.2" cy="191.4" r="1.2" fill="#000"/><circle cx="655.8" cy="198.8" r="1.2" fill="#000"/><circle cx="664.1" cy="205.4" r="1.2" fill="#000"/><circle cx="521.5" cy="160.2" r="1.5" fill="#000"/><circle cx="502.9" cy="148.2" r="2.5" fill="#000"/></g>
<rect x="1600.5" y="33" width="1.5" height="4" fill="#000"/><g stroke="#151515" stroke-width="2" fill="none"><path d="M298.0 36.0V2367.0H1908.0"/><path d="M273.0 2367.0H298.0"/><path d="M273.0 2092.8H298.0"/><path d="M273.0 1818.5H298.0"/><path d="M273.0 1544.3H298.0"/><path d="M273.0 1270.1H298.0"/><path d="M273.0 995.8H298.0"/><path d="M273.0 721.6H298.0"/><path d="M273.0 447.4H298.0"/><path d="M273.0 173.1H298.0"/><path d="M298.0 2367.0V2392.0"/><path d="M620.0 2367.0V2392.0"/><path d="M942.0 2367.0V2392.0"/><path d="M1264.0 2367.0V2392.0"/><path d="M1586.0 2367.0V2392.0"/><path d="M1908.0 2367.0V2392.0"/></g><text class="tk" x="251.5" y="2392.5" text-anchor="end">-38</text><text class="tk" x="251.5" y="2118.3" text-anchor="end">-37</text><text class="tk" x="251.5" y="1844.0" text-anchor="end">-36</text><text class="tk" x="251.5" y="1569.8" text-anchor="end">-35</text><text class="tk" x="251.5" y="1295.6" text-anchor="end">-34</text><text class="tk" x="251.5" y="1021.3" text-anchor="end">-33</text><text class="tk" x="251.5" y="747.1" text-anchor="end">-32</text><text class="tk" x="251.5" y="472.9" text-anchor="end">-31</text><text class="tk" x="251.5" y="198.6" text-anchor="end">-30</text><text class="tk" x="297.0" y="2481.6" text-anchor="middle">-74</text><text class="tk" x="619.0" y="2481.6" text-anchor="middle">-73</text><text class="tk" x="941.0" y="2481.6" text-anchor="middle">-72</text><text class="tk" x="1263.0" y="2481.6" text-anchor="middle">-71</text><text class="tk" x="1585.0" y="2481.6" text-anchor="middle">-70</text><text class="tk" x="1907.0" y="2481.6" text-anchor="middle">-69</text><text class="lab" style="font-size:79px" x="1103" y="2575.6" text-anchor="middle">Longitude</text><text class="lab" style="font-size:79px" transform="translate(104.5 1202) rotate(-90)" text-anchor="middle">Latitude</text><rect x="2036" y="1058.3" width="45" height="50.5" fill="#F9FB15"/><rect x="2036" y="1008.3" width="45" height="50.5" fill="#F5E427"/><rect x="2036" y="958.3" width="45" height="50.5" fill="#FDD22D"/><rect x="2036" y="908.3" width="45" height="50.5" fill="#FDBA3A"/><rect x="2036" y="858.3" width="45" height="50.5" fill="#E3B92E"/><rect x="2036" y="808.3" width="45" height="50.5" fill="#BCBE30"/><rect x="2036" y="758.3" width="45" height="50.5" fill="#8FCA4C"/><rect x="2036" y="708.3" width="45" height="50.5" fill="#62CC70"/><rect x="2036" y="658.3" width="45" height="50.5" fill="#3EC891"/><rect x="2036" y="608.3" width="45" height="50.5" fill="#26BFB0"/><rect x="2036" y="558.3" width="45" height="50.5" fill="#02B7CB"/><rect x="2036" y="508.3" width="45" height="50.5" fill="#17ABDB"/><rect x="2036" y="458.3" width="45" height="50.5" fill="#239DE6"/><rect x="2036" y="408.3" width="45" height="50.5" fill="#2D8CF3"/><rect x="2036" y="358.3" width="45" height="50.5" fill="#317BFB"/><rect x="2036" y="308.3" width="45" height="50.5" fill="#4367FD"/><rect x="2036" y="258.3" width="45" height="50.5" fill="#4854F5"/><rect x="2036" y="208.3" width="45" height="50.5" fill="#4743E4"/><rect x="2036" y="158.3" width="45" height="50.5" fill="#4433CB"/><rect x="2036" y="108.3" width="45" height="50.5" fill="#3D26A8"/><rect x="2036" y="108.3" width="45" height="1000.0" fill="none" stroke="#262626" stroke-width="1.6"/><text class="cb" x="2101.2" y="1128.4">0</text><path d="M2071 1008.3H2081" stroke="#262626" stroke-width="1.3"/><text class="cb" x="2101.2" y="1028.4">200</text><path d="M2071 908.3H2081" stroke="#262626" stroke-width="1.3"/><text class="cb" x="2101.2" y="928.4">400</text><path d="M2071 808.3H2081" stroke="#262626" stroke-width="1.3"/><text class="cb" x="2101.2" y="828.4">600</text><path d="M2071 708.3H2081" stroke="#262626" stroke-width="1.3"/><text class="cb" x="2101.2" y="728.4">800</text><path d="M2071 608.3H2081" stroke="#262626" stroke-width="1.3"/><text class="cb" x="2101.2" y="628.4">1000</text><path d="M2071 508.3H2081" stroke="#262626" stroke-width="1.3"/><text class="cb" x="2101.2" y="528.4">1200</text><path d="M2071 408.3H2081" stroke="#262626" stroke-width="1.3"/><text class="cb" x="2101.2" y="428.4">1400</text><path d="M2071 308.3H2081" stroke="#262626" stroke-width="1.3"/><text class="cb" x="2101.2" y="328.4">1600</text><path d="M2071 208.3H2081" stroke="#262626" stroke-width="1.3"/><text class="cb" x="2101.2" y="228.4">1800</text><text class="cb" x="2101.2" y="128.4">2000</text><text class="lab" transform="translate(2318.6 611) rotate(-90)" text-anchor="middle">Annual Precip. [mm]</text><rect x="2036" y="2052.3" width="45" height="200.8" fill="#ffffff"/><rect x="2036" y="1852.0" width="45" height="200.8" fill="#bfbfbf"/><rect x="2036" y="1651.8" width="45" height="200.8" fill="#808080"/><rect x="2036" y="1451.5" width="45" height="200.8" fill="#404040"/><rect x="2036" y="1251.2" width="45" height="200.8" fill="#000000"/><rect x="2036" y="1251.2" width="45" height="1001.3999999999999" fill="none" stroke="#262626" stroke-width="1.6"/><text class="cb" x="2101.2" y="2272.7">0</text><path d="M2071 2052.3H2081" stroke="#262626" stroke-width="1.3"/><text class="cb" x="2101.2" y="2072.4">1000</text><path d="M2071 1852.0H2081" stroke="#262626" stroke-width="1.3"/><text class="cb" x="2101.2" y="1872.1">2000</text><path d="M2071 1651.8H2081" stroke="#262626" stroke-width="1.3"/><text class="cb" x="2101.2" y="1671.9">3000</text><path d="M2071 1451.5H2081" stroke="#262626" stroke-width="1.3"/><text class="cb" x="2101.2" y="1471.6">4000</text><text class="cb" x="2101.2" y="1271.3">5000</text><text class="lab" style="font-size:64.5px" transform="translate(2318.6 1754.3) rotate(-90)" text-anchor="middle">Terrain elevation [mASL]</text></svg></body></html>
